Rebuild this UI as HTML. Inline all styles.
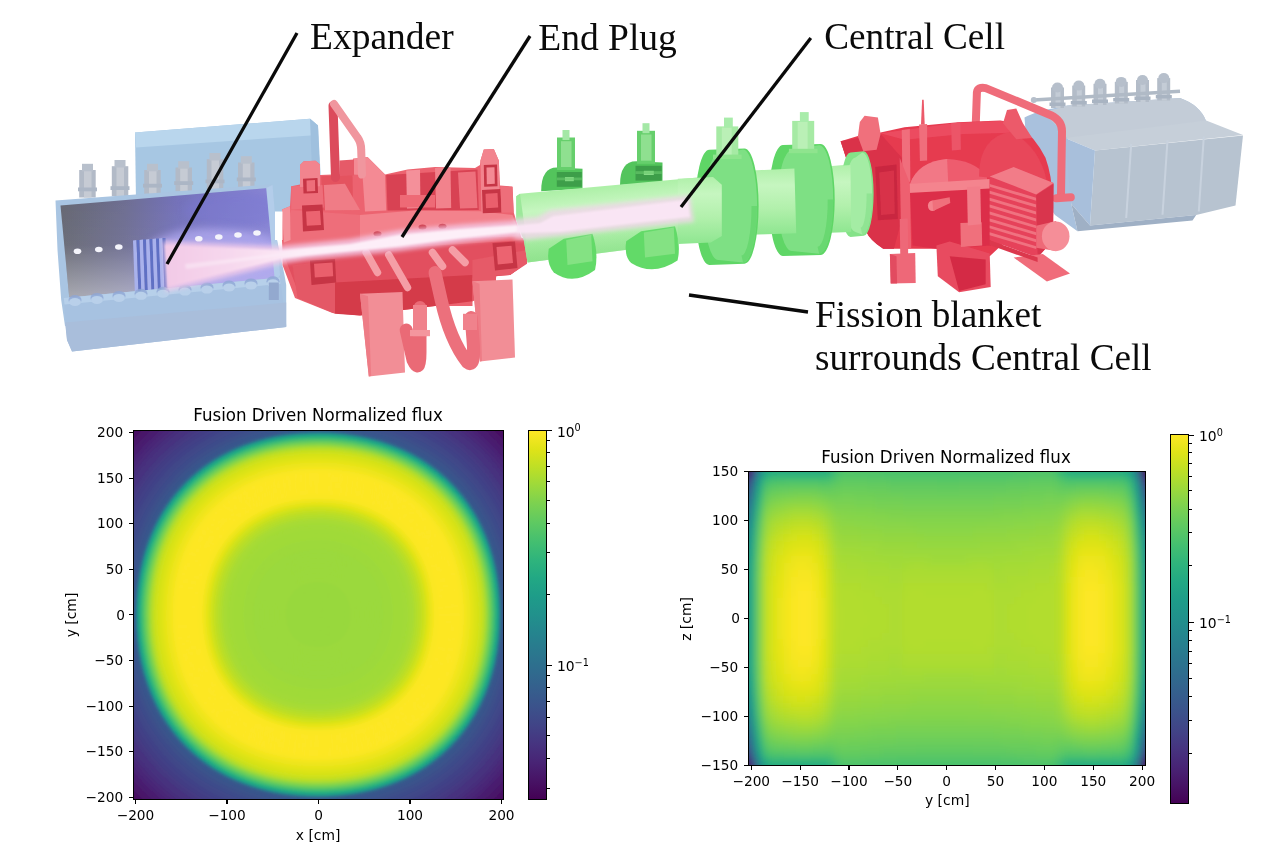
<!DOCTYPE html>
<html><head><meta charset="utf-8"><title>Fusion Driven Normalized flux</title>
<style>
html,body{margin:0;padding:0;background:#fff}
body{width:1280px;height:864px;position:relative;overflow:hidden;font-family:"DejaVu Sans","Liberation Sans",sans-serif;color:#000}
.abs{position:absolute}
.lbl{position:absolute;font-family:"Liberation Serif",serif;font-size:37.5px;line-height:1;white-space:nowrap;color:#0a0a0a}
.ax{position:absolute;box-sizing:border-box;border:1.1px solid #000}
.tk{position:absolute;background:#000}
.tl{position:absolute;font-size:13.7px;line-height:17px;white-space:nowrap}
.tl.c{width:80px;text-align:center}
.ttl{position:absolute;font-size:16.67px;line-height:20px;white-space:nowrap;width:400px;text-align:center;transform:scaleY(1.06);transform-origin:50% 78%}
.al{position:absolute;font-size:13.89px;line-height:17px;white-space:nowrap}
.cbl{position:absolute;font-size:13.89px;line-height:17px;white-space:nowrap}
.cbl sup{font-size:9.7px;line-height:0;position:relative;top:0.5px;vertical-align:super}
</style></head><body>
<svg id="machine" width="1280" height="400" viewBox="0 0 1280 400" style="position:absolute;left:0;top:0">
<defs>
<filter id="soft" x="-2%" y="-2%" width="104%" height="104%"><feGaussianBlur stdDeviation="0.7"/></filter>
<filter id="bl2" x="-20%" y="-20%" width="140%" height="140%"><feGaussianBlur stdDeviation="2"/></filter>
<filter id="bl4" x="-20%" y="-20%" width="140%" height="140%"><feGaussianBlur stdDeviation="4"/></filter>
<filter id="bl1" x="-20%" y="-20%" width="140%" height="140%"><feGaussianBlur stdDeviation="1.2"/></filter>
<linearGradient id="exi" gradientUnits="userSpaceOnUse" x1="60" y1="0" x2="275" y2="0"><stop offset="0" stop-color="#666872"/><stop offset="0.3" stop-color="#6e6e92"/><stop offset="0.55" stop-color="#7472ba"/><stop offset="1" stop-color="#8a86d6"/></linearGradient>
<linearGradient id="exv" gradientUnits="userSpaceOnUse" x1="0" y1="200" x2="0" y2="300"><stop offset="0" stop-color="#ffffff" stop-opacity="0"/><stop offset="0.45" stop-color="#ffffff" stop-opacity="0.04"/><stop offset="1" stop-color="#ffffff" stop-opacity="0.45"/></linearGradient>
<clipPath id="exclip"><polygon points="60.5,205.5 268.0,188.0 275.5,282.5 69.5,300.5"/></clipPath>
<linearGradient id="tubem" gradientUnits="userSpaceOnUse" x1="516" y1="196" x2="522.6" y2="263"><stop offset="0" stop-color="#aef0a8"/><stop offset="0.25" stop-color="#c6f6c0"/><stop offset="0.6" stop-color="#b4f0ae"/><stop offset="1" stop-color="#90e690"/></linearGradient>
<linearGradient id="tubesh" gradientUnits="userSpaceOnUse" x1="0" y1="230" x2="0" y2="265"><stop offset="0" stop-color="#9be694" stop-opacity="0"/><stop offset="1" stop-color="#8fe08c" stop-opacity="0.7"/></linearGradient>
<linearGradient id="tubeg" gradientUnits="objectBoundingBox" x1="0" y1="0" x2="0" y2="1"><stop offset="0" stop-color="#b0f0aa"/><stop offset="0.25" stop-color="#c6f6c0"/><stop offset="0.6" stop-color="#b2f0ac"/><stop offset="1" stop-color="#8ee690"/></linearGradient>
<linearGradient id="coreg" gradientUnits="userSpaceOnUse" x1="165" y1="0" x2="517" y2="0"><stop offset="0" stop-color="#f2c9e6"/><stop offset="0.2" stop-color="#f7d9ee"/><stop offset="0.4" stop-color="#fdeef8"/><stop offset="1" stop-color="#fdf0f8"/></linearGradient>
</defs>
<g filter="url(#soft)">
<polygon points="135.0,132.5 310.0,118.8 318.0,125.5 320.5,172.5 321.2,215.0 136.2,215.0" fill="#a7c7e3" />
<polygon points="135.0,132.5 310.0,118.8 318.0,125.5 318.0,135.0 135.8,147.5" fill="#b9d6ed" />
<polygon points="310.0,118.8 318.0,125.5 321.2,215.0 313.8,215.0" fill="#9fc0de" />
<rect x="79.2" y="170.0" width="16.5" height="27.5" fill="#b2bac7" />
<rect x="84.0" y="170.0" width="7.5" height="27.5" fill="#c6cbd4" />
<rect x="82.0" y="163.8" width="11.0" height="7.5" fill="#b8c0cc" />
<rect x="78.0" y="187.5" width="19.0" height="3.8" fill="#acb6c5" />
<rect x="111.8" y="166.2" width="16.5" height="30.0" fill="#b2bac7" />
<rect x="116.5" y="166.2" width="7.5" height="30.0" fill="#c6cbd4" />
<rect x="114.5" y="160.0" width="11.0" height="7.5" fill="#b8c0cc" />
<rect x="110.5" y="186.2" width="19.0" height="3.8" fill="#acb6c5" />
<rect x="144.2" y="170.0" width="16.5" height="23.8" fill="#b2bac7" />
<rect x="149.0" y="170.0" width="7.5" height="23.8" fill="#c6cbd4" />
<rect x="147.0" y="163.8" width="11.0" height="7.5" fill="#b8c0cc" />
<rect x="143.0" y="183.8" width="19.0" height="3.8" fill="#acb6c5" />
<rect x="175.5" y="167.5" width="16.5" height="23.8" fill="#b2bac7" />
<rect x="180.2" y="167.5" width="7.5" height="23.8" fill="#c6cbd4" />
<rect x="178.2" y="161.2" width="11.0" height="7.5" fill="#b8c0cc" />
<rect x="174.2" y="181.2" width="19.0" height="3.8" fill="#acb6c5" />
<rect x="206.8" y="159.2" width="16.5" height="30.2" fill="#b2bac7" />
<rect x="211.5" y="159.2" width="7.5" height="30.2" fill="#c6cbd4" />
<rect x="209.5" y="153.0" width="11.0" height="7.5" fill="#b8c0cc" />
<rect x="205.5" y="179.5" width="19.0" height="3.8" fill="#acb6c5" />
<rect x="238.0" y="162.5" width="16.5" height="25.0" fill="#b2bac7" />
<rect x="242.8" y="162.5" width="7.5" height="25.0" fill="#c6cbd4" />
<rect x="240.8" y="156.2" width="11.0" height="7.5" fill="#b8c0cc" />
<rect x="236.8" y="177.5" width="19.0" height="3.8" fill="#acb6c5" />
<polygon points="55.5,200.5 268.8,184.5 272.5,185.0 277.0,240.0 284.5,275.0 286.2,285.0 286.2,326.0 65.0,326.0 61.2,300.0 57.5,250.0" fill="#a9c5e2" />
<polygon points="60.5,205.5 268.0,188.0 275.5,282.5 69.5,300.5" fill="url(#exi)" />
<polygon points="60.5,205.5 268.0,188.0 275.5,282.5 69.5,300.5" fill="url(#exv)" />
<g clip-path="url(#exclip)">
<ellipse cx="215.0" cy="260.0" rx="75.0" ry="32.5" fill="#b4acf2" opacity="0.75" filter="url(#bl4)"/>
<ellipse cx="235.0" cy="210.0" rx="50.0" ry="17.5" fill="#7a78d2" opacity="0.5" filter="url(#bl4)"/>
</g>
<polygon points="266.2,188.0 272.5,185.0 280.0,275.0 275.0,282.5" fill="#b3cdea" />
<ellipse cx="77.5" cy="251.2" rx="3.8" ry="2.8" fill="#f4f4fb" />
<ellipse cx="98.8" cy="249.5" rx="3.8" ry="2.8" fill="#f4f4fb" />
<ellipse cx="118.8" cy="247.0" rx="3.8" ry="2.8" fill="#f4f4fb" />
<ellipse cx="198.8" cy="238.8" rx="3.8" ry="2.8" fill="#f4f4fb" />
<ellipse cx="218.8" cy="237.0" rx="3.8" ry="2.8" fill="#f4f4fb" />
<ellipse cx="238.0" cy="235.0" rx="3.8" ry="2.8" fill="#f4f4fb" />
<ellipse cx="257.0" cy="233.0" rx="3.8" ry="2.8" fill="#f4f4fb" />
<polygon points="133.0,240.5 136.5,240.0 138.5,295.0 135.0,296.2" fill="#a9b2ec" />
<polygon points="136.5,240.0 139.5,240.0 141.5,294.5 138.5,295.0" fill="#5f70c4" />
<polygon points="139.5,240.0 143.0,239.5 145.0,294.0 141.5,295.2" fill="#a9b2ec" />
<polygon points="143.0,239.5 146.0,239.5 148.0,293.5 145.0,294.0" fill="#5f70c4" />
<polygon points="146.0,239.5 149.5,239.0 151.5,293.0 148.0,294.2" fill="#a9b2ec" />
<polygon points="149.5,239.0 152.5,239.0 154.5,292.5 151.5,293.0" fill="#5f70c4" />
<polygon points="152.5,239.0 156.0,238.5 158.0,292.0 154.5,293.2" fill="#a9b2ec" />
<polygon points="156.0,238.5 159.0,238.5 161.0,291.5 158.0,292.0" fill="#5f70c4" />
<polygon points="159.0,238.5 162.5,238.0 164.5,291.0 161.0,292.2" fill="#a9b2ec" />
<polygon points="162.5,238.0 165.5,238.0 167.5,290.5 164.5,291.0" fill="#5f70c4" />
<polygon points="63.8,298.0 280.0,277.5 286.2,325.0 286.2,327.0 72.0,351.5 67.0,340.0" fill="#a7c2e1" />
<polygon points="63.8,298.0 280.0,277.5 280.5,283.8 64.5,304.5" fill="#b7d0ea" />
<polygon points="65.0,322.5 286.2,302.5 286.2,327.0 72.0,351.5 67.0,340.0" fill="#a9bedb" />
<ellipse cx="75.0" cy="300.0" rx="6.5" ry="5.0" fill="#8fa6d4" opacity="0.8"/>
<ellipse cx="75.0" cy="302.0" rx="6.0" ry="4.0" fill="#b9d0ea" />
<ellipse cx="97.0" cy="297.9" rx="6.5" ry="5.0" fill="#8fa6d4" opacity="0.8"/>
<ellipse cx="97.0" cy="299.9" rx="6.0" ry="4.0" fill="#b9d0ea" />
<ellipse cx="119.0" cy="295.9" rx="6.5" ry="5.0" fill="#8fa6d4" opacity="0.8"/>
<ellipse cx="119.0" cy="297.9" rx="6.0" ry="4.0" fill="#b9d0ea" />
<ellipse cx="141.0" cy="293.8" rx="6.5" ry="5.0" fill="#8fa6d4" opacity="0.8"/>
<ellipse cx="141.0" cy="295.8" rx="6.0" ry="4.0" fill="#b9d0ea" />
<ellipse cx="163.0" cy="291.7" rx="6.5" ry="5.0" fill="#8fa6d4" opacity="0.8"/>
<ellipse cx="163.0" cy="293.7" rx="6.0" ry="4.0" fill="#b9d0ea" />
<ellipse cx="185.0" cy="289.6" rx="6.5" ry="5.0" fill="#8fa6d4" opacity="0.8"/>
<ellipse cx="185.0" cy="291.6" rx="6.0" ry="4.0" fill="#b9d0ea" />
<ellipse cx="207.0" cy="287.6" rx="6.5" ry="5.0" fill="#8fa6d4" opacity="0.8"/>
<ellipse cx="207.0" cy="289.6" rx="6.0" ry="4.0" fill="#b9d0ea" />
<ellipse cx="229.0" cy="285.5" rx="6.5" ry="5.0" fill="#8fa6d4" opacity="0.8"/>
<ellipse cx="229.0" cy="287.5" rx="6.0" ry="4.0" fill="#b9d0ea" />
<ellipse cx="251.0" cy="283.4" rx="6.5" ry="5.0" fill="#8fa6d4" opacity="0.8"/>
<ellipse cx="251.0" cy="285.4" rx="6.0" ry="4.0" fill="#b9d0ea" />
<ellipse cx="273.0" cy="281.3" rx="6.5" ry="5.0" fill="#8fa6d4" opacity="0.8"/>
<ellipse cx="273.0" cy="283.3" rx="6.0" ry="4.0" fill="#b9d0ea" />
<rect x="268.8" y="282.5" width="10.0" height="17.5" fill="#93a9cf" />
<polygon points="282.0,209.5 290.0,206.2 291.2,186.2 300.0,184.5 300.0,165.0 303.8,161.2 315.5,160.8 320.0,164.5 320.0,175.0 352.5,173.8 353.0,158.8 367.5,157.0 385.0,174.5 407.5,169.5 435.0,167.0 475.0,168.0 480.0,165.0 480.5,160.5 483.8,149.5 493.8,149.0 498.8,160.5 500.0,185.5 512.5,186.5 513.8,212.5 521.2,237.5 527.0,240.0 527.0,262.5 510.0,275.0 496.2,276.2 495.0,290.0 472.5,292.5 472.5,306.0 335.0,306.0 297.5,297.5 283.8,265.0 282.0,240.0" fill="#ec6470" />
<polygon points="282.5,265.0 295.0,298.0 332.5,313.0 360.0,315.5 472.5,301.2 495.0,290.0 496.2,275.0 510.0,275.0 527.0,262.5 527.0,240.0 282.5,240.0" fill="#ec6470" />
<polygon points="386.2,175.0 477.5,169.5 478.8,210.0 387.5,210.5" fill="#d84252" />
<polygon points="321.2,176.2 352.5,175.0 353.0,210.0 322.5,210.5" fill="#e4525f" />
<polygon points="323.8,185.0 345.0,183.8 360.0,210.0 325.0,210.5" fill="#f07c86" />
<polygon points="360.0,215.0 415.0,210.5 480.0,211.2 512.5,215.0 520.0,236.2 415.0,240.0 360.0,246.2" fill="#f3828c" />
<polygon points="291.2,210.0 360.0,215.0 360.0,246.2 285.0,250.0 283.8,240.0" fill="#ee6e7a" />
<polygon points="283.8,255.0 525.0,240.0 527.0,262.5 510.0,275.0 335.0,287.5 297.5,290.0" fill="#e2505e" />
<polygon points="335.0,282.5 472.5,275.0 472.5,301.2 360.0,315.5 335.0,313.8" fill="#d43a4a" />
<polygon points="292.5,265.5 335.0,260.0 335.0,313.8 297.5,298.0" fill="#e45866" />
<polygon points="472.5,260.0 527.0,250.0 527.0,263.8 510.0,275.0 496.2,275.0 495.0,290.0 472.5,301.2" fill="#e65a68" />
<polygon points="406.2,170.5 420.0,169.8 420.5,208.0 407.0,208.5" fill="#f4909a" />
<polygon points="435.0,168.0 450.5,167.5 451.2,208.0 436.0,208.5" fill="#f2828c" />
<polygon points="458.0,172.5 475.5,171.5 477.5,208.0 460.0,208.5" fill="#ee707c" />
<rect x="400.0" y="195.0" width="35.0" height="12.5" fill="#ee6a76" />
<polygon points="353.0,158.8 367.5,157.0 385.0,174.5 386.2,210.5 365.0,211.5 362.5,175.0 353.0,174.5" fill="#f48a94" />
<polygon points="291.2,186.2 322.5,185.0 323.8,207.5 291.2,209.5" fill="#ee6e7a" />
<polygon points="300.0,165.0 303.8,161.2 315.5,160.8 320.0,164.5 320.0,186.2 300.0,187.0" fill="#f2848e" />
<polygon points="303.0,178.8 317.5,178.0 318.0,193.0 303.5,193.5" fill="#c63444" />
<polygon points="306.5,180.5 315.0,180.0 315.2,191.0 306.8,191.5" fill="#ee6e7a" />
<polygon points="302.0,205.5 322.5,204.5 324.0,230.0 303.0,231.5" fill="#c63444" />
<polygon points="306.0,211.5 320.0,210.8 321.0,225.0 306.8,225.8" fill="#ec6470" />
<polygon points="282.0,209.5 290.0,206.2 290.5,240.0 283.8,242.5" fill="#f4929a" />
<polygon points="480.5,160.5 483.8,149.5 493.8,149.0 498.8,160.5 500.0,210.5 481.5,211.5" fill="#f2848e" />
<polygon points="483.8,165.0 497.0,164.5 497.5,186.2 484.2,186.8" fill="#c63444" />
<polygon points="486.5,167.5 494.5,167.2 494.8,183.8 486.8,184.2" fill="#f48a94" />
<polygon points="482.0,190.0 500.5,189.0 501.5,212.5 482.8,213.2" fill="#c63444" />
<polygon points="485.5,193.8 497.5,193.0 498.2,207.5 486.0,208.2" fill="#ea5e6c" />
<polygon points="500.5,186.0 512.5,187.0 513.5,212.5 501.5,212.5" fill="#ee6e7a" />
<polygon points="310.0,260.5 335.0,259.0 336.2,282.5 311.5,285.0" fill="#c63444" />
<polygon points="314.0,263.8 332.5,262.5 333.2,276.2 314.8,277.5" fill="#ea5e6c" />
<polygon points="492.5,243.0 515.0,241.5 517.5,268.0 495.0,270.5" fill="#c63444" />
<polygon points="496.5,247.0 511.5,245.8 513.0,263.0 497.8,264.5" fill="#ec6470" />
<ellipse cx="377.5" cy="233.8" rx="4.0" ry="2.5" fill="#cc3a4a" />
<ellipse cx="422.5" cy="227.0" rx="4.0" ry="2.5" fill="#cc3a4a" />
<ellipse cx="442.5" cy="226.2" rx="4.0" ry="2.5" fill="#cc3a4a" />
<path d="M366.2,252.5 L377.5,272.5" fill="none" stroke="#f59ea6" stroke-width="7.5" stroke-linecap="round"/>
<path d="M388.8,255.0 L407.5,287.5" fill="none" stroke="#f59ea6" stroke-width="7.5" stroke-linecap="round"/>
<path d="M432.5,252.5 L442.5,266.2" fill="none" stroke="#f59ea6" stroke-width="7.5" stroke-linecap="round"/>
<path d="M452.5,250.0 L465.0,262.5" fill="none" stroke="#f59ea6" stroke-width="7.5" stroke-linecap="round"/>
<polygon points="339.5,160.5 354.0,159.5 354.0,175.5 339.5,175.5" fill="#e65a68" />
<path d="M335.5,177.5 L333.0,105.5" fill="none" stroke="#dc4c5c" stroke-width="9" stroke-linecap="round"/>
<path d="M334.0,104.0 L357.5,137.5 Q361.2,142.5 361.2,150.0 L362.0,174.5" fill="none" stroke="#f0969e" stroke-width="8" stroke-linejoin="round" stroke-linecap="round"/>
<polygon points="360.0,293.8 402.5,292.0 405.0,372.5 368.8,376.5" fill="#f28e96" />
<polygon points="360.0,293.8 368.0,296.2 371.2,376.0 368.8,376.5" fill="#ee7c86" />
<polygon points="472.5,281.2 512.5,279.5 515.0,357.5 480.0,361.5" fill="#f28e96" />
<polygon points="472.5,281.2 479.5,283.8 482.0,361.0 480.0,361.5" fill="#ee7c86" />
<path d="M420.0,307.5 L420.0,352.5 Q420.0,375.0 413.0,360.0 L406.2,330.0" fill="none" stroke="#ea6a76" stroke-width="13" stroke-linecap="round" stroke-linejoin="round"/>
<path d="M435.0,272.5 L441.2,300.0 Q450.0,340.0 467.5,362.5 Q475.5,368.8 473.0,340.0 L471.2,317.5" fill="none" stroke="#ec707c" stroke-width="13" stroke-linecap="round" stroke-linejoin="round"/>
<rect x="413.0" y="305.0" width="14.0" height="31.2" fill="#f0828c" />
<rect x="410.0" y="330.0" width="20.0" height="6.2" fill="#f4969e" />
<rect x="463.0" y="313.8" width="14.0" height="16.2" fill="#f0828c" />
<rect x="275.0" y="211.5" width="7.5" height="28.5" fill="#ffffff" />
<path d="M1024.5,117.5 Q1035.0,111.2 1067.5,105.5 L1180.0,98.0 Q1200.0,105.0 1206.2,121.2 L1067.5,138.8 L1071.2,203.8 L1077.5,231.2 L1055.0,215.0 Q1027.5,180.0 1024.5,117.5 Z" fill="#a9c1dd" />
<path d="M1042.5,112.5 L1067.5,105.5 L1180.0,98.0 Q1200.0,105.0 1206.2,121.2 L1067.5,138.8 Q1055.0,122.5 1042.5,112.5 Z" fill="#c3ccd7" />
<polygon points="1065.0,138.0 1206.2,120.5 1243.0,135.0 1095.0,150.5" fill="#c6cfd9" />
<polygon points="1095.0,150.5 1243.0,135.5 1235.5,205.5 1196.2,215.0 1090.0,225.5" fill="#b7c3d0" />
<polygon points="1065.0,138.0 1095.0,150.5 1090.0,225.5 1071.2,203.8" fill="#a8bfdb" />
<polygon points="1071.2,203.8 1090.0,225.5 1196.2,215.0 1192.5,220.5 1077.5,231.2" fill="#9fb0c5" />
<path d="M1131.2,143.9 L1126.2,218.0" fill="none" stroke="#c8d2de" stroke-width="2"/>
<path d="M1167.5,140.2 L1162.5,214.7" fill="none" stroke="#c8d2de" stroke-width="2"/>
<path d="M1203.8,136.6 L1198.8,211.5" fill="none" stroke="#c8d2de" stroke-width="2"/>
<rect x="1051.0" y="87.5" width="13.0" height="20.5" fill="#b3bcc8" />
<rect x="1055.5" y="87.5" width="5.0" height="20.5" fill="#c4ccd6" />
<ellipse cx="1057.5" cy="87.5" rx="5.5" ry="5.0" fill="#b6bfcb" />
<rect x="1049.5" y="102.5" width="16.0" height="3.5" fill="#a9b4c2" />
<rect x="1072.2" y="85.6" width="13.0" height="20.9" fill="#b3bcc8" />
<rect x="1076.8" y="85.6" width="5.0" height="20.9" fill="#c4ccd6" />
<ellipse cx="1078.8" cy="85.6" rx="5.5" ry="5.0" fill="#b6bfcb" />
<rect x="1070.8" y="101.0" width="16.0" height="3.5" fill="#a9b4c2" />
<rect x="1093.5" y="83.8" width="13.0" height="21.2" fill="#b3bcc8" />
<rect x="1098.0" y="83.8" width="5.0" height="21.2" fill="#c4ccd6" />
<ellipse cx="1100.0" cy="83.8" rx="5.5" ry="5.0" fill="#b6bfcb" />
<rect x="1092.0" y="99.5" width="16.0" height="3.5" fill="#a9b4c2" />
<rect x="1114.8" y="81.9" width="13.0" height="21.6" fill="#b3bcc8" />
<rect x="1119.2" y="81.9" width="5.0" height="21.6" fill="#c4ccd6" />
<ellipse cx="1121.2" cy="81.9" rx="5.5" ry="5.0" fill="#b6bfcb" />
<rect x="1113.2" y="98.0" width="16.0" height="3.5" fill="#a9b4c2" />
<rect x="1136.0" y="80.0" width="13.0" height="22.0" fill="#b3bcc8" />
<rect x="1140.5" y="80.0" width="5.0" height="22.0" fill="#c4ccd6" />
<ellipse cx="1142.5" cy="80.0" rx="5.5" ry="5.0" fill="#b6bfcb" />
<rect x="1134.5" y="96.5" width="16.0" height="3.5" fill="#a9b4c2" />
<rect x="1157.2" y="78.1" width="13.0" height="22.4" fill="#b3bcc8" />
<rect x="1161.8" y="78.1" width="5.0" height="22.4" fill="#c4ccd6" />
<ellipse cx="1163.8" cy="78.1" rx="5.5" ry="5.0" fill="#b6bfcb" />
<rect x="1155.8" y="95.0" width="16.0" height="3.5" fill="#a9b4c2" />
<path d="M1033.8,100.0 L1180.0,91.2" fill="none" stroke="#b0bac6" stroke-width="3.5"/>
<ellipse cx="1033.8" cy="100.0" rx="3.0" ry="3.0" fill="#b6bfcb" />
<path d="M975.8,123.2 L976.9,92.6 Q977.7,86.5 985.7,88.1 L1050.9,115.2 Q1062.0,120.6 1062.0,131.2 L1061.0,195.1" fill="none" stroke="#ef6c7a" stroke-width="8" stroke-linejoin="round" stroke-linecap="round"/>
<path d="M1056.2,198.3 L1070.8,197.2" fill="none" stroke="#ef6c7a" stroke-width="8" stroke-linecap="round"/>
<path d="M840.6,141.3 L857.9,136.0 L880.6,132.5 L904.5,127.2 L957.7,122.2 L1000.3,120.6 L1016.3,123.2 Q1034.9,136.5 1045.5,157.8 Q1052.2,176.4 1052.2,197.7 L989.7,256.3 L936.4,248.8 L883.2,248.8 Q869.9,240.3 865.9,231.0 L869.9,203.0 L864.6,171.1 L846.0,157.8 Z" fill="#e63a50" />
<path d="M840.6,141.3 L880.6,133.9 L901.8,157.8 L901.8,219.0 L893.9,248.8 L883.2,248.8 Q869.9,240.3 865.9,231.0 L869.9,203.0 L864.6,171.1 L846.0,157.8 Z" fill="#da3049" />
<polygon points="875.2,167.1 896.5,164.5 897.9,219.0 877.9,220.3" fill="#c9283f" />
<polygon points="879.2,172.4 893.9,170.6 894.7,213.7 881.1,215.0" fill="#d8324a" />
<polygon points="880.6,133.3 957.7,122.7 1000.3,121.1 1016.3,123.8 1021.6,132.5 963.0,133.9 904.5,139.7" fill="#ec4c60" />
<polygon points="901.8,129.9 909.8,129.1 910.4,181.8 902.4,183.1" fill="#f06e7c" />
<polygon points="919.1,124.6 927.1,124.0 927.1,160.5 919.9,161.0" fill="#f06e7c" />
<polygon points="922.1,99.8 923.7,99.8 924.7,124.6 921.0,124.6" fill="#ec5a6a" />
<polygon points="951.1,123.2 960.4,122.7 960.9,149.8 951.9,150.4" fill="#ec5468" />
<path d="M909.8,184.4 Q917.8,161.8 947.1,159.1 Q973.7,159.9 987.0,176.4 L987.0,187.1 L909.8,191.1 Z" fill="#ee5c6e" />
<path d="M909.8,184.4 Q917.8,161.8 947.1,159.1 L948.4,187.1 L909.8,191.1 Z" fill="#f27886" />
<path d="M979.0,176.4 Q979.0,136.5 1010.9,131.7 Q1040.2,147.2 1046.9,181.8 L1016.3,176.4 L989.7,177.8 Z" fill="#e8465a" />
<polygon points="909.8,189.7 989.7,185.0 991.0,245.6 936.4,248.8 912.5,245.6" fill="#dc2e48" />
<polygon points="907.7,183.9 989.7,179.1 989.7,188.4 908.2,192.9" fill="#f4848e" />
<polygon points="899.7,157.8 909.8,183.1 911.2,248.3 901.3,248.8" fill="#ee6070" />
<ellipse cx="932.4" cy="205.7" rx="4.5" ry="5.3" fill="#f4848e" />
<polygon points="932.4,200.4 949.7,197.2 950.3,203.0 933.2,211.0" fill="#f0707c" />
<polygon points="989.7,176.4 1013.6,167.1 1053.5,183.1 1053.0,240.3 1037.6,257.6 989.7,240.3" fill="#e6425a" />
<polygon points="989.7,183.9 1036.2,197.7 1036.2,200.7 989.7,186.8" fill="#f07280" />
<polygon points="989.7,190.8 1036.2,204.6 1036.2,207.6 989.7,193.7" fill="#f07280" />
<polygon points="989.7,197.7 1036.2,211.6 1036.2,214.5 989.7,200.7" fill="#f07280" />
<polygon points="989.7,204.6 1036.2,218.5 1036.2,221.4 989.7,207.6" fill="#f07280" />
<polygon points="989.7,211.6 1036.2,225.4 1036.2,228.3 989.7,214.5" fill="#f07280" />
<polygon points="989.7,218.5 1036.2,232.3 1036.2,235.2 989.7,221.4" fill="#f07280" />
<polygon points="989.7,225.4 1036.2,239.2 1036.2,242.2 989.7,228.3" fill="#f07280" />
<polygon points="989.7,232.3 1036.2,246.2 1036.2,249.1 989.7,235.2" fill="#f07280" />
<polygon points="1036.2,195.1 1053.5,183.9 1053.0,240.3 1037.6,257.6" fill="#d9364e" />
<polygon points="989.7,176.4 1013.6,167.1 1053.5,183.1 1036.2,194.5" fill="#f27c88" />
<polygon points="1036.2,225.7 1056.2,221.1 1056.2,250.9 1036.2,247.8" fill="#ee6a78" />
<ellipse cx="1055.7" cy="236.3" rx="13.8" ry="14.9" fill="#f58e98" />
<polygon points="859.8,121.9 864.6,115.8 877.9,117.4 880.6,133.9 876.6,149.8 863.3,151.2 857.9,136.5" fill="#f0707c" />
<polygon points="1003.0,123.2 1007.0,109.9 1016.3,108.6 1022.9,123.2 1032.2,137.9 1016.3,139.2" fill="#ec5a6a" />
<polygon points="889.9,254.1 915.2,253.1 915.7,282.9 890.7,283.4" fill="#ee6878" />
<polygon points="889.9,254.1 896.5,256.3 897.1,283.4 890.7,283.4" fill="#e24c60" />
<polygon points="899.7,219.0 907.7,218.5 908.2,256.3 900.3,256.8" fill="#ee6878" />
<polygon points="936.4,245.6 949.7,241.6 989.7,253.6 990.7,286.9 959.1,292.2 937.8,276.2" fill="#e84c60" />
<polygon points="949.7,256.3 985.7,259.5 985.7,284.2 959.1,290.9" fill="#d42c44" />
<polygon points="960.4,223.0 981.7,222.2 982.2,245.6 960.9,247.0" fill="#f0707c" />
<polygon points="967.0,187.1 980.3,186.6 981.1,224.3 967.8,225.4" fill="#f27e8a" />
<polygon points="1013.6,257.6 1042.9,254.1 1070.0,273.6 1046.9,281.5" fill="#f06c7a" />
<polygon points="989.7,240.3 1037.6,257.6 1037.6,262.1 989.7,245.1" fill="#dc384e" />
<path d="M541.2,191.2 Q541.2,167.5 556.9,167.5 L582.5,168.8 L582.5,188.8 Z" fill="#52c45c" />
<rect x="556.8" y="172.0" width="25.0" height="14.8" fill="#3c9e48" />
<rect x="565.0" y="177.0" width="8.8" height="4.2" fill="#86da86" />
<rect x="556.8" y="177.5" width="25.0" height="2.8" fill="#6ccc70" opacity="0.6"/>
<path d="M620.0,185.0 Q620.0,161.2 636.2,161.2 L662.5,162.5 L662.5,182.5 Z" fill="#52c45c" />
<rect x="635.5" y="165.8" width="26.2" height="14.8" fill="#3c9e48" />
<rect x="643.8" y="170.8" width="10.0" height="4.2" fill="#86da86" />
<rect x="635.5" y="171.2" width="26.2" height="2.8" fill="#6ccc70" opacity="0.6"/>
<rect x="557.0" y="137.5" width="18.0" height="32.5" fill="#66cf6c" />
<rect x="561.0" y="141.2" width="10.5" height="25.8" fill="#8fe090" />
<rect x="562.5" y="130.0" width="7.0" height="10.0" fill="#a4e8a6" />
<rect x="637.0" y="130.8" width="18.0" height="33.0" fill="#66cf6c" />
<rect x="641.0" y="134.5" width="10.5" height="26.2" fill="#8fe090" />
<rect x="642.5" y="123.2" width="7.0" height="10.0" fill="#a4e8a6" />
<polygon points="516.2,196.2 520.0,193.8 697.5,177.5 720.0,177.5 722.5,237.5 527.5,262.5 523.8,240.0 516.2,220.0" fill="url(#tubem)" />
<polygon points="516.2,196.2 520.0,193.8 525.0,230.0 527.5,262.5 523.8,240.0 516.2,220.0" fill="#9ce89a" />
<polygon points="525.0,230.0 722.5,210.0 722.5,237.5 527.5,262.5" fill="url(#tubesh)" />
<polygon points="692.5,178.0 720.0,177.5 722.5,237.5 695.0,240.0" fill="#c3f3bc" />
<path d="M548.8,248.8 L563.8,238.8 L592.5,233.8 Q598.8,253.8 595.0,270.0 Q573.1,286.2 553.8,272.5 Q546.2,263.8 548.8,248.8 Z" fill="#62da68" />
<path d="M566.2,240.0 L591.2,235.0 L592.5,261.2 L567.5,265.0 Z" fill="#84e283" />
<path d="M626.2,241.2 L641.2,231.2 L675.0,226.2 Q681.2,246.2 677.5,260.5 Q653.1,276.8 631.2,263.0 Q623.8,256.2 626.2,241.2 Z" fill="#62da68" />
<path d="M643.8,232.5 L673.8,227.5 L675.0,253.8 L645.0,257.5 Z" fill="#84e283" />
<polygon points="831.8,166.0 856.0,164.2 856.0,232.0 834.0,232.0" fill="#b4efae" />
<path d="M850.5,152.4 A9.9,42.2 0 0 0 850.5,236.9 L863.7,235.8 A9.9,42.2 0 0 0 863.7,151.3 Z" fill="#84e288"/>
<path d="M855.5,157.4 A9.9,37.2 0 0 0 855.5,231.9 L862.2,234.6 A9.9,41.0 0 0 0 862.2,152.5 Z" fill="#a4eca4"/>
<path d="M862.2,234.6 A9.9,41.0 0 0 0 872.1,193.5 L866.6,193.5 A5.9,33.0 0 0 1 860.7,227.6 Z" fill="#84e088" opacity="0.6"/>
<polygon points="820.8,167.1 850.5,165.1 851.2,232.0 823.0,233.1" fill="url(#tubeg)" />
<path d="M783.0,145.1 A14.1,55.4 0 0 0 783.0,256.0 L820.6,254.9 A14.1,55.4 0 0 0 820.6,144.0 Z" fill="#5ed666"/>
<path d="M792.0,150.1 A14.1,50.4 0 0 0 792.0,251.0 L819.1,253.7 A14.1,54.2 0 0 0 819.1,145.2 Z" fill="#7ee084"/>
<path d="M819.1,253.7 A14.1,54.2 0 0 0 833.2,199.4 L827.7,199.4 A10.1,46.2 0 0 1 817.6,246.7 Z" fill="#5cd264" opacity="0.6"/>
<rect x="792.2" y="120.9" width="22.0" height="30.1" fill="#a6eaa4" />
<rect x="797.7" y="122.0" width="9.9" height="28.2" fill="#baf0b6" />
<rect x="799.9" y="112.1" width="8.8" height="9.9" fill="#a8ecaa" />
<rect x="788.9" y="148.8" width="28.6" height="4.4" fill="#8fe48e" />
<polygon points="746.0,170.8 794.4,168.6 796.2,233.3 748.2,234.7" fill="url(#tubeg)" />
<path d="M709.3,149.7 A14.1,57.6 0 0 0 709.3,265.0 L744.5,263.7 A14.1,57.6 0 0 0 744.5,148.4 Z" fill="#5ed666"/>
<path d="M718.3,154.7 A14.1,52.6 0 0 0 718.3,260.0 L743.0,262.5 A14.1,56.4 0 0 0 743.0,149.6 Z" fill="#7ee084"/>
<path d="M743.0,262.5 A14.1,56.4 0 0 0 757.0,206.1 L751.5,206.1 A10.1,48.4 0 0 1 741.5,255.5 Z" fill="#5cd264" opacity="0.6"/>
<rect x="716.3" y="126.4" width="22.0" height="30.4" fill="#a6eaa4" />
<rect x="721.8" y="127.5" width="9.9" height="28.6" fill="#baf0b6" />
<rect x="724.0" y="117.6" width="8.8" height="9.9" fill="#a8ecaa" />
<rect x="713.0" y="154.6" width="28.6" height="4.4" fill="#8fe48e" />
<polygon points="677.8,178.8 713.0,177.0 721.8,184.7 721.8,236.0 710.8,242.6 677.8,244.1" fill="url(#tubeg)" />
</g>
<g filter="url(#bl2)" opacity="0.8">
<polygon points="163.0,241.0 280.0,246.0 350.0,239.0 400.0,230.0 460.0,224.5 517.0,220.5 517.0,237.0 460.0,243.0 400.0,251.0 350.0,256.0 306.0,260.0 280.0,264.0 166.0,292.0" fill="#f4cdea" />
<polygon points="514.0,219.0 537.0,217.0 550.0,210.0 690.0,195.0 694.0,222.0 525.0,240.0 514.0,239.0" fill="#f3d6ec" />
</g>
<g filter="url(#bl1)">
<polygon points="165.0,245.0 280.0,250.0 350.0,244.0 400.0,234.5 460.0,229.0 517.0,225.0 517.0,232.5 460.0,238.5 400.0,246.5 350.0,251.5 306.0,256.0 280.0,259.5 168.0,287.0" fill="url(#coreg)" />
<polygon points="185.0,264.0 280.0,253.5 350.0,246.8 350.0,248.6 280.0,256.0 186.0,269.0" fill="#fdf2fa" opacity="0.45"/>
<polygon points="517.0,225.0 540.0,223.0 553.0,216.0 688.0,199.5 690.0,217.0 560.0,232.0 517.0,233.5" fill="#fae6f4" opacity="0.95"/>
</g>
<g>
</g>
<g stroke="#0a0a0a" stroke-width="3.3" fill="none">
<line x1="297" y1="33" x2="167" y2="264"/>
<line x1="530" y1="36" x2="402" y2="237"/>
<line x1="810.8" y1="38" x2="681" y2="207"/>
<line x1="689" y1="295" x2="808" y2="312"/>
</g>
</svg>

<!-- labels -->
<div class="lbl" style="left:310px;top:17.7px">Expander</div>
<div class="lbl" style="left:538.3px;top:19.3px">End Plug</div>
<div class="lbl" style="left:824.3px;top:17.8px;font-size:37.2px">Central Cell</div>
<div class="lbl" style="left:815px;top:295.6px;font-size:37.2px">Fission blanket</div>
<div class="lbl" style="left:815px;top:338.6px;font-size:37.2px">surrounds Central Cell</div>

<!-- plot 1 -->
<svg width="370" height="368.8" viewBox="0 0 370 368.8" style="position:absolute;left:133.5px;top:430.5px;overflow:hidden"><defs><filter id="b1" x="-5%" y="-5%" width="110%" height="110%"><feGaussianBlur stdDeviation="0.8"/></filter></defs><g filter="url(#b1)">
<rect x="-10" y="-10" width="390" height="388.8" fill="#440154"/>
<path d="M459.2,183.6 C459.2,349.7 350.3,458.6 184.2,458.6 C18.1,458.6 -90.8,349.7 -90.8,183.6 C-90.8,17.5 18.1,-91.4 184.2,-91.4 C350.3,-91.4 459.2,17.5 459.2,183.6Z" fill="#440154"/>
<path d="M456.2,183.6 C456.2,347.9 348.5,455.6 184.2,455.6 C19.9,455.6 -87.8,347.9 -87.8,183.6 C-87.8,19.3 19.9,-88.4 184.2,-88.4 C348.5,-88.4 456.2,19.3 456.2,183.6Z" fill="#440154"/>
<path d="M453.2,183.6 C453.2,346.1 346.7,452.6 184.2,452.6 C21.7,452.6 -84.8,346.1 -84.8,183.6 C-84.8,21.1 21.7,-85.4 184.2,-85.4 C346.7,-85.4 453.2,21.1 453.2,183.6Z" fill="#440154"/>
<path d="M450.2,183.6 C450.2,344.3 344.9,449.6 184.2,449.6 C23.5,449.6 -81.8,344.3 -81.8,183.6 C-81.8,22.9 23.5,-82.4 184.2,-82.4 C344.9,-82.4 450.2,22.9 450.2,183.6Z" fill="#440154"/>
<path d="M447.2,183.6 C447.2,342.5 343.1,446.6 184.2,446.6 C25.3,446.6 -78.8,342.5 -78.8,183.6 C-78.8,24.7 25.3,-79.4 184.2,-79.4 C343.1,-79.4 447.2,24.7 447.2,183.6Z" fill="#440154"/>
<path d="M444.2,183.6 C444.2,340.6 341.2,443.6 184.2,443.6 C27.2,443.6 -75.8,340.6 -75.8,183.6 C-75.8,26.6 27.2,-76.4 184.2,-76.4 C341.2,-76.4 444.2,26.6 444.2,183.6Z" fill="#450457"/>
<path d="M441.2,183.6 C441.2,338.8 339.4,440.6 184.2,440.6 C29.0,440.6 -72.8,338.8 -72.8,183.6 C-72.8,28.4 29.0,-73.4 184.2,-73.4 C339.4,-73.4 441.2,28.4 441.2,183.6Z" fill="#46075a"/>
<path d="M438.2,183.6 C438.2,337.0 337.6,437.6 184.2,437.6 C30.8,437.6 -69.8,337.0 -69.8,183.6 C-69.8,30.2 30.8,-70.4 184.2,-70.4 C337.6,-70.4 438.2,30.2 438.2,183.6Z" fill="#460b5e"/>
<path d="M435.2,183.6 C435.2,335.2 335.8,434.6 184.2,434.6 C32.6,434.6 -66.8,335.2 -66.8,183.6 C-66.8,32.0 32.6,-67.4 184.2,-67.4 C335.8,-67.4 435.2,32.0 435.2,183.6Z" fill="#471063"/>
<path d="M432.2,183.6 C432.2,333.4 334.0,431.6 184.2,431.6 C34.4,431.6 -63.8,333.4 -63.8,183.6 C-63.8,33.8 34.4,-64.4 184.2,-64.4 C334.0,-64.4 432.2,33.8 432.2,183.6Z" fill="#481467"/>
<path d="M429.2,183.6 C429.2,331.6 332.2,428.6 184.2,428.6 C36.2,428.6 -60.8,331.6 -60.8,183.6 C-60.8,35.6 36.2,-61.4 184.2,-61.4 C332.2,-61.4 429.2,35.6 429.2,183.6Z" fill="#48186a"/>
<path d="M426.2,183.6 C426.2,329.8 330.4,425.6 184.2,425.6 C38.0,425.6 -57.8,329.8 -57.8,183.6 C-57.8,37.4 38.0,-58.4 184.2,-58.4 C330.4,-58.4 426.2,37.4 426.2,183.6Z" fill="#481c6e"/>
<path d="M423.2,183.6 C423.2,328.0 328.6,422.6 184.2,422.6 C39.8,422.6 -54.8,328.0 -54.8,183.6 C-54.8,39.2 39.8,-55.4 184.2,-55.4 C328.6,-55.4 423.2,39.2 423.2,183.6Z" fill="#481f70"/>
<path d="M420.2,183.6 C420.2,326.1 326.7,419.6 184.2,419.6 C41.7,419.6 -51.8,326.1 -51.8,183.6 C-51.8,41.1 41.7,-52.4 184.2,-52.4 C326.7,-52.4 420.2,41.1 420.2,183.6Z" fill="#482374"/>
<path d="M417.2,183.6 C417.2,324.3 324.9,416.6 184.2,416.6 C43.5,416.6 -48.8,324.3 -48.8,183.6 C-48.8,42.9 43.5,-49.4 184.2,-49.4 C324.9,-49.4 417.2,42.9 417.2,183.6Z" fill="#482677"/>
<path d="M414.2,183.6 C414.2,322.5 323.1,413.6 184.2,413.6 C45.3,413.6 -45.8,322.5 -45.8,183.6 C-45.8,44.7 45.3,-46.4 184.2,-46.4 C323.1,-46.4 414.2,44.7 414.2,183.6Z" fill="#482979"/>
<path d="M411.2,183.6 C411.2,320.7 321.3,410.6 184.2,410.6 C47.1,410.6 -42.8,320.7 -42.8,183.6 C-42.8,46.5 47.1,-43.4 184.2,-43.4 C321.3,-43.4 411.2,46.5 411.2,183.6Z" fill="#472d7b"/>
<path d="M408.2,183.6 C408.2,318.9 319.5,407.6 184.2,407.6 C48.9,407.6 -39.8,318.9 -39.8,183.6 C-39.8,48.3 48.9,-40.4 184.2,-40.4 C319.5,-40.4 408.2,48.3 408.2,183.6Z" fill="#46307e"/>
<path d="M405.2,183.6 C405.2,317.1 317.7,404.6 184.2,404.6 C50.7,404.6 -36.8,317.1 -36.8,183.6 C-36.8,50.1 50.7,-37.4 184.2,-37.4 C317.7,-37.4 405.2,50.1 405.2,183.6Z" fill="#46337f"/>
<path d="M402.2,183.6 C402.2,315.3 315.9,401.6 184.2,401.6 C52.5,401.6 -33.8,315.3 -33.8,183.6 C-33.8,51.9 52.5,-34.4 184.2,-34.4 C315.9,-34.4 402.2,51.9 402.2,183.6Z" fill="#453781"/>
<path d="M399.2,183.6 C399.2,313.5 314.1,398.6 184.2,398.6 C54.3,398.6 -30.8,313.5 -30.8,183.6 C-30.8,53.7 54.3,-31.4 184.2,-31.4 C314.1,-31.4 399.2,53.7 399.2,183.6Z" fill="#443a83"/>
<path d="M396.2,183.6 C396.2,311.6 312.2,395.6 184.2,395.6 C56.2,395.6 -27.8,311.6 -27.8,183.6 C-27.8,55.6 56.2,-28.4 184.2,-28.4 C312.2,-28.4 396.2,55.6 396.2,183.6Z" fill="#433d84"/>
<path d="M393.2,183.6 C393.2,309.8 310.4,392.6 184.2,392.6 C58.0,392.6 -24.8,309.8 -24.8,183.6 C-24.8,57.4 58.0,-25.4 184.2,-25.4 C310.4,-25.4 393.2,57.4 393.2,183.6Z" fill="#424086"/>
<path d="M390.2,183.6 C390.2,308.0 308.6,389.6 184.2,389.6 C59.8,389.6 -21.8,308.0 -21.8,183.6 C-21.8,59.2 59.8,-22.4 184.2,-22.4 C308.6,-22.4 390.2,59.2 390.2,183.6Z" fill="#414287"/>
<path d="M387.2,183.6 C387.2,306.2 306.8,386.6 184.2,386.6 C61.6,386.6 -18.8,306.2 -18.8,183.6 C-18.8,61.0 61.6,-19.4 184.2,-19.4 C306.8,-19.4 387.2,61.0 387.2,183.6Z" fill="#404688"/>
<path d="M384.2,183.6 C384.2,304.4 305.0,383.6 184.2,383.6 C63.4,383.6 -15.8,304.4 -15.8,183.6 C-15.8,62.8 63.4,-16.4 184.2,-16.4 C305.0,-16.4 384.2,62.8 384.2,183.6Z" fill="#3f4889"/>
<path d="M381.2,183.6 C381.2,302.6 303.2,380.6 184.2,380.6 C65.2,380.6 -12.8,302.6 -12.8,183.6 C-12.8,64.6 65.2,-13.4 184.2,-13.4 C303.2,-13.4 381.2,64.6 381.2,183.6Z" fill="#3e4c8a"/>
<path d="M378.2,183.6 C378.2,300.8 301.4,377.6 184.2,377.6 C67.0,377.6 -9.8,300.8 -9.8,183.6 C-9.8,66.4 67.0,-10.4 184.2,-10.4 C301.4,-10.4 378.2,66.4 378.2,183.6Z" fill="#3c4f8a"/>
<path d="M375.2,183.6 C375.2,299.0 299.6,374.6 184.2,374.6 C68.8,374.6 -6.8,299.0 -6.8,183.6 C-6.8,68.2 68.8,-7.4 184.2,-7.4 C299.6,-7.4 375.2,68.2 375.2,183.6Z" fill="#3b528b"/>
<path d="M372.2,183.6 C372.2,297.2 297.8,371.6 184.2,371.6 C70.6,371.6 -3.8,297.2 -3.8,183.6 C-3.8,70.0 70.6,-4.4 184.2,-4.4 C297.8,-4.4 372.2,70.0 372.2,183.6Z" fill="#39558c"/>
<path d="M370.2,183.6 C370.2,295.9 296.5,369.6 184.2,369.6 C71.9,369.6 -1.8,295.9 -1.8,183.6 C-1.8,71.3 71.9,-2.4 184.2,-2.4 C296.5,-2.4 370.2,71.3 370.2,183.6Z" fill="#39568c"/>
<path d="M369.4,183.6 C369.4,295.5 296.1,368.9 184.2,368.9 C72.3,368.9 -1.1,295.5 -1.1,183.6 C-1.1,71.7 72.3,-1.6 184.2,-1.6 C296.1,-1.6 369.4,71.7 369.4,183.6Z" fill="#38598c"/>
<path d="M368.7,183.6 C368.7,295.0 295.6,368.1 184.2,368.1 C72.8,368.1 -0.3,295.0 -0.3,183.6 C-0.3,72.2 72.8,-0.9 184.2,-0.9 C295.6,-0.9 368.7,72.2 368.7,183.6Z" fill="#365c8d"/>
<path d="M367.9,183.6 C367.9,294.6 295.2,367.4 184.2,367.4 C73.2,367.4 0.4,294.6 0.4,183.6 C0.4,72.6 73.2,-0.1 184.2,-0.1 C295.2,-0.1 367.9,72.6 367.9,183.6Z" fill="#34608d"/>
<path d="M367.2,183.6 C367.2,294.1 294.7,366.6 184.2,366.6 C73.7,366.6 1.2,294.1 1.2,183.6 C1.2,73.1 73.7,0.6 184.2,0.6 C294.7,0.6 367.2,73.1 367.2,183.6Z" fill="#30698e"/>
<path d="M366.4,183.6 C366.4,293.7 294.3,365.9 184.2,365.9 C74.1,365.9 1.9,293.7 1.9,183.6 C1.9,73.5 74.1,1.4 184.2,1.4 C294.3,1.4 366.4,73.5 366.4,183.6Z" fill="#297b8e"/>
<path d="M365.7,183.6 C365.7,293.2 293.8,365.1 184.2,365.1 C74.6,365.1 2.7,293.2 2.7,183.6 C2.7,74.0 74.6,2.1 184.2,2.1 C293.8,2.1 365.7,74.0 365.7,183.6Z" fill="#228b8d"/>
<path d="M364.9,183.6 C364.9,292.8 293.4,364.4 184.2,364.4 C75.0,364.4 3.4,292.8 3.4,183.6 C3.4,74.4 75.0,2.9 184.2,2.9 C293.4,2.9 364.9,74.4 364.9,183.6Z" fill="#1f9a8a"/>
<path d="M364.2,183.6 C364.2,292.3 292.9,363.6 184.2,363.6 C75.5,363.6 4.2,292.3 4.2,183.6 C4.2,74.9 75.5,3.6 184.2,3.6 C292.9,3.6 364.2,74.9 364.2,183.6Z" fill="#20a386"/>
<path d="M363.4,183.6 C363.4,291.9 292.5,362.9 184.2,362.9 C75.9,362.9 4.9,291.9 4.9,183.6 C4.9,75.3 75.9,4.4 184.2,4.4 C292.5,4.4 363.4,75.3 363.4,183.6Z" fill="#23a983"/>
<path d="M362.7,183.6 C362.7,291.4 292.0,362.1 184.2,362.1 C76.4,362.1 5.7,291.4 5.7,183.6 C5.7,75.8 76.4,5.1 184.2,5.1 C292.0,5.1 362.7,75.8 362.7,183.6Z" fill="#28ae80"/>
<path d="M361.9,183.6 C361.9,291.0 291.6,361.4 184.2,361.4 C76.8,361.4 6.4,291.0 6.4,183.6 C6.4,76.2 76.8,5.9 184.2,5.9 C291.6,5.9 361.9,76.2 361.9,183.6Z" fill="#2fb47c"/>
<path d="M361.2,183.6 C361.2,290.5 291.1,360.6 184.2,360.6 C77.3,360.6 7.2,290.5 7.2,183.6 C7.2,76.7 77.3,6.6 184.2,6.6 C291.1,6.6 361.2,76.7 361.2,183.6Z" fill="#38b977"/>
<path d="M360.4,183.6 C360.4,290.1 290.7,359.9 184.2,359.9 C77.7,359.9 7.9,290.1 7.9,183.6 C7.9,77.1 77.7,7.4 184.2,7.4 C290.7,7.4 360.4,77.1 360.4,183.6Z" fill="#40bd72"/>
<path d="M359.7,183.6 C359.7,289.6 290.2,359.1 184.2,359.1 C78.2,359.1 8.7,289.6 8.7,183.6 C8.7,77.6 78.2,8.1 184.2,8.1 C290.2,8.1 359.7,77.6 359.7,183.6Z" fill="#4ac16d"/>
<path d="M358.9,183.6 C358.9,289.1 289.7,358.4 184.2,358.4 C78.7,358.4 9.4,289.1 9.4,183.6 C9.4,78.1 78.7,8.9 184.2,8.9 C289.7,8.9 358.9,78.1 358.9,183.6Z" fill="#54c568"/>
<path d="M358.2,183.6 C358.2,288.7 289.3,357.6 184.2,357.6 C79.1,357.6 10.2,288.7 10.2,183.6 C10.2,78.5 79.1,9.6 184.2,9.6 C289.3,9.6 358.2,78.5 358.2,183.6Z" fill="#5cc863"/>
<path d="M357.4,183.6 C357.4,288.2 288.8,356.9 184.2,356.9 C79.6,356.9 10.9,288.2 10.9,183.6 C10.9,79.0 79.6,10.4 184.2,10.4 C288.8,10.4 357.4,79.0 357.4,183.6Z" fill="#67cc5c"/>
<path d="M356.7,183.6 C356.7,287.8 288.4,356.1 184.2,356.1 C80.0,356.1 11.7,287.8 11.7,183.6 C11.7,79.4 80.0,11.1 184.2,11.1 C288.4,11.1 356.7,79.4 356.7,183.6Z" fill="#70cf57"/>
<path d="M355.9,183.6 C355.9,287.3 287.9,355.4 184.2,355.4 C80.5,355.4 12.4,287.3 12.4,183.6 C12.4,79.9 80.5,11.9 184.2,11.9 C287.9,11.9 355.9,79.9 355.9,183.6Z" fill="#77d153"/>
<path d="M355.2,183.6 C355.2,286.9 287.5,354.6 184.2,354.6 C80.9,354.6 13.2,286.9 13.2,183.6 C13.2,80.3 80.9,12.6 184.2,12.6 C287.5,12.6 355.2,80.3 355.2,183.6Z" fill="#81d34d"/>
<path d="M354.4,183.6 C354.4,286.4 287.0,353.9 184.2,353.9 C81.4,353.9 13.9,286.4 13.9,183.6 C13.9,80.8 81.4,13.4 184.2,13.4 C287.0,13.4 354.4,80.8 354.4,183.6Z" fill="#8bd646"/>
<path d="M353.7,183.6 C353.7,286.0 286.6,353.1 184.2,353.1 C81.8,353.1 14.7,286.0 14.7,183.6 C14.7,81.2 81.8,14.1 184.2,14.1 C286.6,14.1 353.7,81.2 353.7,183.6Z" fill="#95d840"/>
<path d="M352.9,183.6 C352.9,285.5 286.1,352.4 184.2,352.4 C82.3,352.4 15.4,285.5 15.4,183.6 C15.4,81.7 82.3,14.9 184.2,14.9 C286.1,14.9 352.9,81.7 352.9,183.6Z" fill="#9dd93b"/>
<path d="M352.2,183.6 C352.2,285.1 285.7,351.6 184.2,351.6 C82.7,351.6 16.2,285.1 16.2,183.6 C16.2,82.1 82.7,15.6 184.2,15.6 C285.7,15.6 352.2,82.1 352.2,183.6Z" fill="#a8db34"/>
<path d="M351.4,183.6 C351.4,284.6 285.2,350.9 184.2,350.9 C83.2,350.9 16.9,284.6 16.9,183.6 C16.9,82.6 83.2,16.4 184.2,16.4 C285.2,16.4 351.4,82.6 351.4,183.6Z" fill="#b0dd2f"/>
<path d="M350.7,183.6 C350.7,284.2 284.8,350.1 184.2,350.1 C83.6,350.1 17.7,284.2 17.7,183.6 C17.7,83.0 83.6,17.1 184.2,17.1 C284.8,17.1 350.7,83.0 350.7,183.6Z" fill="#b5de2b"/>
<path d="M349.9,183.6 C349.9,283.7 284.3,349.4 184.2,349.4 C84.1,349.4 18.4,283.7 18.4,183.6 C18.4,83.5 84.1,17.9 184.2,17.9 C284.3,17.9 349.9,83.5 349.9,183.6Z" fill="#bade28"/>
<path d="M349.2,183.6 C349.2,283.3 283.9,348.6 184.2,348.6 C84.5,348.6 19.2,283.3 19.2,183.6 C19.2,83.9 84.5,18.6 184.2,18.6 C283.9,18.6 349.2,83.9 349.2,183.6Z" fill="#c0df25"/>
<path d="M348.4,183.6 C348.4,282.8 283.4,347.9 184.2,347.9 C85.0,347.9 19.9,282.8 19.9,183.6 C19.9,84.4 85.0,19.4 184.2,19.4 C283.4,19.4 348.4,84.4 348.4,183.6Z" fill="#c8e020"/>
<path d="M347.7,183.6 C347.7,282.4 283.0,347.1 184.2,347.1 C85.4,347.1 20.7,282.4 20.7,183.6 C20.7,84.8 85.4,20.1 184.2,20.1 C283.0,20.1 347.7,84.8 347.7,183.6Z" fill="#cae11f"/>
<path d="M346.9,183.6 C346.9,281.9 282.5,346.4 184.2,346.4 C85.9,346.4 21.4,281.9 21.4,183.6 C21.4,85.3 85.9,20.9 184.2,20.9 C282.5,20.9 346.9,85.3 346.9,183.6Z" fill="#cde11d"/>
<path d="M346.2,183.6 C346.2,281.4 282.0,345.6 184.2,345.6 C86.4,345.6 22.2,281.4 22.2,183.6 C22.2,85.8 86.4,21.6 184.2,21.6 C282.0,21.6 346.2,85.8 346.2,183.6Z" fill="#d0e11c"/>
<path d="M345.4,183.6 C345.4,281.0 281.6,344.9 184.2,344.9 C86.8,344.9 22.9,281.0 22.9,183.6 C22.9,86.2 86.8,22.4 184.2,22.4 C281.6,22.4 345.4,86.2 345.4,183.6Z" fill="#d2e21b"/>
<path d="M344.7,183.6 C344.7,280.5 281.1,344.1 184.2,344.1 C87.3,344.1 23.7,280.5 23.7,183.6 C23.7,86.7 87.3,23.1 184.2,23.1 C281.1,23.1 344.7,86.7 344.7,183.6Z" fill="#d5e21a"/>
<path d="M344.2,183.6 C344.2,280.2 280.8,343.6 184.2,343.6 C87.6,343.6 24.2,280.2 24.2,183.6 C24.2,87.0 87.6,23.6 184.2,23.6 C280.8,23.6 344.2,87.0 344.2,183.6Z" fill="#d8e219"/>
<path d="M342.2,183.6 C342.2,279.0 279.6,341.6 184.2,341.6 C88.8,341.6 26.2,279.0 26.2,183.6 C26.2,88.2 88.8,25.6 184.2,25.6 C279.6,25.6 342.2,88.2 342.2,183.6Z" fill="#dde318"/>
<path d="M340.2,183.6 C340.2,277.8 278.4,339.6 184.2,339.6 C90.0,339.6 28.2,277.8 28.2,183.6 C28.2,89.4 90.0,27.6 184.2,27.6 C278.4,27.6 340.2,89.4 340.2,183.6Z" fill="#e2e418"/>
<path d="M338.2,183.6 C338.2,276.6 277.2,337.6 184.2,337.6 C91.2,337.6 30.2,276.6 30.2,183.6 C30.2,90.6 91.2,29.6 184.2,29.6 C277.2,29.6 338.2,90.6 338.2,183.6Z" fill="#e7e419"/>
<path d="M336.2,183.6 C336.2,275.4 276.0,335.6 184.2,335.6 C92.4,335.6 32.2,275.4 32.2,183.6 C32.2,91.8 92.4,31.6 184.2,31.6 C276.0,31.6 336.2,91.8 336.2,183.6Z" fill="#ece51b"/>
<path d="M334.2,183.6 C334.2,274.2 274.8,333.6 184.2,333.6 C93.6,333.6 34.2,274.2 34.2,183.6 C34.2,93.0 93.6,33.6 184.2,33.6 C274.8,33.6 334.2,93.0 334.2,183.6Z" fill="#efe51c"/>
<path d="M332.2,183.6 C332.2,273.0 273.6,331.6 184.2,331.6 C94.8,331.6 36.2,273.0 36.2,183.6 C36.2,94.2 94.8,35.6 184.2,35.6 C273.6,35.6 332.2,94.2 332.2,183.6Z" fill="#f4e61e"/>
<path d="M330.2,183.6 C330.2,271.8 272.4,329.6 184.2,329.6 C96.0,329.6 38.2,271.8 38.2,183.6 C38.2,95.4 96.0,37.6 184.2,37.6 C272.4,37.6 330.2,95.4 330.2,183.6Z" fill="#f8e621"/>
<path d="M328.2,183.6 C328.2,270.6 271.2,327.6 184.2,327.6 C97.2,327.6 40.2,270.6 40.2,183.6 C40.2,96.6 97.2,39.6 184.2,39.6 C271.2,39.6 328.2,96.6 328.2,183.6Z" fill="#fbe723"/>
<path d="M326.2,183.6 C326.2,269.4 270.0,325.6 184.2,325.6 C98.4,325.6 42.2,269.4 42.2,183.6 C42.2,97.8 98.4,41.6 184.2,41.6 C270.0,41.6 326.2,97.8 326.2,183.6Z" fill="#fde725"/>
<path d="M324.2,183.6 C324.2,268.2 268.8,323.6 184.2,323.6 C99.6,323.6 44.2,268.2 44.2,183.6 C44.2,99.0 99.6,43.6 184.2,43.6 C268.8,43.6 324.2,99.0 324.2,183.6Z" fill="#fde725"/>
<path d="M322.2,183.6 C322.2,267.0 267.6,321.6 184.2,321.6 C100.8,321.6 46.2,267.0 46.2,183.6 C46.2,100.2 100.8,45.6 184.2,45.6 C267.6,45.6 322.2,100.2 322.2,183.6Z" fill="#fde725"/>
<path d="M320.2,183.6 C320.2,265.7 266.3,319.6 184.2,319.6 C102.1,319.6 48.2,265.7 48.2,183.6 C48.2,101.5 102.1,47.6 184.2,47.6 C266.3,47.6 320.2,101.5 320.2,183.6Z" fill="#fde725"/>
<path d="M318.2,183.6 C318.2,264.5 265.1,317.6 184.2,317.6 C103.3,317.6 50.2,264.5 50.2,183.6 C50.2,102.7 103.3,49.6 184.2,49.6 C265.1,49.6 318.2,102.7 318.2,183.6Z" fill="#fde725"/>
<path d="M316.2,183.6 C316.2,263.3 263.9,315.6 184.2,315.6 C104.5,315.6 52.2,263.3 52.2,183.6 C52.2,103.9 104.5,51.6 184.2,51.6 C263.9,51.6 316.2,103.9 316.2,183.6Z" fill="#fde725"/>
<path d="M314.2,183.6 C314.2,262.1 262.7,313.6 184.2,313.6 C105.7,313.6 54.2,262.1 54.2,183.6 C54.2,105.1 105.7,53.6 184.2,53.6 C262.7,53.6 314.2,105.1 314.2,183.6Z" fill="#fde725"/>
<path d="M312.2,183.6 C312.2,260.9 261.5,311.6 184.2,311.6 C106.9,311.6 56.2,260.9 56.2,183.6 C56.2,106.3 106.9,55.6 184.2,55.6 C261.5,55.6 312.2,106.3 312.2,183.6Z" fill="#fde725"/>
<path d="M310.2,183.6 C310.2,259.7 260.3,309.6 184.2,309.6 C108.1,309.6 58.2,259.7 58.2,183.6 C58.2,107.5 108.1,57.6 184.2,57.6 C260.3,57.6 310.2,107.5 310.2,183.6Z" fill="#fde725"/>
<path d="M308.2,183.6 C308.2,258.5 259.1,307.6 184.2,307.6 C109.3,307.6 60.2,258.5 60.2,183.6 C60.2,108.7 109.3,59.6 184.2,59.6 C259.1,59.6 308.2,108.7 308.2,183.6Z" fill="#fde725"/>
<path d="M306.2,183.6 C306.2,257.3 257.9,305.6 184.2,305.6 C110.5,305.6 62.2,257.3 62.2,183.6 C62.2,109.9 110.5,61.6 184.2,61.6 C257.9,61.6 306.2,109.9 306.2,183.6Z" fill="#fde725"/>
<path d="M304.2,183.6 C304.2,256.1 256.7,303.6 184.2,303.6 C111.7,303.6 64.2,256.1 64.2,183.6 C64.2,111.1 111.7,63.6 184.2,63.6 C256.7,63.6 304.2,111.1 304.2,183.6Z" fill="#fbe723"/>
<path d="M302.2,183.6 C302.2,254.9 255.5,301.6 184.2,301.6 C112.9,301.6 66.2,254.9 66.2,183.6 C66.2,112.3 112.9,65.6 184.2,65.6 C255.5,65.6 302.2,112.3 302.2,183.6Z" fill="#fbe723"/>
<path d="M300.2,183.6 C300.2,253.7 254.3,299.6 184.2,299.6 C114.1,299.6 68.2,253.7 68.2,183.6 C68.2,113.5 114.1,67.6 184.2,67.6 C254.3,67.6 300.2,113.5 300.2,183.6Z" fill="#f4e61e"/>
<path d="M298.2,183.6 C298.2,252.5 253.1,297.6 184.2,297.6 C115.3,297.6 70.2,252.5 70.2,183.6 C70.2,114.7 115.3,69.6 184.2,69.6 C253.1,69.6 298.2,114.7 298.2,183.6Z" fill="#ece51b"/>
<path d="M296.2,183.6 C296.2,251.2 251.8,295.6 184.2,295.6 C116.6,295.6 72.2,251.2 72.2,183.6 C72.2,116.0 116.6,71.6 184.2,71.6 C251.8,71.6 296.2,116.0 296.2,183.6Z" fill="#e7e419"/>
<path d="M294.2,183.6 C294.2,250.0 250.6,293.6 184.2,293.6 C117.8,293.6 74.2,250.0 74.2,183.6 C74.2,117.2 117.8,73.6 184.2,73.6 C250.6,73.6 294.2,117.2 294.2,183.6Z" fill="#dde318"/>
<path d="M292.2,183.6 C292.2,248.8 249.4,291.6 184.2,291.6 C119.0,291.6 76.2,248.8 76.2,183.6 C76.2,118.4 119.0,75.6 184.2,75.6 C249.4,75.6 292.2,118.4 292.2,183.6Z" fill="#d2e21b"/>
<path d="M290.2,183.6 C290.2,247.6 248.2,289.6 184.2,289.6 C120.2,289.6 78.2,247.6 78.2,183.6 C78.2,119.6 120.2,77.6 184.2,77.6 C248.2,77.6 290.2,119.6 290.2,183.6Z" fill="#cae11f"/>
<path d="M288.2,183.6 C288.2,246.4 247.0,287.6 184.2,287.6 C121.4,287.6 80.2,246.4 80.2,183.6 C80.2,120.8 121.4,79.6 184.2,79.6 C247.0,79.6 288.2,120.8 288.2,183.6Z" fill="#c2df23"/>
<path d="M286.2,183.6 C286.2,245.2 245.8,285.6 184.2,285.6 C122.6,285.6 82.2,245.2 82.2,183.6 C82.2,122.0 122.6,81.6 184.2,81.6 C245.8,81.6 286.2,122.0 286.2,183.6Z" fill="#bade28"/>
<path d="M284.2,183.6 C284.2,244.0 244.6,283.6 184.2,283.6 C123.8,283.6 84.2,244.0 84.2,183.6 C84.2,123.2 123.8,83.6 184.2,83.6 C244.6,83.6 284.2,123.2 284.2,183.6Z" fill="#b5de2b"/>
<path d="M282.2,183.6 C282.2,242.8 243.4,281.6 184.2,281.6 C125.0,281.6 86.2,242.8 86.2,183.6 C86.2,124.4 125.0,85.6 184.2,85.6 C243.4,85.6 282.2,124.4 282.2,183.6Z" fill="#b0dd2f"/>
<path d="M280.2,183.6 C280.2,241.6 242.2,279.6 184.2,279.6 C126.2,279.6 88.2,241.6 88.2,183.6 C88.2,125.6 126.2,87.6 184.2,87.6 C242.2,87.6 280.2,125.6 280.2,183.6Z" fill="#aadc32"/>
<path d="M279.2,183.6 C279.2,241.0 241.6,278.6 184.2,278.6 C126.8,278.6 89.2,241.0 89.2,183.6 C89.2,126.2 126.8,88.6 184.2,88.6 C241.6,88.6 279.2,126.2 279.2,183.6Z" fill="#a8db34"/>
<path d="M276.7,183.6 C276.7,239.5 240.1,276.1 184.2,276.1 C128.3,276.1 91.7,239.5 91.7,183.6 C91.7,127.7 128.3,91.1 184.2,91.1 C240.1,91.1 276.7,127.7 276.7,183.6Z" fill="#a5db36"/>
<path d="M274.2,183.6 C274.2,238.0 238.6,273.6 184.2,273.6 C129.8,273.6 94.2,238.0 94.2,183.6 C94.2,129.2 129.8,93.6 184.2,93.6 C238.6,93.6 274.2,129.2 274.2,183.6Z" fill="#a2da37"/>
<path d="M271.7,183.6 C271.7,236.5 237.0,271.1 184.2,271.1 C131.3,271.1 96.7,236.5 96.7,183.6 C96.7,130.8 131.3,96.1 184.2,96.1 C237.0,96.1 271.7,130.8 271.7,183.6Z" fill="#a2da37"/>
<path d="M269.2,183.6 C269.2,234.9 235.5,268.6 184.2,268.6 C132.9,268.6 99.2,234.9 99.2,183.6 C99.2,132.3 132.9,98.6 184.2,98.6 C235.5,98.6 269.2,132.3 269.2,183.6Z" fill="#a0da39"/>
<path d="M266.7,183.6 C266.7,233.4 234.0,266.1 184.2,266.1 C134.4,266.1 101.7,233.4 101.7,183.6 C101.7,133.8 134.4,101.1 184.2,101.1 C234.0,101.1 266.7,133.8 266.7,183.6Z" fill="#a0da39"/>
<path d="M264.2,183.6 C264.2,231.9 232.5,263.6 184.2,263.6 C135.9,263.6 104.2,231.9 104.2,183.6 C104.2,135.3 135.9,103.6 184.2,103.6 C232.5,103.6 264.2,135.3 264.2,183.6Z" fill="#a0da39"/>
<path d="M261.7,183.6 C261.7,230.4 231.0,261.1 184.2,261.1 C137.4,261.1 106.7,230.4 106.7,183.6 C106.7,136.8 137.4,106.1 184.2,106.1 C231.0,106.1 261.7,136.8 261.7,183.6Z" fill="#a0da39"/>
<path d="M259.2,183.6 C259.2,228.9 229.5,258.6 184.2,258.6 C138.9,258.6 109.2,228.9 109.2,183.6 C109.2,138.3 138.9,108.6 184.2,108.6 C229.5,108.6 259.2,138.3 259.2,183.6Z" fill="#9dd93b"/>
<path d="M256.7,183.6 C256.7,227.4 228.0,256.1 184.2,256.1 C140.4,256.1 111.7,227.4 111.7,183.6 C111.7,139.8 140.4,111.1 184.2,111.1 C228.0,111.1 256.7,139.8 256.7,183.6Z" fill="#9dd93b"/>
<path d="M254.2,183.6 C254.2,225.9 226.5,253.6 184.2,253.6 C141.9,253.6 114.2,225.9 114.2,183.6 C114.2,141.3 141.9,113.6 184.2,113.6 C226.5,113.6 254.2,141.3 254.2,183.6Z" fill="#9dd93b"/>
<path d="M251.7,183.6 C251.7,224.4 225.0,251.1 184.2,251.1 C143.4,251.1 116.7,224.4 116.7,183.6 C116.7,142.8 143.4,116.1 184.2,116.1 C225.0,116.1 251.7,142.8 251.7,183.6Z" fill="#9dd93b"/>
<path d="M249.2,183.6 C249.2,222.9 223.5,248.6 184.2,248.6 C144.9,248.6 119.2,222.9 119.2,183.6 C119.2,144.3 144.9,118.6 184.2,118.6 C223.5,118.6 249.2,144.3 249.2,183.6Z" fill="#9bd93c"/>
<path d="M246.7,183.6 C246.7,221.4 221.9,246.1 184.2,246.1 C146.4,246.1 121.7,221.4 121.7,183.6 C121.7,145.9 146.4,121.1 184.2,121.1 C221.9,121.1 246.7,145.9 246.7,183.6Z" fill="#9bd93c"/>
<path d="M244.2,183.6 C244.2,219.8 220.4,243.6 184.2,243.6 C148.0,243.6 124.2,219.8 124.2,183.6 C124.2,147.4 148.0,123.6 184.2,123.6 C220.4,123.6 244.2,147.4 244.2,183.6Z" fill="#9bd93c"/>
<path d="M241.7,183.6 C241.7,218.3 218.9,241.1 184.2,241.1 C149.5,241.1 126.7,218.3 126.7,183.6 C126.7,148.9 149.5,126.1 184.2,126.1 C218.9,126.1 241.7,148.9 241.7,183.6Z" fill="#9bd93c"/>
<path d="M239.2,183.6 C239.2,216.8 217.4,238.6 184.2,238.6 C151.0,238.6 129.2,216.8 129.2,183.6 C129.2,150.4 151.0,128.6 184.2,128.6 C217.4,128.6 239.2,150.4 239.2,183.6Z" fill="#9bd93c"/>
<path d="M236.7,183.6 C236.7,215.3 215.9,236.1 184.2,236.1 C152.5,236.1 131.7,215.3 131.7,183.6 C131.7,151.9 152.5,131.1 184.2,131.1 C215.9,131.1 236.7,151.9 236.7,183.6Z" fill="#9bd93c"/>
<path d="M234.2,183.6 C234.2,213.8 214.4,233.6 184.2,233.6 C154.0,233.6 134.2,213.8 134.2,183.6 C134.2,153.4 154.0,133.6 184.2,133.6 C214.4,133.6 234.2,153.4 234.2,183.6Z" fill="#9bd93c"/>
<path d="M231.7,183.6 C231.7,212.3 212.9,231.1 184.2,231.1 C155.5,231.1 136.7,212.3 136.7,183.6 C136.7,154.9 155.5,136.1 184.2,136.1 C212.9,136.1 231.7,154.9 231.7,183.6Z" fill="#9bd93c"/>
<path d="M229.2,183.6 C229.2,210.8 211.4,228.6 184.2,228.6 C157.0,228.6 139.2,210.8 139.2,183.6 C139.2,156.4 157.0,138.6 184.2,138.6 C211.4,138.6 229.2,156.4 229.2,183.6Z" fill="#9bd93c"/>
<path d="M226.7,183.6 C226.7,209.3 209.9,226.1 184.2,226.1 C158.5,226.1 141.7,209.3 141.7,183.6 C141.7,157.9 158.5,141.1 184.2,141.1 C209.9,141.1 226.7,157.9 226.7,183.6Z" fill="#9bd93c"/>
<path d="M224.2,183.6 C224.2,207.8 208.4,223.6 184.2,223.6 C160.0,223.6 144.2,207.8 144.2,183.6 C144.2,159.4 160.0,143.6 184.2,143.6 C208.4,143.6 224.2,159.4 224.2,183.6Z" fill="#9bd93c"/>
<path d="M221.7,183.6 C221.7,206.3 206.8,221.1 184.2,221.1 C161.5,221.1 146.7,206.3 146.7,183.6 C146.7,161.0 161.5,146.1 184.2,146.1 C206.8,146.1 221.7,161.0 221.7,183.6Z" fill="#9bd93c"/>
<path d="M219.2,183.6 C219.2,204.7 205.3,218.6 184.2,218.6 C163.1,218.6 149.2,204.7 149.2,183.6 C149.2,162.5 163.1,148.6 184.2,148.6 C205.3,148.6 219.2,162.5 219.2,183.6Z" fill="#9bd93c"/>
<path d="M216.7,183.6 C216.7,203.2 203.8,216.1 184.2,216.1 C164.6,216.1 151.7,203.2 151.7,183.6 C151.7,164.0 164.6,151.1 184.2,151.1 C203.8,151.1 216.7,164.0 216.7,183.6Z" fill="#98d83e"/>
<path d="M214.2,183.6 C214.2,201.7 202.3,213.6 184.2,213.6 C166.1,213.6 154.2,201.7 154.2,183.6 C154.2,165.5 166.1,153.6 184.2,153.6 C202.3,153.6 214.2,165.5 214.2,183.6Z" fill="#98d83e"/>
<path d="M211.7,183.6 C211.7,200.2 200.8,211.1 184.2,211.1 C167.6,211.1 156.7,200.2 156.7,183.6 C156.7,167.0 167.6,156.1 184.2,156.1 C200.8,156.1 211.7,167.0 211.7,183.6Z" fill="#98d83e"/>
<path d="M209.2,183.6 C209.2,198.7 199.3,208.6 184.2,208.6 C169.1,208.6 159.2,198.7 159.2,183.6 C159.2,168.5 169.1,158.6 184.2,158.6 C199.3,158.6 209.2,168.5 209.2,183.6Z" fill="#98d83e"/>
<path d="M206.7,183.6 C206.7,197.2 197.8,206.1 184.2,206.1 C170.6,206.1 161.7,197.2 161.7,183.6 C161.7,170.0 170.6,161.1 184.2,161.1 C197.8,161.1 206.7,170.0 206.7,183.6Z" fill="#98d83e"/>
<path d="M204.2,183.6 C204.2,195.7 196.3,203.6 184.2,203.6 C172.1,203.6 164.2,195.7 164.2,183.6 C164.2,171.5 172.1,163.6 184.2,163.6 C196.3,163.6 204.2,171.5 204.2,183.6Z" fill="#98d83e"/>
<path d="M201.7,183.6 C201.7,194.2 194.8,201.1 184.2,201.1 C173.6,201.1 166.7,194.2 166.7,183.6 C166.7,173.0 173.6,166.1 184.2,166.1 C194.8,166.1 201.7,173.0 201.7,183.6Z" fill="#98d83e"/>
<path d="M199.2,183.6 C199.2,192.7 193.3,198.6 184.2,198.6 C175.1,198.6 169.2,192.7 169.2,183.6 C169.2,174.5 175.1,168.6 184.2,168.6 C193.3,168.6 199.2,174.5 199.2,183.6Z" fill="#98d83e"/>
<path d="M196.7,183.6 C196.7,191.2 191.8,196.1 184.2,196.1 C176.6,196.1 171.7,191.2 171.7,183.6 C171.7,176.1 176.6,171.1 184.2,171.1 C191.8,171.1 196.7,176.1 196.7,183.6Z" fill="#98d83e"/>
<path d="M194.2,183.6 C194.2,189.6 190.2,193.6 184.2,193.6 C178.2,193.6 174.2,189.6 174.2,183.6 C174.2,177.6 178.2,173.6 184.2,173.6 C190.2,173.6 194.2,177.6 194.2,183.6Z" fill="#98d83e"/>
<path d="M191.7,183.6 C191.7,188.1 188.7,191.1 184.2,191.1 C179.7,191.1 176.7,188.1 176.7,183.6 C176.7,179.1 179.7,176.1 184.2,176.1 C188.7,176.1 191.7,179.1 191.7,183.6Z" fill="#98d83e"/>
<path d="M189.2,183.6 C189.2,186.6 187.2,188.6 184.2,188.6 C181.2,188.6 179.2,186.6 179.2,183.6 C179.2,180.6 181.2,178.6 184.2,178.6 C187.2,178.6 189.2,180.6 189.2,183.6Z" fill="#98d83e"/>
<path d="M186.7,183.6 C186.7,185.1 185.7,186.1 184.2,186.1 C182.7,186.1 181.7,185.1 181.7,183.6 C181.7,182.1 182.7,181.1 184.2,181.1 C185.7,181.1 186.7,182.1 186.7,183.6Z" fill="#98d83e"/>
</g></svg>
<div class="ax" style="left:132.95px;top:429.95px;width:371.1px;height:369.9px"></div>
<div class="ttl" style="left:118px;top:405.6px">Fusion Driven Normalized flux</div>
<div class="tk" style="left:128.7px;top:431.95px;width:4.8px;height:1.1px"></div>
<div class="tl" style="right:1156.85px;top:424.1px">200</div>
<div class="tk" style="left:128.7px;top:477.55px;width:4.8px;height:1.1px"></div>
<div class="tl" style="right:1156.85px;top:469.7px">150</div>
<div class="tk" style="left:128.7px;top:523.15px;width:4.8px;height:1.1px"></div>
<div class="tl" style="right:1156.85px;top:515.3px">100</div>
<div class="tk" style="left:128.7px;top:568.75px;width:4.8px;height:1.1px"></div>
<div class="tl" style="right:1156.85px;top:560.9px">50</div>
<div class="tk" style="left:128.7px;top:614.35px;width:4.8px;height:1.1px"></div>
<div class="tl" style="right:1155.15px;top:606.5px">0</div>
<div class="tk" style="left:128.7px;top:659.95px;width:4.8px;height:1.1px"></div>
<div class="tl" style="right:1156.85px;top:652.1px">−50</div>
<div class="tk" style="left:128.7px;top:705.55px;width:4.8px;height:1.1px"></div>
<div class="tl" style="right:1156.85px;top:697.7px">−100</div>
<div class="tk" style="left:128.7px;top:751.15px;width:4.8px;height:1.1px"></div>
<div class="tl" style="right:1156.85px;top:743.3px">−150</div>
<div class="tk" style="left:128.7px;top:796.75px;width:4.8px;height:1.1px"></div>
<div class="tl" style="right:1156.85px;top:788.9px">−200</div>
<div class="tk" style="left:134.95px;top:799.3px;width:1.1px;height:5px"></div>
<div class="tl c" style="left:95.5px;top:806.8px">−200</div>
<div class="tk" style="left:226.45px;top:799.3px;width:1.1px;height:5px"></div>
<div class="tl c" style="left:187px;top:806.8px">−100</div>
<div class="tk" style="left:317.95px;top:799.3px;width:1.1px;height:5px"></div>
<div class="tl c" style="left:278.5px;top:806.8px">0</div>
<div class="tk" style="left:409.45px;top:799.3px;width:1.1px;height:5px"></div>
<div class="tl c" style="left:370px;top:806.8px">100</div>
<div class="tk" style="left:500.95px;top:799.3px;width:1.1px;height:5px"></div>
<div class="tl c" style="left:461.5px;top:806.8px">200</div>
<div class="al" style="left:295.8px;top:827px">x [cm]</div>
<div class="al" style="left:71px;top:615px;transform:translate(-50%,-50%) rotate(-90deg)">y [cm]</div>
<div class="abs" style="left:528.3px;top:430.5px;width:18.3px;height:368.8px;background:linear-gradient(to bottom,#fde725 0%, #dfe318 5%, #bddf26 10%, #9bd93c 15%, #7ad151 20%, #5ec962 25%, #44bf70 30%, #2fb47c 35%, #22a884 40%, #1e9c89 45%, #21918c 50%, #25848e 55%, #2a788e 60%, #2f6c8e 65%, #355f8d 70%, #3b528b 75%, #414487 80%, #463480 85%, #482475 90%, #471365 95%, #440154 100%)"></div>
<div class="ax" style="left:527.8px;top:430px;width:19.3px;height:369.8px"></div>
<div class="tk" style="left:546.9px;top:429.95px;width:5px;height:1.1px"></div>
<div class="tk" style="left:546.9px;top:664.527px;width:5px;height:1.1px"></div>
<div class="tk" style="left:546.9px;top:593.771px;width:2.8px;height:0.9px"></div>
<div class="tk" style="left:546.9px;top:552.324px;width:2.8px;height:0.9px"></div>
<div class="tk" style="left:546.9px;top:787.7px;width:2.8px;height:0.9px"></div>
<div class="tk" style="left:546.9px;top:522.916px;width:2.8px;height:0.9px"></div>
<div class="tk" style="left:546.9px;top:758.293px;width:2.8px;height:0.9px"></div>
<div class="tk" style="left:546.9px;top:500.105px;width:2.8px;height:0.9px"></div>
<div class="tk" style="left:546.9px;top:735.482px;width:2.8px;height:0.9px"></div>
<div class="tk" style="left:546.9px;top:481.468px;width:2.8px;height:0.9px"></div>
<div class="tk" style="left:546.9px;top:716.845px;width:2.8px;height:0.9px"></div>
<div class="tk" style="left:546.9px;top:465.71px;width:2.8px;height:0.9px"></div>
<div class="tk" style="left:546.9px;top:701.087px;width:2.8px;height:0.9px"></div>
<div class="tk" style="left:546.9px;top:452.06px;width:2.8px;height:0.9px"></div>
<div class="tk" style="left:546.9px;top:687.437px;width:2.8px;height:0.9px"></div>
<div class="tk" style="left:546.9px;top:440.02px;width:2.8px;height:0.9px"></div>
<div class="tk" style="left:546.9px;top:675.397px;width:2.8px;height:0.9px"></div>
<div class="cbl" style="left:556.9px;top:423.5px">10<sup>0</sup></div>
<div class="cbl" style="left:556.9px;top:658.077px">10<sup>−1</sup></div>

<!-- plot 2 -->
<svg class="hm2" width="396.9" height="293.6" viewBox="0 0 396.9 293.6" style="position:absolute;left:748.5px;top:471.5px;overflow:hidden"><defs><filter id="b2" x="-5%" y="-5%" width="110%" height="110%"><feGaussianBlur stdDeviation="3.2"/></filter></defs><g filter="url(#b2)">
<rect x="-14.3" y="-14.3" width="14.6" height="7.6" fill="#440154"/>
<rect x="-0.3" y="-14.3" width="7.6" height="7.6" fill="#46307e"/>
<rect x="6.7" y="-14.3" width="7.6" height="7.6" fill="#26818e"/>
<rect x="13.7" y="-14.3" width="7.6" height="7.6" fill="#20a386"/>
<rect x="20.7" y="-14.3" width="49.6" height="7.6" fill="#22a884"/>
<rect x="69.7" y="-14.3" width="7.6" height="7.6" fill="#23a983"/>
<rect x="76.7" y="-14.3" width="7.6" height="7.6" fill="#26ad81"/>
<rect x="83.7" y="-14.3" width="7.6" height="7.6" fill="#3bbb75"/>
<rect x="90.7" y="-14.3" width="7.6" height="7.6" fill="#4ac16d"/>
<rect x="97.7" y="-14.3" width="7.6" height="7.6" fill="#4cc26c"/>
<rect x="104.7" y="-14.3" width="21.6" height="7.6" fill="#4ac16d"/>
<rect x="125.7" y="-14.3" width="28.6" height="7.6" fill="#48c16e"/>
<rect x="153.7" y="-14.3" width="84.6" height="7.6" fill="#46c06f"/>
<rect x="237.7" y="-14.3" width="28.6" height="7.6" fill="#48c16e"/>
<rect x="265.7" y="-14.3" width="21.6" height="7.6" fill="#4ac16d"/>
<rect x="286.7" y="-14.3" width="14.6" height="7.6" fill="#4cc26c"/>
<rect x="300.7" y="-14.3" width="7.6" height="7.6" fill="#48c16e"/>
<rect x="307.7" y="-14.3" width="7.6" height="7.6" fill="#34b679"/>
<rect x="314.7" y="-14.3" width="7.6" height="7.6" fill="#25ab82"/>
<rect x="321.7" y="-14.3" width="56.6" height="7.6" fill="#22a884"/>
<rect x="377.7" y="-14.3" width="7.6" height="7.6" fill="#1e9c89"/>
<rect x="384.7" y="-14.3" width="7.6" height="7.6" fill="#2e6f8e"/>
<rect x="391.7" y="-14.3" width="7.6" height="7.6" fill="#46075a"/>
<rect x="398.7" y="-14.3" width="14.6" height="7.6" fill="#440154"/>
<rect x="-14.3" y="-7.3" width="14.6" height="7.6" fill="#440154"/>
<rect x="-0.3" y="-7.3" width="7.6" height="7.6" fill="#46307e"/>
<rect x="6.7" y="-7.3" width="7.6" height="7.6" fill="#26818e"/>
<rect x="13.7" y="-7.3" width="7.6" height="7.6" fill="#20a386"/>
<rect x="20.7" y="-7.3" width="49.6" height="7.6" fill="#22a884"/>
<rect x="69.7" y="-7.3" width="7.6" height="7.6" fill="#23a983"/>
<rect x="76.7" y="-7.3" width="7.6" height="7.6" fill="#26ad81"/>
<rect x="83.7" y="-7.3" width="7.6" height="7.6" fill="#3bbb75"/>
<rect x="90.7" y="-7.3" width="7.6" height="7.6" fill="#4ac16d"/>
<rect x="97.7" y="-7.3" width="7.6" height="7.6" fill="#4cc26c"/>
<rect x="104.7" y="-7.3" width="21.6" height="7.6" fill="#4ac16d"/>
<rect x="125.7" y="-7.3" width="28.6" height="7.6" fill="#48c16e"/>
<rect x="153.7" y="-7.3" width="84.6" height="7.6" fill="#46c06f"/>
<rect x="237.7" y="-7.3" width="28.6" height="7.6" fill="#48c16e"/>
<rect x="265.7" y="-7.3" width="21.6" height="7.6" fill="#4ac16d"/>
<rect x="286.7" y="-7.3" width="14.6" height="7.6" fill="#4cc26c"/>
<rect x="300.7" y="-7.3" width="7.6" height="7.6" fill="#48c16e"/>
<rect x="307.7" y="-7.3" width="7.6" height="7.6" fill="#34b679"/>
<rect x="314.7" y="-7.3" width="7.6" height="7.6" fill="#25ab82"/>
<rect x="321.7" y="-7.3" width="56.6" height="7.6" fill="#22a884"/>
<rect x="377.7" y="-7.3" width="7.6" height="7.6" fill="#1e9c89"/>
<rect x="384.7" y="-7.3" width="7.6" height="7.6" fill="#2e6f8e"/>
<rect x="391.7" y="-7.3" width="7.6" height="7.6" fill="#46075a"/>
<rect x="398.7" y="-7.3" width="14.6" height="7.6" fill="#440154"/>
<rect x="-14.3" y="-0.3" width="14.6" height="7.6" fill="#46075a"/>
<rect x="-0.3" y="-0.3" width="7.6" height="7.6" fill="#404688"/>
<rect x="6.7" y="-0.3" width="7.6" height="7.6" fill="#228d8d"/>
<rect x="13.7" y="-0.3" width="7.6" height="7.6" fill="#28ae80"/>
<rect x="20.7" y="-0.3" width="7.6" height="7.6" fill="#2eb37c"/>
<rect x="27.7" y="-0.3" width="49.6" height="7.6" fill="#2fb47c"/>
<rect x="76.7" y="-0.3" width="7.6" height="7.6" fill="#34b679"/>
<rect x="83.7" y="-0.3" width="7.6" height="7.6" fill="#48c16e"/>
<rect x="90.7" y="-0.3" width="21.6" height="7.6" fill="#54c568"/>
<rect x="111.7" y="-0.3" width="21.6" height="7.6" fill="#52c569"/>
<rect x="132.7" y="-0.3" width="28.6" height="7.6" fill="#50c46a"/>
<rect x="160.7" y="-0.3" width="70.6" height="7.6" fill="#4ec36b"/>
<rect x="230.7" y="-0.3" width="35.6" height="7.6" fill="#50c46a"/>
<rect x="265.7" y="-0.3" width="21.6" height="7.6" fill="#52c569"/>
<rect x="286.7" y="-0.3" width="14.6" height="7.6" fill="#54c568"/>
<rect x="300.7" y="-0.3" width="7.6" height="7.6" fill="#52c569"/>
<rect x="307.7" y="-0.3" width="7.6" height="7.6" fill="#40bd72"/>
<rect x="314.7" y="-0.3" width="7.6" height="7.6" fill="#32b67a"/>
<rect x="321.7" y="-0.3" width="49.6" height="7.6" fill="#2fb47c"/>
<rect x="370.7" y="-0.3" width="7.6" height="7.6" fill="#2eb37c"/>
<rect x="377.7" y="-0.3" width="7.6" height="7.6" fill="#22a884"/>
<rect x="384.7" y="-0.3" width="7.6" height="7.6" fill="#287d8e"/>
<rect x="391.7" y="-0.3" width="7.6" height="7.6" fill="#482475"/>
<rect x="398.7" y="-0.3" width="14.6" height="7.6" fill="#46075a"/>
<rect x="-14.3" y="6.7" width="14.6" height="7.6" fill="#46327e"/>
<rect x="-0.3" y="6.7" width="7.6" height="7.6" fill="#33628d"/>
<rect x="6.7" y="6.7" width="7.6" height="7.6" fill="#1fa088"/>
<rect x="13.7" y="6.7" width="7.6" height="7.6" fill="#40bd72"/>
<rect x="20.7" y="6.7" width="7.6" height="7.6" fill="#4cc26c"/>
<rect x="27.7" y="6.7" width="7.6" height="7.6" fill="#4ec36b"/>
<rect x="34.7" y="6.7" width="35.6" height="7.6" fill="#50c46a"/>
<rect x="69.7" y="6.7" width="7.6" height="7.6" fill="#4ec36b"/>
<rect x="76.7" y="6.7" width="7.6" height="7.6" fill="#50c46a"/>
<rect x="83.7" y="6.7" width="7.6" height="7.6" fill="#5ac864"/>
<rect x="90.7" y="6.7" width="28.6" height="7.6" fill="#60ca60"/>
<rect x="118.7" y="6.7" width="21.6" height="7.6" fill="#5ec962"/>
<rect x="139.7" y="6.7" width="49.6" height="7.6" fill="#5cc863"/>
<rect x="188.7" y="6.7" width="21.6" height="7.6" fill="#5ac864"/>
<rect x="209.7" y="6.7" width="49.6" height="7.6" fill="#5cc863"/>
<rect x="258.7" y="6.7" width="21.6" height="7.6" fill="#5ec962"/>
<rect x="279.7" y="6.7" width="28.6" height="7.6" fill="#60ca60"/>
<rect x="307.7" y="6.7" width="7.6" height="7.6" fill="#58c765"/>
<rect x="314.7" y="6.7" width="49.6" height="7.6" fill="#50c46a"/>
<rect x="363.7" y="6.7" width="7.6" height="7.6" fill="#4ec36b"/>
<rect x="370.7" y="6.7" width="7.6" height="7.6" fill="#4cc26c"/>
<rect x="377.7" y="6.7" width="7.6" height="7.6" fill="#37b878"/>
<rect x="384.7" y="6.7" width="7.6" height="7.6" fill="#21918c"/>
<rect x="391.7" y="6.7" width="7.6" height="7.6" fill="#3f4788"/>
<rect x="398.7" y="6.7" width="14.6" height="7.6" fill="#46327e"/>
<rect x="-14.3" y="13.7" width="14.6" height="7.6" fill="#404588"/>
<rect x="-0.3" y="13.7" width="7.6" height="7.6" fill="#2d708e"/>
<rect x="6.7" y="13.7" width="7.6" height="7.6" fill="#23a983"/>
<rect x="13.7" y="13.7" width="7.6" height="7.6" fill="#54c568"/>
<rect x="20.7" y="13.7" width="7.6" height="7.6" fill="#60ca60"/>
<rect x="27.7" y="13.7" width="7.6" height="7.6" fill="#63cb5f"/>
<rect x="34.7" y="13.7" width="7.6" height="7.6" fill="#65cb5e"/>
<rect x="41.7" y="13.7" width="28.6" height="7.6" fill="#67cc5c"/>
<rect x="69.7" y="13.7" width="14.6" height="7.6" fill="#63cb5f"/>
<rect x="83.7" y="13.7" width="7.6" height="7.6" fill="#67cc5c"/>
<rect x="90.7" y="13.7" width="28.6" height="7.6" fill="#69cd5b"/>
<rect x="118.7" y="13.7" width="21.6" height="7.6" fill="#67cc5c"/>
<rect x="139.7" y="13.7" width="49.6" height="7.6" fill="#65cb5e"/>
<rect x="188.7" y="13.7" width="21.6" height="7.6" fill="#63cb5f"/>
<rect x="209.7" y="13.7" width="49.6" height="7.6" fill="#65cb5e"/>
<rect x="258.7" y="13.7" width="21.6" height="7.6" fill="#67cc5c"/>
<rect x="279.7" y="13.7" width="28.6" height="7.6" fill="#69cd5b"/>
<rect x="307.7" y="13.7" width="7.6" height="7.6" fill="#65cb5e"/>
<rect x="314.7" y="13.7" width="7.6" height="7.6" fill="#63cb5f"/>
<rect x="321.7" y="13.7" width="7.6" height="7.6" fill="#65cb5e"/>
<rect x="328.7" y="13.7" width="28.6" height="7.6" fill="#67cc5c"/>
<rect x="356.7" y="13.7" width="7.6" height="7.6" fill="#65cb5e"/>
<rect x="363.7" y="13.7" width="7.6" height="7.6" fill="#63cb5f"/>
<rect x="370.7" y="13.7" width="7.6" height="7.6" fill="#60ca60"/>
<rect x="377.7" y="13.7" width="7.6" height="7.6" fill="#46c06f"/>
<rect x="384.7" y="13.7" width="7.6" height="7.6" fill="#1e9b8a"/>
<rect x="391.7" y="13.7" width="7.6" height="7.6" fill="#38588c"/>
<rect x="398.7" y="13.7" width="14.6" height="7.6" fill="#404588"/>
<rect x="-14.3" y="20.7" width="14.6" height="7.6" fill="#3a538b"/>
<rect x="-0.3" y="20.7" width="7.6" height="7.6" fill="#297a8e"/>
<rect x="6.7" y="20.7" width="7.6" height="7.6" fill="#2cb17e"/>
<rect x="13.7" y="20.7" width="7.6" height="7.6" fill="#63cb5f"/>
<rect x="20.7" y="20.7" width="7.6" height="7.6" fill="#70cf57"/>
<rect x="27.7" y="20.7" width="7.6" height="7.6" fill="#75d054"/>
<rect x="34.7" y="20.7" width="7.6" height="7.6" fill="#77d153"/>
<rect x="41.7" y="20.7" width="7.6" height="7.6" fill="#7ad151"/>
<rect x="48.7" y="20.7" width="14.6" height="7.6" fill="#7cd250"/>
<rect x="62.7" y="20.7" width="7.6" height="7.6" fill="#7ad151"/>
<rect x="69.7" y="20.7" width="7.6" height="7.6" fill="#75d054"/>
<rect x="76.7" y="20.7" width="14.6" height="7.6" fill="#70cf57"/>
<rect x="90.7" y="20.7" width="14.6" height="7.6" fill="#73d056"/>
<rect x="104.7" y="20.7" width="21.6" height="7.6" fill="#70cf57"/>
<rect x="125.7" y="20.7" width="28.6" height="7.6" fill="#6ece58"/>
<rect x="153.7" y="20.7" width="91.6" height="7.6" fill="#6ccd5a"/>
<rect x="244.7" y="20.7" width="28.6" height="7.6" fill="#6ece58"/>
<rect x="272.7" y="20.7" width="21.6" height="7.6" fill="#70cf57"/>
<rect x="293.7" y="20.7" width="14.6" height="7.6" fill="#73d056"/>
<rect x="307.7" y="20.7" width="7.6" height="7.6" fill="#70cf57"/>
<rect x="314.7" y="20.7" width="7.6" height="7.6" fill="#73d056"/>
<rect x="321.7" y="20.7" width="7.6" height="7.6" fill="#77d153"/>
<rect x="328.7" y="20.7" width="7.6" height="7.6" fill="#7ad151"/>
<rect x="335.7" y="20.7" width="14.6" height="7.6" fill="#7cd250"/>
<rect x="349.7" y="20.7" width="7.6" height="7.6" fill="#7ad151"/>
<rect x="356.7" y="20.7" width="7.6" height="7.6" fill="#77d153"/>
<rect x="363.7" y="20.7" width="7.6" height="7.6" fill="#75d054"/>
<rect x="370.7" y="20.7" width="7.6" height="7.6" fill="#70cf57"/>
<rect x="377.7" y="20.7" width="7.6" height="7.6" fill="#54c568"/>
<rect x="384.7" y="20.7" width="7.6" height="7.6" fill="#20a386"/>
<rect x="391.7" y="20.7" width="7.6" height="7.6" fill="#32658e"/>
<rect x="398.7" y="20.7" width="14.6" height="7.6" fill="#3a538b"/>
<rect x="-14.3" y="27.7" width="14.6" height="7.6" fill="#34608d"/>
<rect x="-0.3" y="27.7" width="7.6" height="7.6" fill="#25838e"/>
<rect x="6.7" y="27.7" width="7.6" height="7.6" fill="#35b779"/>
<rect x="13.7" y="27.7" width="7.6" height="7.6" fill="#70cf57"/>
<rect x="20.7" y="27.7" width="7.6" height="7.6" fill="#81d34d"/>
<rect x="27.7" y="27.7" width="7.6" height="7.6" fill="#86d549"/>
<rect x="34.7" y="27.7" width="7.6" height="7.6" fill="#8bd646"/>
<rect x="41.7" y="27.7" width="21.6" height="7.6" fill="#8ed645"/>
<rect x="62.7" y="27.7" width="7.6" height="7.6" fill="#8bd646"/>
<rect x="69.7" y="27.7" width="7.6" height="7.6" fill="#86d549"/>
<rect x="76.7" y="27.7" width="7.6" height="7.6" fill="#7fd34e"/>
<rect x="83.7" y="27.7" width="21.6" height="7.6" fill="#7ad151"/>
<rect x="104.7" y="27.7" width="21.6" height="7.6" fill="#77d153"/>
<rect x="125.7" y="27.7" width="28.6" height="7.6" fill="#75d054"/>
<rect x="153.7" y="27.7" width="91.6" height="7.6" fill="#73d056"/>
<rect x="244.7" y="27.7" width="28.6" height="7.6" fill="#75d054"/>
<rect x="272.7" y="27.7" width="21.6" height="7.6" fill="#77d153"/>
<rect x="293.7" y="27.7" width="21.6" height="7.6" fill="#7ad151"/>
<rect x="314.7" y="27.7" width="7.6" height="7.6" fill="#81d34d"/>
<rect x="321.7" y="27.7" width="7.6" height="7.6" fill="#89d548"/>
<rect x="328.7" y="27.7" width="7.6" height="7.6" fill="#8ed645"/>
<rect x="335.7" y="27.7" width="7.6" height="7.6" fill="#90d743"/>
<rect x="342.7" y="27.7" width="14.6" height="7.6" fill="#8ed645"/>
<rect x="356.7" y="27.7" width="7.6" height="7.6" fill="#89d548"/>
<rect x="363.7" y="27.7" width="7.6" height="7.6" fill="#86d549"/>
<rect x="370.7" y="27.7" width="7.6" height="7.6" fill="#7fd34e"/>
<rect x="377.7" y="27.7" width="7.6" height="7.6" fill="#63cb5f"/>
<rect x="384.7" y="27.7" width="7.6" height="7.6" fill="#25ab82"/>
<rect x="391.7" y="27.7" width="7.6" height="7.6" fill="#2e6f8e"/>
<rect x="398.7" y="27.7" width="14.6" height="7.6" fill="#34608d"/>
<rect x="-14.3" y="34.7" width="14.6" height="7.6" fill="#306a8e"/>
<rect x="-0.3" y="34.7" width="7.6" height="7.6" fill="#228c8d"/>
<rect x="6.7" y="34.7" width="7.6" height="7.6" fill="#3fbc73"/>
<rect x="13.7" y="34.7" width="7.6" height="7.6" fill="#7fd34e"/>
<rect x="20.7" y="34.7" width="7.6" height="7.6" fill="#90d743"/>
<rect x="27.7" y="34.7" width="7.6" height="7.6" fill="#95d840"/>
<rect x="34.7" y="34.7" width="7.6" height="7.6" fill="#9bd93c"/>
<rect x="41.7" y="34.7" width="21.6" height="7.6" fill="#a0da39"/>
<rect x="62.7" y="34.7" width="7.6" height="7.6" fill="#9dd93b"/>
<rect x="69.7" y="34.7" width="7.6" height="7.6" fill="#95d840"/>
<rect x="76.7" y="34.7" width="7.6" height="7.6" fill="#8bd646"/>
<rect x="83.7" y="34.7" width="21.6" height="7.6" fill="#81d34d"/>
<rect x="104.7" y="34.7" width="21.6" height="7.6" fill="#7fd34e"/>
<rect x="125.7" y="34.7" width="28.6" height="7.6" fill="#7cd250"/>
<rect x="153.7" y="34.7" width="91.6" height="7.6" fill="#7ad151"/>
<rect x="244.7" y="34.7" width="28.6" height="7.6" fill="#7cd250"/>
<rect x="272.7" y="34.7" width="21.6" height="7.6" fill="#7fd34e"/>
<rect x="293.7" y="34.7" width="14.6" height="7.6" fill="#81d34d"/>
<rect x="307.7" y="34.7" width="7.6" height="7.6" fill="#84d44b"/>
<rect x="314.7" y="34.7" width="7.6" height="7.6" fill="#90d743"/>
<rect x="321.7" y="34.7" width="7.6" height="7.6" fill="#98d83e"/>
<rect x="328.7" y="34.7" width="21.6" height="7.6" fill="#a0da39"/>
<rect x="349.7" y="34.7" width="7.6" height="7.6" fill="#9dd93b"/>
<rect x="356.7" y="34.7" width="7.6" height="7.6" fill="#9bd93c"/>
<rect x="363.7" y="34.7" width="7.6" height="7.6" fill="#95d840"/>
<rect x="370.7" y="34.7" width="7.6" height="7.6" fill="#8ed645"/>
<rect x="377.7" y="34.7" width="7.6" height="7.6" fill="#6ece58"/>
<rect x="384.7" y="34.7" width="7.6" height="7.6" fill="#2cb17e"/>
<rect x="391.7" y="34.7" width="7.6" height="7.6" fill="#2a788e"/>
<rect x="398.7" y="34.7" width="14.6" height="7.6" fill="#306a8e"/>
<rect x="-14.3" y="41.7" width="14.6" height="7.6" fill="#2c728e"/>
<rect x="-0.3" y="41.7" width="7.6" height="7.6" fill="#20928c"/>
<rect x="6.7" y="41.7" width="7.6" height="7.6" fill="#4ac16d"/>
<rect x="13.7" y="41.7" width="7.6" height="7.6" fill="#8bd646"/>
<rect x="20.7" y="41.7" width="7.6" height="7.6" fill="#9dd93b"/>
<rect x="27.7" y="41.7" width="7.6" height="7.6" fill="#a5db36"/>
<rect x="34.7" y="41.7" width="7.6" height="7.6" fill="#aadc32"/>
<rect x="41.7" y="41.7" width="7.6" height="7.6" fill="#b0dd2f"/>
<rect x="48.7" y="41.7" width="7.6" height="7.6" fill="#b2dd2d"/>
<rect x="55.7" y="41.7" width="7.6" height="7.6" fill="#b0dd2f"/>
<rect x="62.7" y="41.7" width="7.6" height="7.6" fill="#addc30"/>
<rect x="69.7" y="41.7" width="7.6" height="7.6" fill="#a5db36"/>
<rect x="76.7" y="41.7" width="7.6" height="7.6" fill="#98d83e"/>
<rect x="83.7" y="41.7" width="7.6" height="7.6" fill="#8bd646"/>
<rect x="90.7" y="41.7" width="7.6" height="7.6" fill="#89d548"/>
<rect x="97.7" y="41.7" width="21.6" height="7.6" fill="#86d549"/>
<rect x="118.7" y="41.7" width="21.6" height="7.6" fill="#84d44b"/>
<rect x="139.7" y="41.7" width="112.6" height="7.6" fill="#81d34d"/>
<rect x="251.7" y="41.7" width="28.6" height="7.6" fill="#84d44b"/>
<rect x="279.7" y="41.7" width="21.6" height="7.6" fill="#86d549"/>
<rect x="300.7" y="41.7" width="7.6" height="7.6" fill="#89d548"/>
<rect x="307.7" y="41.7" width="7.6" height="7.6" fill="#8ed645"/>
<rect x="314.7" y="41.7" width="7.6" height="7.6" fill="#9dd93b"/>
<rect x="321.7" y="41.7" width="7.6" height="7.6" fill="#a8db34"/>
<rect x="328.7" y="41.7" width="7.6" height="7.6" fill="#b0dd2f"/>
<rect x="335.7" y="41.7" width="7.6" height="7.6" fill="#b2dd2d"/>
<rect x="342.7" y="41.7" width="7.6" height="7.6" fill="#b0dd2f"/>
<rect x="349.7" y="41.7" width="7.6" height="7.6" fill="#addc30"/>
<rect x="356.7" y="41.7" width="7.6" height="7.6" fill="#aadc32"/>
<rect x="363.7" y="41.7" width="7.6" height="7.6" fill="#a2da37"/>
<rect x="370.7" y="41.7" width="7.6" height="7.6" fill="#9bd93c"/>
<rect x="377.7" y="41.7" width="7.6" height="7.6" fill="#7ad151"/>
<rect x="384.7" y="41.7" width="7.6" height="7.6" fill="#34b679"/>
<rect x="391.7" y="41.7" width="7.6" height="7.6" fill="#27808e"/>
<rect x="398.7" y="41.7" width="14.6" height="7.6" fill="#2c728e"/>
<rect x="-14.3" y="48.7" width="14.6" height="7.6" fill="#29798e"/>
<rect x="-0.3" y="48.7" width="7.6" height="7.6" fill="#1f998a"/>
<rect x="6.7" y="48.7" width="7.6" height="7.6" fill="#54c568"/>
<rect x="13.7" y="48.7" width="7.6" height="7.6" fill="#95d840"/>
<rect x="20.7" y="48.7" width="7.6" height="7.6" fill="#aadc32"/>
<rect x="27.7" y="48.7" width="7.6" height="7.6" fill="#b2dd2d"/>
<rect x="34.7" y="48.7" width="7.6" height="7.6" fill="#b8de29"/>
<rect x="41.7" y="48.7" width="7.6" height="7.6" fill="#bddf26"/>
<rect x="48.7" y="48.7" width="14.6" height="7.6" fill="#c0df25"/>
<rect x="62.7" y="48.7" width="7.6" height="7.6" fill="#bade28"/>
<rect x="69.7" y="48.7" width="7.6" height="7.6" fill="#b2dd2d"/>
<rect x="76.7" y="48.7" width="7.6" height="7.6" fill="#a2da37"/>
<rect x="83.7" y="48.7" width="7.6" height="7.6" fill="#90d743"/>
<rect x="90.7" y="48.7" width="14.6" height="7.6" fill="#8ed645"/>
<rect x="104.7" y="48.7" width="21.6" height="7.6" fill="#8bd646"/>
<rect x="125.7" y="48.7" width="35.6" height="7.6" fill="#89d548"/>
<rect x="160.7" y="48.7" width="77.6" height="7.6" fill="#86d549"/>
<rect x="237.7" y="48.7" width="28.6" height="7.6" fill="#89d548"/>
<rect x="265.7" y="48.7" width="21.6" height="7.6" fill="#8bd646"/>
<rect x="286.7" y="48.7" width="21.6" height="7.6" fill="#8ed645"/>
<rect x="307.7" y="48.7" width="7.6" height="7.6" fill="#95d840"/>
<rect x="314.7" y="48.7" width="7.6" height="7.6" fill="#a8db34"/>
<rect x="321.7" y="48.7" width="7.6" height="7.6" fill="#b5de2b"/>
<rect x="328.7" y="48.7" width="7.6" height="7.6" fill="#bddf26"/>
<rect x="335.7" y="48.7" width="14.6" height="7.6" fill="#c0df25"/>
<rect x="349.7" y="48.7" width="7.6" height="7.6" fill="#bddf26"/>
<rect x="356.7" y="48.7" width="7.6" height="7.6" fill="#b8de29"/>
<rect x="363.7" y="48.7" width="7.6" height="7.6" fill="#b0dd2f"/>
<rect x="370.7" y="48.7" width="7.6" height="7.6" fill="#a5db36"/>
<rect x="377.7" y="48.7" width="7.6" height="7.6" fill="#86d549"/>
<rect x="384.7" y="48.7" width="7.6" height="7.6" fill="#3bbb75"/>
<rect x="391.7" y="48.7" width="7.6" height="7.6" fill="#24868e"/>
<rect x="398.7" y="48.7" width="14.6" height="7.6" fill="#29798e"/>
<rect x="-14.3" y="55.7" width="14.6" height="7.6" fill="#27808e"/>
<rect x="-0.3" y="55.7" width="7.6" height="7.6" fill="#1f9e89"/>
<rect x="6.7" y="55.7" width="7.6" height="7.6" fill="#5cc863"/>
<rect x="13.7" y="55.7" width="7.6" height="7.6" fill="#9dd93b"/>
<rect x="20.7" y="55.7" width="7.6" height="7.6" fill="#b2dd2d"/>
<rect x="27.7" y="55.7" width="7.6" height="7.6" fill="#bddf26"/>
<rect x="34.7" y="55.7" width="7.6" height="7.6" fill="#c5e021"/>
<rect x="41.7" y="55.7" width="7.6" height="7.6" fill="#cae11f"/>
<rect x="48.7" y="55.7" width="14.6" height="7.6" fill="#cde11d"/>
<rect x="62.7" y="55.7" width="7.6" height="7.6" fill="#c8e020"/>
<rect x="69.7" y="55.7" width="7.6" height="7.6" fill="#bddf26"/>
<rect x="76.7" y="55.7" width="7.6" height="7.6" fill="#aadc32"/>
<rect x="83.7" y="55.7" width="7.6" height="7.6" fill="#98d83e"/>
<rect x="90.7" y="55.7" width="21.6" height="7.6" fill="#93d741"/>
<rect x="111.7" y="55.7" width="21.6" height="7.6" fill="#90d743"/>
<rect x="132.7" y="55.7" width="35.6" height="7.6" fill="#8ed645"/>
<rect x="167.7" y="55.7" width="56.6" height="7.6" fill="#8bd646"/>
<rect x="223.7" y="55.7" width="35.6" height="7.6" fill="#8ed645"/>
<rect x="258.7" y="55.7" width="28.6" height="7.6" fill="#90d743"/>
<rect x="286.7" y="55.7" width="14.6" height="7.6" fill="#93d741"/>
<rect x="300.7" y="55.7" width="7.6" height="7.6" fill="#95d840"/>
<rect x="307.7" y="55.7" width="7.6" height="7.6" fill="#9dd93b"/>
<rect x="314.7" y="55.7" width="7.6" height="7.6" fill="#b2dd2d"/>
<rect x="321.7" y="55.7" width="7.6" height="7.6" fill="#c0df25"/>
<rect x="328.7" y="55.7" width="7.6" height="7.6" fill="#c8e020"/>
<rect x="335.7" y="55.7" width="14.6" height="7.6" fill="#cde11d"/>
<rect x="349.7" y="55.7" width="7.6" height="7.6" fill="#c8e020"/>
<rect x="356.7" y="55.7" width="7.6" height="7.6" fill="#c2df23"/>
<rect x="363.7" y="55.7" width="7.6" height="7.6" fill="#bade28"/>
<rect x="370.7" y="55.7" width="7.6" height="7.6" fill="#b0dd2f"/>
<rect x="377.7" y="55.7" width="7.6" height="7.6" fill="#8ed645"/>
<rect x="384.7" y="55.7" width="7.6" height="7.6" fill="#42be71"/>
<rect x="391.7" y="55.7" width="7.6" height="7.6" fill="#228c8d"/>
<rect x="398.7" y="55.7" width="14.6" height="7.6" fill="#27808e"/>
<rect x="-14.3" y="62.7" width="14.6" height="7.6" fill="#25848e"/>
<rect x="-0.3" y="62.7" width="7.6" height="7.6" fill="#1fa287"/>
<rect x="6.7" y="62.7" width="7.6" height="7.6" fill="#63cb5f"/>
<rect x="13.7" y="62.7" width="7.6" height="7.6" fill="#a5db36"/>
<rect x="20.7" y="62.7" width="7.6" height="7.6" fill="#bddf26"/>
<rect x="27.7" y="62.7" width="7.6" height="7.6" fill="#c8e020"/>
<rect x="34.7" y="62.7" width="7.6" height="7.6" fill="#d0e11c"/>
<rect x="41.7" y="62.7" width="7.6" height="7.6" fill="#d5e21a"/>
<rect x="48.7" y="62.7" width="14.6" height="7.6" fill="#d8e219"/>
<rect x="62.7" y="62.7" width="7.6" height="7.6" fill="#d2e21b"/>
<rect x="69.7" y="62.7" width="7.6" height="7.6" fill="#c8e020"/>
<rect x="76.7" y="62.7" width="7.6" height="7.6" fill="#b2dd2d"/>
<rect x="83.7" y="62.7" width="7.6" height="7.6" fill="#9dd93b"/>
<rect x="90.7" y="62.7" width="21.6" height="7.6" fill="#98d83e"/>
<rect x="111.7" y="62.7" width="21.6" height="7.6" fill="#95d840"/>
<rect x="132.7" y="62.7" width="42.6" height="7.6" fill="#93d741"/>
<rect x="174.7" y="62.7" width="49.6" height="7.6" fill="#90d743"/>
<rect x="223.7" y="62.7" width="35.6" height="7.6" fill="#93d741"/>
<rect x="258.7" y="62.7" width="21.6" height="7.6" fill="#95d840"/>
<rect x="279.7" y="62.7" width="21.6" height="7.6" fill="#98d83e"/>
<rect x="300.7" y="62.7" width="7.6" height="7.6" fill="#9bd93c"/>
<rect x="307.7" y="62.7" width="7.6" height="7.6" fill="#a2da37"/>
<rect x="314.7" y="62.7" width="7.6" height="7.6" fill="#bade28"/>
<rect x="321.7" y="62.7" width="7.6" height="7.6" fill="#cae11f"/>
<rect x="328.7" y="62.7" width="7.6" height="7.6" fill="#d2e21b"/>
<rect x="335.7" y="62.7" width="14.6" height="7.6" fill="#d8e219"/>
<rect x="349.7" y="62.7" width="7.6" height="7.6" fill="#d2e21b"/>
<rect x="356.7" y="62.7" width="7.6" height="7.6" fill="#cde11d"/>
<rect x="363.7" y="62.7" width="7.6" height="7.6" fill="#c5e021"/>
<rect x="370.7" y="62.7" width="7.6" height="7.6" fill="#b8de29"/>
<rect x="377.7" y="62.7" width="7.6" height="7.6" fill="#95d840"/>
<rect x="384.7" y="62.7" width="7.6" height="7.6" fill="#4ac16d"/>
<rect x="391.7" y="62.7" width="7.6" height="7.6" fill="#21918c"/>
<rect x="398.7" y="62.7" width="14.6" height="7.6" fill="#25848e"/>
<rect x="-14.3" y="69.7" width="14.6" height="7.6" fill="#23888e"/>
<rect x="-0.3" y="69.7" width="7.6" height="7.6" fill="#21a585"/>
<rect x="6.7" y="69.7" width="7.6" height="7.6" fill="#69cd5b"/>
<rect x="13.7" y="69.7" width="7.6" height="7.6" fill="#addc30"/>
<rect x="20.7" y="69.7" width="7.6" height="7.6" fill="#c5e021"/>
<rect x="27.7" y="69.7" width="7.6" height="7.6" fill="#d0e11c"/>
<rect x="34.7" y="69.7" width="7.6" height="7.6" fill="#d8e219"/>
<rect x="41.7" y="69.7" width="7.6" height="7.6" fill="#dde318"/>
<rect x="48.7" y="69.7" width="14.6" height="7.6" fill="#dfe318"/>
<rect x="62.7" y="69.7" width="7.6" height="7.6" fill="#dae319"/>
<rect x="69.7" y="69.7" width="7.6" height="7.6" fill="#d0e11c"/>
<rect x="76.7" y="69.7" width="7.6" height="7.6" fill="#bade28"/>
<rect x="83.7" y="69.7" width="7.6" height="7.6" fill="#a2da37"/>
<rect x="90.7" y="69.7" width="21.6" height="7.6" fill="#9dd93b"/>
<rect x="111.7" y="69.7" width="21.6" height="7.6" fill="#9bd93c"/>
<rect x="132.7" y="69.7" width="35.6" height="7.6" fill="#98d83e"/>
<rect x="167.7" y="69.7" width="63.6" height="7.6" fill="#95d840"/>
<rect x="230.7" y="69.7" width="35.6" height="7.6" fill="#98d83e"/>
<rect x="265.7" y="69.7" width="21.6" height="7.6" fill="#9bd93c"/>
<rect x="286.7" y="69.7" width="21.6" height="7.6" fill="#9dd93b"/>
<rect x="307.7" y="69.7" width="7.6" height="7.6" fill="#a8db34"/>
<rect x="314.7" y="69.7" width="7.6" height="7.6" fill="#c2df23"/>
<rect x="321.7" y="69.7" width="7.6" height="7.6" fill="#d2e21b"/>
<rect x="328.7" y="69.7" width="7.6" height="7.6" fill="#dde318"/>
<rect x="335.7" y="69.7" width="14.6" height="7.6" fill="#dfe318"/>
<rect x="349.7" y="69.7" width="7.6" height="7.6" fill="#dde318"/>
<rect x="356.7" y="69.7" width="7.6" height="7.6" fill="#d5e21a"/>
<rect x="363.7" y="69.7" width="7.6" height="7.6" fill="#cde11d"/>
<rect x="370.7" y="69.7" width="7.6" height="7.6" fill="#c0df25"/>
<rect x="377.7" y="69.7" width="7.6" height="7.6" fill="#9dd93b"/>
<rect x="384.7" y="69.7" width="7.6" height="7.6" fill="#50c46a"/>
<rect x="391.7" y="69.7" width="7.6" height="7.6" fill="#1f948c"/>
<rect x="398.7" y="69.7" width="14.6" height="7.6" fill="#23888e"/>
<rect x="-14.3" y="76.7" width="14.6" height="7.6" fill="#228c8d"/>
<rect x="-0.3" y="76.7" width="7.6" height="7.6" fill="#22a884"/>
<rect x="6.7" y="76.7" width="7.6" height="7.6" fill="#6ece58"/>
<rect x="13.7" y="76.7" width="7.6" height="7.6" fill="#b2dd2d"/>
<rect x="20.7" y="76.7" width="7.6" height="7.6" fill="#cae11f"/>
<rect x="27.7" y="76.7" width="7.6" height="7.6" fill="#d5e21a"/>
<rect x="34.7" y="76.7" width="7.6" height="7.6" fill="#dfe318"/>
<rect x="41.7" y="76.7" width="7.6" height="7.6" fill="#e5e419"/>
<rect x="48.7" y="76.7" width="14.6" height="7.6" fill="#e7e419"/>
<rect x="62.7" y="76.7" width="7.6" height="7.6" fill="#e2e418"/>
<rect x="69.7" y="76.7" width="7.6" height="7.6" fill="#d5e21a"/>
<rect x="76.7" y="76.7" width="7.6" height="7.6" fill="#c0df25"/>
<rect x="83.7" y="76.7" width="7.6" height="7.6" fill="#a8db34"/>
<rect x="90.7" y="76.7" width="14.6" height="7.6" fill="#a2da37"/>
<rect x="104.7" y="76.7" width="21.6" height="7.6" fill="#a0da39"/>
<rect x="125.7" y="76.7" width="28.6" height="7.6" fill="#9dd93b"/>
<rect x="153.7" y="76.7" width="91.6" height="7.6" fill="#9bd93c"/>
<rect x="244.7" y="76.7" width="28.6" height="7.6" fill="#9dd93b"/>
<rect x="272.7" y="76.7" width="21.6" height="7.6" fill="#a0da39"/>
<rect x="293.7" y="76.7" width="14.6" height="7.6" fill="#a2da37"/>
<rect x="307.7" y="76.7" width="7.6" height="7.6" fill="#addc30"/>
<rect x="314.7" y="76.7" width="7.6" height="7.6" fill="#c8e020"/>
<rect x="321.7" y="76.7" width="7.6" height="7.6" fill="#dae319"/>
<rect x="328.7" y="76.7" width="7.6" height="7.6" fill="#e5e419"/>
<rect x="335.7" y="76.7" width="14.6" height="7.6" fill="#e7e419"/>
<rect x="349.7" y="76.7" width="7.6" height="7.6" fill="#e5e419"/>
<rect x="356.7" y="76.7" width="7.6" height="7.6" fill="#dde318"/>
<rect x="363.7" y="76.7" width="7.6" height="7.6" fill="#d2e21b"/>
<rect x="370.7" y="76.7" width="7.6" height="7.6" fill="#c5e021"/>
<rect x="377.7" y="76.7" width="7.6" height="7.6" fill="#a2da37"/>
<rect x="384.7" y="76.7" width="7.6" height="7.6" fill="#56c667"/>
<rect x="391.7" y="76.7" width="7.6" height="7.6" fill="#1f978b"/>
<rect x="398.7" y="76.7" width="14.6" height="7.6" fill="#228c8d"/>
<rect x="-14.3" y="83.7" width="14.6" height="7.6" fill="#218e8d"/>
<rect x="-0.3" y="83.7" width="7.6" height="7.6" fill="#24aa83"/>
<rect x="6.7" y="83.7" width="7.6" height="7.6" fill="#73d056"/>
<rect x="13.7" y="83.7" width="7.6" height="7.6" fill="#b8de29"/>
<rect x="20.7" y="83.7" width="7.6" height="7.6" fill="#d0e11c"/>
<rect x="27.7" y="83.7" width="7.6" height="7.6" fill="#dde318"/>
<rect x="34.7" y="83.7" width="7.6" height="7.6" fill="#e5e419"/>
<rect x="41.7" y="83.7" width="7.6" height="7.6" fill="#ece51b"/>
<rect x="48.7" y="83.7" width="14.6" height="7.6" fill="#efe51c"/>
<rect x="62.7" y="83.7" width="7.6" height="7.6" fill="#e7e419"/>
<rect x="69.7" y="83.7" width="7.6" height="7.6" fill="#dae319"/>
<rect x="76.7" y="83.7" width="7.6" height="7.6" fill="#c5e021"/>
<rect x="83.7" y="83.7" width="7.6" height="7.6" fill="#aadc32"/>
<rect x="90.7" y="83.7" width="21.6" height="7.6" fill="#a5db36"/>
<rect x="111.7" y="83.7" width="21.6" height="7.6" fill="#a2da37"/>
<rect x="132.7" y="83.7" width="49.6" height="7.6" fill="#a0da39"/>
<rect x="181.7" y="83.7" width="35.6" height="7.6" fill="#9dd93b"/>
<rect x="216.7" y="83.7" width="42.6" height="7.6" fill="#a0da39"/>
<rect x="258.7" y="83.7" width="28.6" height="7.6" fill="#a2da37"/>
<rect x="286.7" y="83.7" width="21.6" height="7.6" fill="#a5db36"/>
<rect x="307.7" y="83.7" width="7.6" height="7.6" fill="#b0dd2f"/>
<rect x="314.7" y="83.7" width="7.6" height="7.6" fill="#cde11d"/>
<rect x="321.7" y="83.7" width="7.6" height="7.6" fill="#dfe318"/>
<rect x="328.7" y="83.7" width="7.6" height="7.6" fill="#eae51a"/>
<rect x="335.7" y="83.7" width="7.6" height="7.6" fill="#efe51c"/>
<rect x="342.7" y="83.7" width="7.6" height="7.6" fill="#ece51b"/>
<rect x="349.7" y="83.7" width="7.6" height="7.6" fill="#eae51a"/>
<rect x="356.7" y="83.7" width="7.6" height="7.6" fill="#e2e418"/>
<rect x="363.7" y="83.7" width="7.6" height="7.6" fill="#d8e219"/>
<rect x="370.7" y="83.7" width="7.6" height="7.6" fill="#cae11f"/>
<rect x="377.7" y="83.7" width="7.6" height="7.6" fill="#a8db34"/>
<rect x="384.7" y="83.7" width="7.6" height="7.6" fill="#58c765"/>
<rect x="391.7" y="83.7" width="7.6" height="7.6" fill="#1f9a8a"/>
<rect x="398.7" y="83.7" width="14.6" height="7.6" fill="#218e8d"/>
<rect x="-14.3" y="90.7" width="14.6" height="7.6" fill="#21908d"/>
<rect x="-0.3" y="90.7" width="7.6" height="7.6" fill="#25ac82"/>
<rect x="6.7" y="90.7" width="7.6" height="7.6" fill="#75d054"/>
<rect x="13.7" y="90.7" width="7.6" height="7.6" fill="#bade28"/>
<rect x="20.7" y="90.7" width="7.6" height="7.6" fill="#d2e21b"/>
<rect x="27.7" y="90.7" width="7.6" height="7.6" fill="#dfe318"/>
<rect x="34.7" y="90.7" width="7.6" height="7.6" fill="#eae51a"/>
<rect x="41.7" y="90.7" width="7.6" height="7.6" fill="#efe51c"/>
<rect x="48.7" y="90.7" width="7.6" height="7.6" fill="#f4e61e"/>
<rect x="55.7" y="90.7" width="7.6" height="7.6" fill="#f1e51d"/>
<rect x="62.7" y="90.7" width="7.6" height="7.6" fill="#ece51b"/>
<rect x="69.7" y="90.7" width="7.6" height="7.6" fill="#dfe318"/>
<rect x="76.7" y="90.7" width="7.6" height="7.6" fill="#c8e020"/>
<rect x="83.7" y="90.7" width="7.6" height="7.6" fill="#addc30"/>
<rect x="90.7" y="90.7" width="7.6" height="7.6" fill="#aadc32"/>
<rect x="97.7" y="90.7" width="21.6" height="7.6" fill="#a8db34"/>
<rect x="118.7" y="90.7" width="21.6" height="7.6" fill="#a5db36"/>
<rect x="139.7" y="90.7" width="14.6" height="7.6" fill="#a2da37"/>
<rect x="153.7" y="90.7" width="7.6" height="7.6" fill="#a5db36"/>
<rect x="160.7" y="90.7" width="14.6" height="7.6" fill="#a8db34"/>
<rect x="174.7" y="90.7" width="49.6" height="7.6" fill="#a5db36"/>
<rect x="223.7" y="90.7" width="14.6" height="7.6" fill="#a8db34"/>
<rect x="237.7" y="90.7" width="7.6" height="7.6" fill="#a5db36"/>
<rect x="244.7" y="90.7" width="7.6" height="7.6" fill="#a2da37"/>
<rect x="251.7" y="90.7" width="28.6" height="7.6" fill="#a5db36"/>
<rect x="279.7" y="90.7" width="21.6" height="7.6" fill="#a8db34"/>
<rect x="300.7" y="90.7" width="7.6" height="7.6" fill="#aadc32"/>
<rect x="307.7" y="90.7" width="7.6" height="7.6" fill="#b5de2b"/>
<rect x="314.7" y="90.7" width="7.6" height="7.6" fill="#d0e11c"/>
<rect x="321.7" y="90.7" width="7.6" height="7.6" fill="#e5e419"/>
<rect x="328.7" y="90.7" width="7.6" height="7.6" fill="#efe51c"/>
<rect x="335.7" y="90.7" width="7.6" height="7.6" fill="#f4e61e"/>
<rect x="342.7" y="90.7" width="7.6" height="7.6" fill="#f1e51d"/>
<rect x="349.7" y="90.7" width="7.6" height="7.6" fill="#efe51c"/>
<rect x="356.7" y="90.7" width="7.6" height="7.6" fill="#e7e419"/>
<rect x="363.7" y="90.7" width="7.6" height="7.6" fill="#dde318"/>
<rect x="370.7" y="90.7" width="7.6" height="7.6" fill="#cde11d"/>
<rect x="377.7" y="90.7" width="7.6" height="7.6" fill="#aadc32"/>
<rect x="384.7" y="90.7" width="7.6" height="7.6" fill="#5cc863"/>
<rect x="391.7" y="90.7" width="7.6" height="7.6" fill="#1e9c89"/>
<rect x="398.7" y="90.7" width="14.6" height="7.6" fill="#21908d"/>
<rect x="-14.3" y="97.7" width="14.6" height="7.6" fill="#20928c"/>
<rect x="-0.3" y="97.7" width="7.6" height="7.6" fill="#26ad81"/>
<rect x="6.7" y="97.7" width="7.6" height="7.6" fill="#77d153"/>
<rect x="13.7" y="97.7" width="7.6" height="7.6" fill="#bddf26"/>
<rect x="20.7" y="97.7" width="7.6" height="7.6" fill="#d5e21a"/>
<rect x="27.7" y="97.7" width="7.6" height="7.6" fill="#e2e418"/>
<rect x="34.7" y="97.7" width="7.6" height="7.6" fill="#ece51b"/>
<rect x="41.7" y="97.7" width="7.6" height="7.6" fill="#f4e61e"/>
<rect x="48.7" y="97.7" width="14.6" height="7.6" fill="#f6e620"/>
<rect x="62.7" y="97.7" width="7.6" height="7.6" fill="#efe51c"/>
<rect x="69.7" y="97.7" width="7.6" height="7.6" fill="#e2e418"/>
<rect x="76.7" y="97.7" width="7.6" height="7.6" fill="#cae11f"/>
<rect x="83.7" y="97.7" width="7.6" height="7.6" fill="#b0dd2f"/>
<rect x="90.7" y="97.7" width="7.6" height="7.6" fill="#addc30"/>
<rect x="97.7" y="97.7" width="21.6" height="7.6" fill="#aadc32"/>
<rect x="118.7" y="97.7" width="35.6" height="7.6" fill="#a8db34"/>
<rect x="153.7" y="97.7" width="91.6" height="7.6" fill="#aadc32"/>
<rect x="244.7" y="97.7" width="7.6" height="7.6" fill="#a5db36"/>
<rect x="251.7" y="97.7" width="28.6" height="7.6" fill="#a8db34"/>
<rect x="279.7" y="97.7" width="21.6" height="7.6" fill="#aadc32"/>
<rect x="300.7" y="97.7" width="7.6" height="7.6" fill="#addc30"/>
<rect x="307.7" y="97.7" width="7.6" height="7.6" fill="#b8de29"/>
<rect x="314.7" y="97.7" width="7.6" height="7.6" fill="#d2e21b"/>
<rect x="321.7" y="97.7" width="7.6" height="7.6" fill="#e7e419"/>
<rect x="328.7" y="97.7" width="7.6" height="7.6" fill="#f4e61e"/>
<rect x="335.7" y="97.7" width="14.6" height="7.6" fill="#f6e620"/>
<rect x="349.7" y="97.7" width="7.6" height="7.6" fill="#f1e51d"/>
<rect x="356.7" y="97.7" width="7.6" height="7.6" fill="#eae51a"/>
<rect x="363.7" y="97.7" width="7.6" height="7.6" fill="#dfe318"/>
<rect x="370.7" y="97.7" width="7.6" height="7.6" fill="#d0e11c"/>
<rect x="377.7" y="97.7" width="7.6" height="7.6" fill="#addc30"/>
<rect x="384.7" y="97.7" width="7.6" height="7.6" fill="#5ec962"/>
<rect x="391.7" y="97.7" width="7.6" height="7.6" fill="#1e9d89"/>
<rect x="398.7" y="97.7" width="14.6" height="7.6" fill="#20928c"/>
<rect x="-14.3" y="104.7" width="14.6" height="7.6" fill="#20928c"/>
<rect x="-0.3" y="104.7" width="7.6" height="7.6" fill="#27ad81"/>
<rect x="6.7" y="104.7" width="7.6" height="7.6" fill="#7ad151"/>
<rect x="13.7" y="104.7" width="7.6" height="7.6" fill="#bddf26"/>
<rect x="20.7" y="104.7" width="7.6" height="7.6" fill="#d8e219"/>
<rect x="27.7" y="104.7" width="7.6" height="7.6" fill="#e5e419"/>
<rect x="34.7" y="104.7" width="7.6" height="7.6" fill="#efe51c"/>
<rect x="41.7" y="104.7" width="7.6" height="7.6" fill="#f6e620"/>
<rect x="48.7" y="104.7" width="14.6" height="7.6" fill="#f8e621"/>
<rect x="62.7" y="104.7" width="7.6" height="7.6" fill="#f4e61e"/>
<rect x="69.7" y="104.7" width="7.6" height="7.6" fill="#e5e419"/>
<rect x="76.7" y="104.7" width="7.6" height="7.6" fill="#cde11d"/>
<rect x="83.7" y="104.7" width="7.6" height="7.6" fill="#b2dd2d"/>
<rect x="90.7" y="104.7" width="28.6" height="7.6" fill="#addc30"/>
<rect x="118.7" y="104.7" width="21.6" height="7.6" fill="#aadc32"/>
<rect x="139.7" y="104.7" width="14.6" height="7.6" fill="#a8db34"/>
<rect x="153.7" y="104.7" width="91.6" height="7.6" fill="#addc30"/>
<rect x="244.7" y="104.7" width="14.6" height="7.6" fill="#a8db34"/>
<rect x="258.7" y="104.7" width="21.6" height="7.6" fill="#aadc32"/>
<rect x="279.7" y="104.7" width="21.6" height="7.6" fill="#addc30"/>
<rect x="300.7" y="104.7" width="7.6" height="7.6" fill="#b0dd2f"/>
<rect x="307.7" y="104.7" width="7.6" height="7.6" fill="#b8de29"/>
<rect x="314.7" y="104.7" width="7.6" height="7.6" fill="#d5e21a"/>
<rect x="321.7" y="104.7" width="7.6" height="7.6" fill="#eae51a"/>
<rect x="328.7" y="104.7" width="7.6" height="7.6" fill="#f6e620"/>
<rect x="335.7" y="104.7" width="14.6" height="7.6" fill="#f8e621"/>
<rect x="349.7" y="104.7" width="7.6" height="7.6" fill="#f4e61e"/>
<rect x="356.7" y="104.7" width="7.6" height="7.6" fill="#ece51b"/>
<rect x="363.7" y="104.7" width="7.6" height="7.6" fill="#e2e418"/>
<rect x="370.7" y="104.7" width="7.6" height="7.6" fill="#d2e21b"/>
<rect x="377.7" y="104.7" width="7.6" height="7.6" fill="#addc30"/>
<rect x="384.7" y="104.7" width="7.6" height="7.6" fill="#5ec962"/>
<rect x="391.7" y="104.7" width="7.6" height="7.6" fill="#1f9e89"/>
<rect x="398.7" y="104.7" width="14.6" height="7.6" fill="#20928c"/>
<rect x="-14.3" y="111.7" width="14.6" height="7.6" fill="#20928c"/>
<rect x="-0.3" y="111.7" width="7.6" height="7.6" fill="#27ad81"/>
<rect x="6.7" y="111.7" width="7.6" height="7.6" fill="#7ad151"/>
<rect x="13.7" y="111.7" width="7.6" height="7.6" fill="#c0df25"/>
<rect x="20.7" y="111.7" width="7.6" height="7.6" fill="#dae319"/>
<rect x="27.7" y="111.7" width="7.6" height="7.6" fill="#e7e419"/>
<rect x="34.7" y="111.7" width="7.6" height="7.6" fill="#f1e51d"/>
<rect x="41.7" y="111.7" width="7.6" height="7.6" fill="#f8e621"/>
<rect x="48.7" y="111.7" width="14.6" height="7.6" fill="#fbe723"/>
<rect x="62.7" y="111.7" width="7.6" height="7.6" fill="#f4e61e"/>
<rect x="69.7" y="111.7" width="7.6" height="7.6" fill="#e7e419"/>
<rect x="76.7" y="111.7" width="7.6" height="7.6" fill="#cde11d"/>
<rect x="83.7" y="111.7" width="7.6" height="7.6" fill="#b5de2b"/>
<rect x="90.7" y="111.7" width="21.6" height="7.6" fill="#b0dd2f"/>
<rect x="111.7" y="111.7" width="21.6" height="7.6" fill="#addc30"/>
<rect x="132.7" y="111.7" width="21.6" height="7.6" fill="#aadc32"/>
<rect x="153.7" y="111.7" width="84.6" height="7.6" fill="#b0dd2f"/>
<rect x="237.7" y="111.7" width="7.6" height="7.6" fill="#addc30"/>
<rect x="244.7" y="111.7" width="21.6" height="7.6" fill="#aadc32"/>
<rect x="265.7" y="111.7" width="21.6" height="7.6" fill="#addc30"/>
<rect x="286.7" y="111.7" width="21.6" height="7.6" fill="#b0dd2f"/>
<rect x="307.7" y="111.7" width="7.6" height="7.6" fill="#bade28"/>
<rect x="314.7" y="111.7" width="7.6" height="7.6" fill="#d8e219"/>
<rect x="321.7" y="111.7" width="7.6" height="7.6" fill="#ece51b"/>
<rect x="328.7" y="111.7" width="7.6" height="7.6" fill="#f6e620"/>
<rect x="335.7" y="111.7" width="14.6" height="7.6" fill="#fbe723"/>
<rect x="349.7" y="111.7" width="7.6" height="7.6" fill="#f6e620"/>
<rect x="356.7" y="111.7" width="7.6" height="7.6" fill="#efe51c"/>
<rect x="363.7" y="111.7" width="7.6" height="7.6" fill="#e5e419"/>
<rect x="370.7" y="111.7" width="7.6" height="7.6" fill="#d5e21a"/>
<rect x="377.7" y="111.7" width="7.6" height="7.6" fill="#b0dd2f"/>
<rect x="384.7" y="111.7" width="7.6" height="7.6" fill="#60ca60"/>
<rect x="391.7" y="111.7" width="7.6" height="7.6" fill="#1f9e89"/>
<rect x="398.7" y="111.7" width="14.6" height="7.6" fill="#20928c"/>
<rect x="-14.3" y="118.7" width="14.6" height="7.6" fill="#20928c"/>
<rect x="-0.3" y="118.7" width="7.6" height="7.6" fill="#27ad81"/>
<rect x="6.7" y="118.7" width="7.6" height="7.6" fill="#7ad151"/>
<rect x="13.7" y="118.7" width="7.6" height="7.6" fill="#c0df25"/>
<rect x="20.7" y="118.7" width="7.6" height="7.6" fill="#dae319"/>
<rect x="27.7" y="118.7" width="7.6" height="7.6" fill="#e7e419"/>
<rect x="34.7" y="118.7" width="7.6" height="7.6" fill="#f4e61e"/>
<rect x="41.7" y="118.7" width="7.6" height="7.6" fill="#f8e621"/>
<rect x="48.7" y="118.7" width="14.6" height="7.6" fill="#fde725"/>
<rect x="62.7" y="118.7" width="7.6" height="7.6" fill="#f6e620"/>
<rect x="69.7" y="118.7" width="7.6" height="7.6" fill="#e7e419"/>
<rect x="76.7" y="118.7" width="7.6" height="7.6" fill="#d0e11c"/>
<rect x="83.7" y="118.7" width="7.6" height="7.6" fill="#b5de2b"/>
<rect x="90.7" y="118.7" width="14.6" height="7.6" fill="#b2dd2d"/>
<rect x="104.7" y="118.7" width="21.6" height="7.6" fill="#b0dd2f"/>
<rect x="125.7" y="118.7" width="28.6" height="7.6" fill="#addc30"/>
<rect x="153.7" y="118.7" width="7.6" height="7.6" fill="#b0dd2f"/>
<rect x="160.7" y="118.7" width="14.6" height="7.6" fill="#b2dd2d"/>
<rect x="174.7" y="118.7" width="49.6" height="7.6" fill="#b0dd2f"/>
<rect x="223.7" y="118.7" width="14.6" height="7.6" fill="#b2dd2d"/>
<rect x="237.7" y="118.7" width="7.6" height="7.6" fill="#b0dd2f"/>
<rect x="244.7" y="118.7" width="28.6" height="7.6" fill="#addc30"/>
<rect x="272.7" y="118.7" width="21.6" height="7.6" fill="#b0dd2f"/>
<rect x="293.7" y="118.7" width="14.6" height="7.6" fill="#b2dd2d"/>
<rect x="307.7" y="118.7" width="7.6" height="7.6" fill="#bade28"/>
<rect x="314.7" y="118.7" width="7.6" height="7.6" fill="#d8e219"/>
<rect x="321.7" y="118.7" width="7.6" height="7.6" fill="#ece51b"/>
<rect x="328.7" y="118.7" width="7.6" height="7.6" fill="#f8e621"/>
<rect x="335.7" y="118.7" width="14.6" height="7.6" fill="#fde725"/>
<rect x="349.7" y="118.7" width="7.6" height="7.6" fill="#f8e621"/>
<rect x="356.7" y="118.7" width="7.6" height="7.6" fill="#f1e51d"/>
<rect x="363.7" y="118.7" width="7.6" height="7.6" fill="#e5e419"/>
<rect x="370.7" y="118.7" width="7.6" height="7.6" fill="#d5e21a"/>
<rect x="377.7" y="118.7" width="7.6" height="7.6" fill="#b0dd2f"/>
<rect x="384.7" y="118.7" width="7.6" height="7.6" fill="#60ca60"/>
<rect x="391.7" y="118.7" width="7.6" height="7.6" fill="#1f9e89"/>
<rect x="398.7" y="118.7" width="14.6" height="7.6" fill="#20928c"/>
<rect x="-14.3" y="125.7" width="14.6" height="7.6" fill="#20928c"/>
<rect x="-0.3" y="125.7" width="7.6" height="7.6" fill="#27ad81"/>
<rect x="6.7" y="125.7" width="7.6" height="7.6" fill="#7ad151"/>
<rect x="13.7" y="125.7" width="7.6" height="7.6" fill="#c0df25"/>
<rect x="20.7" y="125.7" width="7.6" height="7.6" fill="#dae319"/>
<rect x="27.7" y="125.7" width="7.6" height="7.6" fill="#eae51a"/>
<rect x="34.7" y="125.7" width="7.6" height="7.6" fill="#f4e61e"/>
<rect x="41.7" y="125.7" width="7.6" height="7.6" fill="#fbe723"/>
<rect x="48.7" y="125.7" width="14.6" height="7.6" fill="#fde725"/>
<rect x="62.7" y="125.7" width="7.6" height="7.6" fill="#f6e620"/>
<rect x="69.7" y="125.7" width="7.6" height="7.6" fill="#eae51a"/>
<rect x="76.7" y="125.7" width="7.6" height="7.6" fill="#d0e11c"/>
<rect x="83.7" y="125.7" width="7.6" height="7.6" fill="#b5de2b"/>
<rect x="90.7" y="125.7" width="21.6" height="7.6" fill="#b2dd2d"/>
<rect x="111.7" y="125.7" width="21.6" height="7.6" fill="#b0dd2f"/>
<rect x="132.7" y="125.7" width="21.6" height="7.6" fill="#addc30"/>
<rect x="153.7" y="125.7" width="84.6" height="7.6" fill="#b2dd2d"/>
<rect x="237.7" y="125.7" width="7.6" height="7.6" fill="#b0dd2f"/>
<rect x="244.7" y="125.7" width="21.6" height="7.6" fill="#addc30"/>
<rect x="265.7" y="125.7" width="21.6" height="7.6" fill="#b0dd2f"/>
<rect x="286.7" y="125.7" width="21.6" height="7.6" fill="#b2dd2d"/>
<rect x="307.7" y="125.7" width="7.6" height="7.6" fill="#bade28"/>
<rect x="314.7" y="125.7" width="7.6" height="7.6" fill="#d8e219"/>
<rect x="321.7" y="125.7" width="7.6" height="7.6" fill="#efe51c"/>
<rect x="328.7" y="125.7" width="7.6" height="7.6" fill="#f8e621"/>
<rect x="335.7" y="125.7" width="14.6" height="7.6" fill="#fde725"/>
<rect x="349.7" y="125.7" width="7.6" height="7.6" fill="#f8e621"/>
<rect x="356.7" y="125.7" width="7.6" height="7.6" fill="#f1e51d"/>
<rect x="363.7" y="125.7" width="7.6" height="7.6" fill="#e5e419"/>
<rect x="370.7" y="125.7" width="7.6" height="7.6" fill="#d5e21a"/>
<rect x="377.7" y="125.7" width="7.6" height="7.6" fill="#b0dd2f"/>
<rect x="384.7" y="125.7" width="7.6" height="7.6" fill="#60ca60"/>
<rect x="391.7" y="125.7" width="7.6" height="7.6" fill="#1f9e89"/>
<rect x="398.7" y="125.7" width="14.6" height="7.6" fill="#20928c"/>
<rect x="-14.3" y="132.7" width="14.6" height="7.6" fill="#20928c"/>
<rect x="-0.3" y="132.7" width="7.6" height="7.6" fill="#27ad81"/>
<rect x="6.7" y="132.7" width="7.6" height="7.6" fill="#7ad151"/>
<rect x="13.7" y="132.7" width="7.6" height="7.6" fill="#c0df25"/>
<rect x="20.7" y="132.7" width="7.6" height="7.6" fill="#dae319"/>
<rect x="27.7" y="132.7" width="7.6" height="7.6" fill="#eae51a"/>
<rect x="34.7" y="132.7" width="7.6" height="7.6" fill="#f4e61e"/>
<rect x="41.7" y="132.7" width="7.6" height="7.6" fill="#fbe723"/>
<rect x="48.7" y="132.7" width="14.6" height="7.6" fill="#fde725"/>
<rect x="62.7" y="132.7" width="7.6" height="7.6" fill="#f6e620"/>
<rect x="69.7" y="132.7" width="7.6" height="7.6" fill="#eae51a"/>
<rect x="76.7" y="132.7" width="7.6" height="7.6" fill="#d0e11c"/>
<rect x="83.7" y="132.7" width="7.6" height="7.6" fill="#b8de29"/>
<rect x="90.7" y="132.7" width="21.6" height="7.6" fill="#b2dd2d"/>
<rect x="111.7" y="132.7" width="28.6" height="7.6" fill="#b0dd2f"/>
<rect x="139.7" y="132.7" width="14.6" height="7.6" fill="#addc30"/>
<rect x="153.7" y="132.7" width="91.6" height="7.6" fill="#b2dd2d"/>
<rect x="244.7" y="132.7" width="14.6" height="7.6" fill="#addc30"/>
<rect x="258.7" y="132.7" width="21.6" height="7.6" fill="#b0dd2f"/>
<rect x="279.7" y="132.7" width="28.6" height="7.6" fill="#b2dd2d"/>
<rect x="307.7" y="132.7" width="7.6" height="7.6" fill="#bade28"/>
<rect x="314.7" y="132.7" width="7.6" height="7.6" fill="#d8e219"/>
<rect x="321.7" y="132.7" width="7.6" height="7.6" fill="#efe51c"/>
<rect x="328.7" y="132.7" width="7.6" height="7.6" fill="#f8e621"/>
<rect x="335.7" y="132.7" width="14.6" height="7.6" fill="#fde725"/>
<rect x="349.7" y="132.7" width="7.6" height="7.6" fill="#f8e621"/>
<rect x="356.7" y="132.7" width="7.6" height="7.6" fill="#f1e51d"/>
<rect x="363.7" y="132.7" width="7.6" height="7.6" fill="#e5e419"/>
<rect x="370.7" y="132.7" width="7.6" height="7.6" fill="#d5e21a"/>
<rect x="377.7" y="132.7" width="7.6" height="7.6" fill="#b0dd2f"/>
<rect x="384.7" y="132.7" width="7.6" height="7.6" fill="#60ca60"/>
<rect x="391.7" y="132.7" width="7.6" height="7.6" fill="#1f9e89"/>
<rect x="398.7" y="132.7" width="14.6" height="7.6" fill="#20928c"/>
<rect x="-14.3" y="139.7" width="14.6" height="7.6" fill="#20928c"/>
<rect x="-0.3" y="139.7" width="7.6" height="7.6" fill="#27ad81"/>
<rect x="6.7" y="139.7" width="7.6" height="7.6" fill="#7ad151"/>
<rect x="13.7" y="139.7" width="7.6" height="7.6" fill="#c0df25"/>
<rect x="20.7" y="139.7" width="7.6" height="7.6" fill="#dae319"/>
<rect x="27.7" y="139.7" width="7.6" height="7.6" fill="#eae51a"/>
<rect x="34.7" y="139.7" width="7.6" height="7.6" fill="#f4e61e"/>
<rect x="41.7" y="139.7" width="7.6" height="7.6" fill="#fbe723"/>
<rect x="48.7" y="139.7" width="14.6" height="7.6" fill="#fde725"/>
<rect x="62.7" y="139.7" width="7.6" height="7.6" fill="#f6e620"/>
<rect x="69.7" y="139.7" width="7.6" height="7.6" fill="#eae51a"/>
<rect x="76.7" y="139.7" width="7.6" height="7.6" fill="#d0e11c"/>
<rect x="83.7" y="139.7" width="7.6" height="7.6" fill="#b8de29"/>
<rect x="90.7" y="139.7" width="28.6" height="7.6" fill="#b2dd2d"/>
<rect x="118.7" y="139.7" width="21.6" height="7.6" fill="#b0dd2f"/>
<rect x="139.7" y="139.7" width="14.6" height="7.6" fill="#addc30"/>
<rect x="153.7" y="139.7" width="91.6" height="7.6" fill="#b2dd2d"/>
<rect x="244.7" y="139.7" width="14.6" height="7.6" fill="#addc30"/>
<rect x="258.7" y="139.7" width="21.6" height="7.6" fill="#b0dd2f"/>
<rect x="279.7" y="139.7" width="28.6" height="7.6" fill="#b2dd2d"/>
<rect x="307.7" y="139.7" width="7.6" height="7.6" fill="#bade28"/>
<rect x="314.7" y="139.7" width="7.6" height="7.6" fill="#d8e219"/>
<rect x="321.7" y="139.7" width="7.6" height="7.6" fill="#efe51c"/>
<rect x="328.7" y="139.7" width="7.6" height="7.6" fill="#f8e621"/>
<rect x="335.7" y="139.7" width="14.6" height="7.6" fill="#fde725"/>
<rect x="349.7" y="139.7" width="7.6" height="7.6" fill="#f8e621"/>
<rect x="356.7" y="139.7" width="7.6" height="7.6" fill="#f1e51d"/>
<rect x="363.7" y="139.7" width="7.6" height="7.6" fill="#e5e419"/>
<rect x="370.7" y="139.7" width="7.6" height="7.6" fill="#d5e21a"/>
<rect x="377.7" y="139.7" width="7.6" height="7.6" fill="#b0dd2f"/>
<rect x="384.7" y="139.7" width="7.6" height="7.6" fill="#60ca60"/>
<rect x="391.7" y="139.7" width="7.6" height="7.6" fill="#1f9e89"/>
<rect x="398.7" y="139.7" width="14.6" height="7.6" fill="#20928c"/>
<rect x="-14.3" y="146.7" width="14.6" height="7.6" fill="#20928c"/>
<rect x="-0.3" y="146.7" width="7.6" height="7.6" fill="#27ad81"/>
<rect x="6.7" y="146.7" width="7.6" height="7.6" fill="#7ad151"/>
<rect x="13.7" y="146.7" width="7.6" height="7.6" fill="#c0df25"/>
<rect x="20.7" y="146.7" width="7.6" height="7.6" fill="#dae319"/>
<rect x="27.7" y="146.7" width="7.6" height="7.6" fill="#eae51a"/>
<rect x="34.7" y="146.7" width="7.6" height="7.6" fill="#f4e61e"/>
<rect x="41.7" y="146.7" width="7.6" height="7.6" fill="#fbe723"/>
<rect x="48.7" y="146.7" width="14.6" height="7.6" fill="#fde725"/>
<rect x="62.7" y="146.7" width="7.6" height="7.6" fill="#f6e620"/>
<rect x="69.7" y="146.7" width="7.6" height="7.6" fill="#eae51a"/>
<rect x="76.7" y="146.7" width="7.6" height="7.6" fill="#d0e11c"/>
<rect x="83.7" y="146.7" width="7.6" height="7.6" fill="#b8de29"/>
<rect x="90.7" y="146.7" width="28.6" height="7.6" fill="#b2dd2d"/>
<rect x="118.7" y="146.7" width="21.6" height="7.6" fill="#b0dd2f"/>
<rect x="139.7" y="146.7" width="14.6" height="7.6" fill="#addc30"/>
<rect x="153.7" y="146.7" width="91.6" height="7.6" fill="#b2dd2d"/>
<rect x="244.7" y="146.7" width="14.6" height="7.6" fill="#addc30"/>
<rect x="258.7" y="146.7" width="21.6" height="7.6" fill="#b0dd2f"/>
<rect x="279.7" y="146.7" width="28.6" height="7.6" fill="#b2dd2d"/>
<rect x="307.7" y="146.7" width="7.6" height="7.6" fill="#bade28"/>
<rect x="314.7" y="146.7" width="7.6" height="7.6" fill="#d8e219"/>
<rect x="321.7" y="146.7" width="7.6" height="7.6" fill="#efe51c"/>
<rect x="328.7" y="146.7" width="7.6" height="7.6" fill="#f8e621"/>
<rect x="335.7" y="146.7" width="14.6" height="7.6" fill="#fde725"/>
<rect x="349.7" y="146.7" width="7.6" height="7.6" fill="#f8e621"/>
<rect x="356.7" y="146.7" width="7.6" height="7.6" fill="#f1e51d"/>
<rect x="363.7" y="146.7" width="7.6" height="7.6" fill="#e5e419"/>
<rect x="370.7" y="146.7" width="7.6" height="7.6" fill="#d5e21a"/>
<rect x="377.7" y="146.7" width="7.6" height="7.6" fill="#b0dd2f"/>
<rect x="384.7" y="146.7" width="7.6" height="7.6" fill="#60ca60"/>
<rect x="391.7" y="146.7" width="7.6" height="7.6" fill="#1f9e89"/>
<rect x="398.7" y="146.7" width="14.6" height="7.6" fill="#20928c"/>
<rect x="-14.3" y="153.7" width="14.6" height="7.6" fill="#20928c"/>
<rect x="-0.3" y="153.7" width="7.6" height="7.6" fill="#27ad81"/>
<rect x="6.7" y="153.7" width="7.6" height="7.6" fill="#7ad151"/>
<rect x="13.7" y="153.7" width="7.6" height="7.6" fill="#c0df25"/>
<rect x="20.7" y="153.7" width="7.6" height="7.6" fill="#dae319"/>
<rect x="27.7" y="153.7" width="7.6" height="7.6" fill="#eae51a"/>
<rect x="34.7" y="153.7" width="7.6" height="7.6" fill="#f4e61e"/>
<rect x="41.7" y="153.7" width="7.6" height="7.6" fill="#fbe723"/>
<rect x="48.7" y="153.7" width="14.6" height="7.6" fill="#fde725"/>
<rect x="62.7" y="153.7" width="7.6" height="7.6" fill="#f6e620"/>
<rect x="69.7" y="153.7" width="7.6" height="7.6" fill="#eae51a"/>
<rect x="76.7" y="153.7" width="7.6" height="7.6" fill="#d0e11c"/>
<rect x="83.7" y="153.7" width="7.6" height="7.6" fill="#b8de29"/>
<rect x="90.7" y="153.7" width="21.6" height="7.6" fill="#b2dd2d"/>
<rect x="111.7" y="153.7" width="28.6" height="7.6" fill="#b0dd2f"/>
<rect x="139.7" y="153.7" width="14.6" height="7.6" fill="#addc30"/>
<rect x="153.7" y="153.7" width="91.6" height="7.6" fill="#b2dd2d"/>
<rect x="244.7" y="153.7" width="14.6" height="7.6" fill="#addc30"/>
<rect x="258.7" y="153.7" width="21.6" height="7.6" fill="#b0dd2f"/>
<rect x="279.7" y="153.7" width="28.6" height="7.6" fill="#b2dd2d"/>
<rect x="307.7" y="153.7" width="7.6" height="7.6" fill="#bade28"/>
<rect x="314.7" y="153.7" width="7.6" height="7.6" fill="#d8e219"/>
<rect x="321.7" y="153.7" width="7.6" height="7.6" fill="#efe51c"/>
<rect x="328.7" y="153.7" width="7.6" height="7.6" fill="#f8e621"/>
<rect x="335.7" y="153.7" width="14.6" height="7.6" fill="#fde725"/>
<rect x="349.7" y="153.7" width="7.6" height="7.6" fill="#f8e621"/>
<rect x="356.7" y="153.7" width="7.6" height="7.6" fill="#f1e51d"/>
<rect x="363.7" y="153.7" width="7.6" height="7.6" fill="#e5e419"/>
<rect x="370.7" y="153.7" width="7.6" height="7.6" fill="#d5e21a"/>
<rect x="377.7" y="153.7" width="7.6" height="7.6" fill="#b0dd2f"/>
<rect x="384.7" y="153.7" width="7.6" height="7.6" fill="#60ca60"/>
<rect x="391.7" y="153.7" width="7.6" height="7.6" fill="#1f9e89"/>
<rect x="398.7" y="153.7" width="14.6" height="7.6" fill="#20928c"/>
<rect x="-14.3" y="160.7" width="14.6" height="7.6" fill="#20928c"/>
<rect x="-0.3" y="160.7" width="7.6" height="7.6" fill="#27ad81"/>
<rect x="6.7" y="160.7" width="7.6" height="7.6" fill="#7ad151"/>
<rect x="13.7" y="160.7" width="7.6" height="7.6" fill="#c0df25"/>
<rect x="20.7" y="160.7" width="7.6" height="7.6" fill="#dae319"/>
<rect x="27.7" y="160.7" width="7.6" height="7.6" fill="#eae51a"/>
<rect x="34.7" y="160.7" width="7.6" height="7.6" fill="#f4e61e"/>
<rect x="41.7" y="160.7" width="7.6" height="7.6" fill="#fbe723"/>
<rect x="48.7" y="160.7" width="14.6" height="7.6" fill="#fde725"/>
<rect x="62.7" y="160.7" width="7.6" height="7.6" fill="#f6e620"/>
<rect x="69.7" y="160.7" width="7.6" height="7.6" fill="#eae51a"/>
<rect x="76.7" y="160.7" width="7.6" height="7.6" fill="#d0e11c"/>
<rect x="83.7" y="160.7" width="7.6" height="7.6" fill="#b5de2b"/>
<rect x="90.7" y="160.7" width="21.6" height="7.6" fill="#b2dd2d"/>
<rect x="111.7" y="160.7" width="21.6" height="7.6" fill="#b0dd2f"/>
<rect x="132.7" y="160.7" width="21.6" height="7.6" fill="#addc30"/>
<rect x="153.7" y="160.7" width="84.6" height="7.6" fill="#b2dd2d"/>
<rect x="237.7" y="160.7" width="7.6" height="7.6" fill="#b0dd2f"/>
<rect x="244.7" y="160.7" width="21.6" height="7.6" fill="#addc30"/>
<rect x="265.7" y="160.7" width="21.6" height="7.6" fill="#b0dd2f"/>
<rect x="286.7" y="160.7" width="21.6" height="7.6" fill="#b2dd2d"/>
<rect x="307.7" y="160.7" width="7.6" height="7.6" fill="#bade28"/>
<rect x="314.7" y="160.7" width="7.6" height="7.6" fill="#d8e219"/>
<rect x="321.7" y="160.7" width="7.6" height="7.6" fill="#efe51c"/>
<rect x="328.7" y="160.7" width="7.6" height="7.6" fill="#f8e621"/>
<rect x="335.7" y="160.7" width="14.6" height="7.6" fill="#fde725"/>
<rect x="349.7" y="160.7" width="7.6" height="7.6" fill="#f8e621"/>
<rect x="356.7" y="160.7" width="7.6" height="7.6" fill="#f1e51d"/>
<rect x="363.7" y="160.7" width="7.6" height="7.6" fill="#e5e419"/>
<rect x="370.7" y="160.7" width="7.6" height="7.6" fill="#d5e21a"/>
<rect x="377.7" y="160.7" width="7.6" height="7.6" fill="#b0dd2f"/>
<rect x="384.7" y="160.7" width="7.6" height="7.6" fill="#60ca60"/>
<rect x="391.7" y="160.7" width="7.6" height="7.6" fill="#1f9e89"/>
<rect x="398.7" y="160.7" width="14.6" height="7.6" fill="#20928c"/>
<rect x="-14.3" y="167.7" width="14.6" height="7.6" fill="#20928c"/>
<rect x="-0.3" y="167.7" width="7.6" height="7.6" fill="#27ad81"/>
<rect x="6.7" y="167.7" width="7.6" height="7.6" fill="#7ad151"/>
<rect x="13.7" y="167.7" width="7.6" height="7.6" fill="#c0df25"/>
<rect x="20.7" y="167.7" width="7.6" height="7.6" fill="#dae319"/>
<rect x="27.7" y="167.7" width="7.6" height="7.6" fill="#e7e419"/>
<rect x="34.7" y="167.7" width="7.6" height="7.6" fill="#f4e61e"/>
<rect x="41.7" y="167.7" width="7.6" height="7.6" fill="#f8e621"/>
<rect x="48.7" y="167.7" width="14.6" height="7.6" fill="#fde725"/>
<rect x="62.7" y="167.7" width="7.6" height="7.6" fill="#f6e620"/>
<rect x="69.7" y="167.7" width="7.6" height="7.6" fill="#e7e419"/>
<rect x="76.7" y="167.7" width="7.6" height="7.6" fill="#d0e11c"/>
<rect x="83.7" y="167.7" width="7.6" height="7.6" fill="#b5de2b"/>
<rect x="90.7" y="167.7" width="14.6" height="7.6" fill="#b2dd2d"/>
<rect x="104.7" y="167.7" width="14.6" height="7.6" fill="#b0dd2f"/>
<rect x="118.7" y="167.7" width="35.6" height="7.6" fill="#addc30"/>
<rect x="153.7" y="167.7" width="7.6" height="7.6" fill="#b0dd2f"/>
<rect x="160.7" y="167.7" width="14.6" height="7.6" fill="#b2dd2d"/>
<rect x="174.7" y="167.7" width="49.6" height="7.6" fill="#b0dd2f"/>
<rect x="223.7" y="167.7" width="14.6" height="7.6" fill="#b2dd2d"/>
<rect x="237.7" y="167.7" width="7.6" height="7.6" fill="#b0dd2f"/>
<rect x="244.7" y="167.7" width="28.6" height="7.6" fill="#addc30"/>
<rect x="272.7" y="167.7" width="21.6" height="7.6" fill="#b0dd2f"/>
<rect x="293.7" y="167.7" width="14.6" height="7.6" fill="#b2dd2d"/>
<rect x="307.7" y="167.7" width="7.6" height="7.6" fill="#bade28"/>
<rect x="314.7" y="167.7" width="7.6" height="7.6" fill="#d8e219"/>
<rect x="321.7" y="167.7" width="7.6" height="7.6" fill="#ece51b"/>
<rect x="328.7" y="167.7" width="7.6" height="7.6" fill="#f8e621"/>
<rect x="335.7" y="167.7" width="14.6" height="7.6" fill="#fde725"/>
<rect x="349.7" y="167.7" width="7.6" height="7.6" fill="#f8e621"/>
<rect x="356.7" y="167.7" width="7.6" height="7.6" fill="#f1e51d"/>
<rect x="363.7" y="167.7" width="7.6" height="7.6" fill="#e5e419"/>
<rect x="370.7" y="167.7" width="7.6" height="7.6" fill="#d5e21a"/>
<rect x="377.7" y="167.7" width="7.6" height="7.6" fill="#b0dd2f"/>
<rect x="384.7" y="167.7" width="7.6" height="7.6" fill="#60ca60"/>
<rect x="391.7" y="167.7" width="7.6" height="7.6" fill="#1f9e89"/>
<rect x="398.7" y="167.7" width="14.6" height="7.6" fill="#20928c"/>
<rect x="-14.3" y="174.7" width="14.6" height="7.6" fill="#20928c"/>
<rect x="-0.3" y="174.7" width="7.6" height="7.6" fill="#27ad81"/>
<rect x="6.7" y="174.7" width="7.6" height="7.6" fill="#7ad151"/>
<rect x="13.7" y="174.7" width="7.6" height="7.6" fill="#c0df25"/>
<rect x="20.7" y="174.7" width="7.6" height="7.6" fill="#dae319"/>
<rect x="27.7" y="174.7" width="7.6" height="7.6" fill="#e7e419"/>
<rect x="34.7" y="174.7" width="7.6" height="7.6" fill="#f1e51d"/>
<rect x="41.7" y="174.7" width="7.6" height="7.6" fill="#f8e621"/>
<rect x="48.7" y="174.7" width="14.6" height="7.6" fill="#fbe723"/>
<rect x="62.7" y="174.7" width="7.6" height="7.6" fill="#f4e61e"/>
<rect x="69.7" y="174.7" width="7.6" height="7.6" fill="#e7e419"/>
<rect x="76.7" y="174.7" width="7.6" height="7.6" fill="#cde11d"/>
<rect x="83.7" y="174.7" width="7.6" height="7.6" fill="#b5de2b"/>
<rect x="90.7" y="174.7" width="21.6" height="7.6" fill="#b0dd2f"/>
<rect x="111.7" y="174.7" width="21.6" height="7.6" fill="#addc30"/>
<rect x="132.7" y="174.7" width="21.6" height="7.6" fill="#aadc32"/>
<rect x="153.7" y="174.7" width="84.6" height="7.6" fill="#b0dd2f"/>
<rect x="237.7" y="174.7" width="7.6" height="7.6" fill="#addc30"/>
<rect x="244.7" y="174.7" width="21.6" height="7.6" fill="#aadc32"/>
<rect x="265.7" y="174.7" width="21.6" height="7.6" fill="#addc30"/>
<rect x="286.7" y="174.7" width="21.6" height="7.6" fill="#b0dd2f"/>
<rect x="307.7" y="174.7" width="7.6" height="7.6" fill="#bade28"/>
<rect x="314.7" y="174.7" width="7.6" height="7.6" fill="#d8e219"/>
<rect x="321.7" y="174.7" width="7.6" height="7.6" fill="#ece51b"/>
<rect x="328.7" y="174.7" width="7.6" height="7.6" fill="#f6e620"/>
<rect x="335.7" y="174.7" width="14.6" height="7.6" fill="#fbe723"/>
<rect x="349.7" y="174.7" width="7.6" height="7.6" fill="#f6e620"/>
<rect x="356.7" y="174.7" width="7.6" height="7.6" fill="#efe51c"/>
<rect x="363.7" y="174.7" width="7.6" height="7.6" fill="#e5e419"/>
<rect x="370.7" y="174.7" width="7.6" height="7.6" fill="#d5e21a"/>
<rect x="377.7" y="174.7" width="7.6" height="7.6" fill="#b0dd2f"/>
<rect x="384.7" y="174.7" width="7.6" height="7.6" fill="#60ca60"/>
<rect x="391.7" y="174.7" width="7.6" height="7.6" fill="#1f9e89"/>
<rect x="398.7" y="174.7" width="14.6" height="7.6" fill="#20928c"/>
<rect x="-14.3" y="181.7" width="14.6" height="7.6" fill="#20928c"/>
<rect x="-0.3" y="181.7" width="7.6" height="7.6" fill="#27ad81"/>
<rect x="6.7" y="181.7" width="7.6" height="7.6" fill="#7ad151"/>
<rect x="13.7" y="181.7" width="7.6" height="7.6" fill="#bddf26"/>
<rect x="20.7" y="181.7" width="7.6" height="7.6" fill="#d8e219"/>
<rect x="27.7" y="181.7" width="7.6" height="7.6" fill="#e5e419"/>
<rect x="34.7" y="181.7" width="7.6" height="7.6" fill="#efe51c"/>
<rect x="41.7" y="181.7" width="7.6" height="7.6" fill="#f6e620"/>
<rect x="48.7" y="181.7" width="14.6" height="7.6" fill="#f8e621"/>
<rect x="62.7" y="181.7" width="7.6" height="7.6" fill="#f4e61e"/>
<rect x="69.7" y="181.7" width="7.6" height="7.6" fill="#e5e419"/>
<rect x="76.7" y="181.7" width="7.6" height="7.6" fill="#cde11d"/>
<rect x="83.7" y="181.7" width="7.6" height="7.6" fill="#b2dd2d"/>
<rect x="90.7" y="181.7" width="28.6" height="7.6" fill="#addc30"/>
<rect x="118.7" y="181.7" width="21.6" height="7.6" fill="#aadc32"/>
<rect x="139.7" y="181.7" width="14.6" height="7.6" fill="#a8db34"/>
<rect x="153.7" y="181.7" width="91.6" height="7.6" fill="#addc30"/>
<rect x="244.7" y="181.7" width="14.6" height="7.6" fill="#a8db34"/>
<rect x="258.7" y="181.7" width="21.6" height="7.6" fill="#aadc32"/>
<rect x="279.7" y="181.7" width="21.6" height="7.6" fill="#addc30"/>
<rect x="300.7" y="181.7" width="7.6" height="7.6" fill="#b0dd2f"/>
<rect x="307.7" y="181.7" width="7.6" height="7.6" fill="#b8de29"/>
<rect x="314.7" y="181.7" width="7.6" height="7.6" fill="#d5e21a"/>
<rect x="321.7" y="181.7" width="7.6" height="7.6" fill="#eae51a"/>
<rect x="328.7" y="181.7" width="7.6" height="7.6" fill="#f6e620"/>
<rect x="335.7" y="181.7" width="14.6" height="7.6" fill="#f8e621"/>
<rect x="349.7" y="181.7" width="7.6" height="7.6" fill="#f4e61e"/>
<rect x="356.7" y="181.7" width="7.6" height="7.6" fill="#ece51b"/>
<rect x="363.7" y="181.7" width="7.6" height="7.6" fill="#e2e418"/>
<rect x="370.7" y="181.7" width="7.6" height="7.6" fill="#d2e21b"/>
<rect x="377.7" y="181.7" width="7.6" height="7.6" fill="#addc30"/>
<rect x="384.7" y="181.7" width="7.6" height="7.6" fill="#5ec962"/>
<rect x="391.7" y="181.7" width="7.6" height="7.6" fill="#1f9e89"/>
<rect x="398.7" y="181.7" width="14.6" height="7.6" fill="#20928c"/>
<rect x="-14.3" y="188.7" width="14.6" height="7.6" fill="#20928c"/>
<rect x="-0.3" y="188.7" width="7.6" height="7.6" fill="#26ad81"/>
<rect x="6.7" y="188.7" width="7.6" height="7.6" fill="#77d153"/>
<rect x="13.7" y="188.7" width="7.6" height="7.6" fill="#bddf26"/>
<rect x="20.7" y="188.7" width="7.6" height="7.6" fill="#d5e21a"/>
<rect x="27.7" y="188.7" width="7.6" height="7.6" fill="#e2e418"/>
<rect x="34.7" y="188.7" width="7.6" height="7.6" fill="#ece51b"/>
<rect x="41.7" y="188.7" width="7.6" height="7.6" fill="#f4e61e"/>
<rect x="48.7" y="188.7" width="14.6" height="7.6" fill="#f6e620"/>
<rect x="62.7" y="188.7" width="7.6" height="7.6" fill="#efe51c"/>
<rect x="69.7" y="188.7" width="7.6" height="7.6" fill="#e2e418"/>
<rect x="76.7" y="188.7" width="7.6" height="7.6" fill="#cae11f"/>
<rect x="83.7" y="188.7" width="7.6" height="7.6" fill="#b0dd2f"/>
<rect x="90.7" y="188.7" width="7.6" height="7.6" fill="#addc30"/>
<rect x="97.7" y="188.7" width="21.6" height="7.6" fill="#aadc32"/>
<rect x="118.7" y="188.7" width="21.6" height="7.6" fill="#a8db34"/>
<rect x="139.7" y="188.7" width="7.6" height="7.6" fill="#a5db36"/>
<rect x="146.7" y="188.7" width="7.6" height="7.6" fill="#a8db34"/>
<rect x="153.7" y="188.7" width="91.6" height="7.6" fill="#aadc32"/>
<rect x="244.7" y="188.7" width="7.6" height="7.6" fill="#a5db36"/>
<rect x="251.7" y="188.7" width="28.6" height="7.6" fill="#a8db34"/>
<rect x="279.7" y="188.7" width="21.6" height="7.6" fill="#aadc32"/>
<rect x="300.7" y="188.7" width="7.6" height="7.6" fill="#addc30"/>
<rect x="307.7" y="188.7" width="7.6" height="7.6" fill="#b5de2b"/>
<rect x="314.7" y="188.7" width="7.6" height="7.6" fill="#d2e21b"/>
<rect x="321.7" y="188.7" width="7.6" height="7.6" fill="#e7e419"/>
<rect x="328.7" y="188.7" width="7.6" height="7.6" fill="#f1e51d"/>
<rect x="335.7" y="188.7" width="14.6" height="7.6" fill="#f6e620"/>
<rect x="349.7" y="188.7" width="7.6" height="7.6" fill="#f1e51d"/>
<rect x="356.7" y="188.7" width="7.6" height="7.6" fill="#eae51a"/>
<rect x="363.7" y="188.7" width="7.6" height="7.6" fill="#dfe318"/>
<rect x="370.7" y="188.7" width="7.6" height="7.6" fill="#d0e11c"/>
<rect x="377.7" y="188.7" width="7.6" height="7.6" fill="#addc30"/>
<rect x="384.7" y="188.7" width="7.6" height="7.6" fill="#5ec962"/>
<rect x="391.7" y="188.7" width="7.6" height="7.6" fill="#1e9d89"/>
<rect x="398.7" y="188.7" width="14.6" height="7.6" fill="#20928c"/>
<rect x="-14.3" y="195.7" width="14.6" height="7.6" fill="#21908d"/>
<rect x="-0.3" y="195.7" width="7.6" height="7.6" fill="#25ac82"/>
<rect x="6.7" y="195.7" width="7.6" height="7.6" fill="#75d054"/>
<rect x="13.7" y="195.7" width="7.6" height="7.6" fill="#bade28"/>
<rect x="20.7" y="195.7" width="7.6" height="7.6" fill="#d2e21b"/>
<rect x="27.7" y="195.7" width="7.6" height="7.6" fill="#dfe318"/>
<rect x="34.7" y="195.7" width="7.6" height="7.6" fill="#eae51a"/>
<rect x="41.7" y="195.7" width="7.6" height="7.6" fill="#efe51c"/>
<rect x="48.7" y="195.7" width="7.6" height="7.6" fill="#f4e61e"/>
<rect x="55.7" y="195.7" width="7.6" height="7.6" fill="#f1e51d"/>
<rect x="62.7" y="195.7" width="7.6" height="7.6" fill="#ece51b"/>
<rect x="69.7" y="195.7" width="7.6" height="7.6" fill="#dfe318"/>
<rect x="76.7" y="195.7" width="7.6" height="7.6" fill="#c8e020"/>
<rect x="83.7" y="195.7" width="7.6" height="7.6" fill="#addc30"/>
<rect x="90.7" y="195.7" width="28.6" height="7.6" fill="#a8db34"/>
<rect x="118.7" y="195.7" width="21.6" height="7.6" fill="#a5db36"/>
<rect x="139.7" y="195.7" width="14.6" height="7.6" fill="#a2da37"/>
<rect x="153.7" y="195.7" width="91.6" height="7.6" fill="#a5db36"/>
<rect x="244.7" y="195.7" width="14.6" height="7.6" fill="#a2da37"/>
<rect x="258.7" y="195.7" width="21.6" height="7.6" fill="#a5db36"/>
<rect x="279.7" y="195.7" width="21.6" height="7.6" fill="#a8db34"/>
<rect x="300.7" y="195.7" width="7.6" height="7.6" fill="#aadc32"/>
<rect x="307.7" y="195.7" width="7.6" height="7.6" fill="#b5de2b"/>
<rect x="314.7" y="195.7" width="7.6" height="7.6" fill="#d0e11c"/>
<rect x="321.7" y="195.7" width="7.6" height="7.6" fill="#e5e419"/>
<rect x="328.7" y="195.7" width="7.6" height="7.6" fill="#efe51c"/>
<rect x="335.7" y="195.7" width="7.6" height="7.6" fill="#f4e61e"/>
<rect x="342.7" y="195.7" width="7.6" height="7.6" fill="#f1e51d"/>
<rect x="349.7" y="195.7" width="7.6" height="7.6" fill="#efe51c"/>
<rect x="356.7" y="195.7" width="7.6" height="7.6" fill="#e7e419"/>
<rect x="363.7" y="195.7" width="7.6" height="7.6" fill="#dde318"/>
<rect x="370.7" y="195.7" width="7.6" height="7.6" fill="#cde11d"/>
<rect x="377.7" y="195.7" width="7.6" height="7.6" fill="#aadc32"/>
<rect x="384.7" y="195.7" width="7.6" height="7.6" fill="#5cc863"/>
<rect x="391.7" y="195.7" width="7.6" height="7.6" fill="#1e9c89"/>
<rect x="398.7" y="195.7" width="14.6" height="7.6" fill="#21908d"/>
<rect x="-14.3" y="202.7" width="14.6" height="7.6" fill="#218e8d"/>
<rect x="-0.3" y="202.7" width="7.6" height="7.6" fill="#24aa83"/>
<rect x="6.7" y="202.7" width="7.6" height="7.6" fill="#73d056"/>
<rect x="13.7" y="202.7" width="7.6" height="7.6" fill="#b8de29"/>
<rect x="20.7" y="202.7" width="7.6" height="7.6" fill="#d0e11c"/>
<rect x="27.7" y="202.7" width="7.6" height="7.6" fill="#dae319"/>
<rect x="34.7" y="202.7" width="7.6" height="7.6" fill="#e5e419"/>
<rect x="41.7" y="202.7" width="7.6" height="7.6" fill="#eae51a"/>
<rect x="48.7" y="202.7" width="7.6" height="7.6" fill="#efe51c"/>
<rect x="55.7" y="202.7" width="7.6" height="7.6" fill="#ece51b"/>
<rect x="62.7" y="202.7" width="7.6" height="7.6" fill="#e7e419"/>
<rect x="69.7" y="202.7" width="7.6" height="7.6" fill="#dae319"/>
<rect x="76.7" y="202.7" width="7.6" height="7.6" fill="#c5e021"/>
<rect x="83.7" y="202.7" width="7.6" height="7.6" fill="#aadc32"/>
<rect x="90.7" y="202.7" width="21.6" height="7.6" fill="#a5db36"/>
<rect x="111.7" y="202.7" width="21.6" height="7.6" fill="#a2da37"/>
<rect x="132.7" y="202.7" width="42.6" height="7.6" fill="#a0da39"/>
<rect x="174.7" y="202.7" width="49.6" height="7.6" fill="#9dd93b"/>
<rect x="223.7" y="202.7" width="42.6" height="7.6" fill="#a0da39"/>
<rect x="265.7" y="202.7" width="21.6" height="7.6" fill="#a2da37"/>
<rect x="286.7" y="202.7" width="21.6" height="7.6" fill="#a5db36"/>
<rect x="307.7" y="202.7" width="7.6" height="7.6" fill="#b0dd2f"/>
<rect x="314.7" y="202.7" width="7.6" height="7.6" fill="#cde11d"/>
<rect x="321.7" y="202.7" width="7.6" height="7.6" fill="#dfe318"/>
<rect x="328.7" y="202.7" width="7.6" height="7.6" fill="#eae51a"/>
<rect x="335.7" y="202.7" width="7.6" height="7.6" fill="#efe51c"/>
<rect x="342.7" y="202.7" width="7.6" height="7.6" fill="#ece51b"/>
<rect x="349.7" y="202.7" width="7.6" height="7.6" fill="#eae51a"/>
<rect x="356.7" y="202.7" width="7.6" height="7.6" fill="#e2e418"/>
<rect x="363.7" y="202.7" width="7.6" height="7.6" fill="#d8e219"/>
<rect x="370.7" y="202.7" width="7.6" height="7.6" fill="#cae11f"/>
<rect x="377.7" y="202.7" width="7.6" height="7.6" fill="#a8db34"/>
<rect x="384.7" y="202.7" width="7.6" height="7.6" fill="#58c765"/>
<rect x="391.7" y="202.7" width="7.6" height="7.6" fill="#1f9a8a"/>
<rect x="398.7" y="202.7" width="14.6" height="7.6" fill="#218e8d"/>
<rect x="-14.3" y="209.7" width="14.6" height="7.6" fill="#228b8d"/>
<rect x="-0.3" y="209.7" width="7.6" height="7.6" fill="#22a884"/>
<rect x="6.7" y="209.7" width="7.6" height="7.6" fill="#6ece58"/>
<rect x="13.7" y="209.7" width="7.6" height="7.6" fill="#b2dd2d"/>
<rect x="20.7" y="209.7" width="7.6" height="7.6" fill="#cae11f"/>
<rect x="27.7" y="209.7" width="7.6" height="7.6" fill="#d5e21a"/>
<rect x="34.7" y="209.7" width="7.6" height="7.6" fill="#dfe318"/>
<rect x="41.7" y="209.7" width="7.6" height="7.6" fill="#e5e419"/>
<rect x="48.7" y="209.7" width="14.6" height="7.6" fill="#e7e419"/>
<rect x="62.7" y="209.7" width="7.6" height="7.6" fill="#e2e418"/>
<rect x="69.7" y="209.7" width="7.6" height="7.6" fill="#d5e21a"/>
<rect x="76.7" y="209.7" width="7.6" height="7.6" fill="#c0df25"/>
<rect x="83.7" y="209.7" width="7.6" height="7.6" fill="#a8db34"/>
<rect x="90.7" y="209.7" width="14.6" height="7.6" fill="#a2da37"/>
<rect x="104.7" y="209.7" width="14.6" height="7.6" fill="#a0da39"/>
<rect x="118.7" y="209.7" width="28.6" height="7.6" fill="#9dd93b"/>
<rect x="146.7" y="209.7" width="105.6" height="7.6" fill="#9bd93c"/>
<rect x="251.7" y="209.7" width="21.6" height="7.6" fill="#9dd93b"/>
<rect x="272.7" y="209.7" width="21.6" height="7.6" fill="#a0da39"/>
<rect x="293.7" y="209.7" width="14.6" height="7.6" fill="#a2da37"/>
<rect x="307.7" y="209.7" width="7.6" height="7.6" fill="#addc30"/>
<rect x="314.7" y="209.7" width="7.6" height="7.6" fill="#c8e020"/>
<rect x="321.7" y="209.7" width="7.6" height="7.6" fill="#dae319"/>
<rect x="328.7" y="209.7" width="7.6" height="7.6" fill="#e5e419"/>
<rect x="335.7" y="209.7" width="14.6" height="7.6" fill="#e7e419"/>
<rect x="349.7" y="209.7" width="7.6" height="7.6" fill="#e2e418"/>
<rect x="356.7" y="209.7" width="7.6" height="7.6" fill="#dde318"/>
<rect x="363.7" y="209.7" width="7.6" height="7.6" fill="#d2e21b"/>
<rect x="370.7" y="209.7" width="7.6" height="7.6" fill="#c5e021"/>
<rect x="377.7" y="209.7" width="7.6" height="7.6" fill="#a2da37"/>
<rect x="384.7" y="209.7" width="7.6" height="7.6" fill="#54c568"/>
<rect x="391.7" y="209.7" width="7.6" height="7.6" fill="#1f978b"/>
<rect x="398.7" y="209.7" width="14.6" height="7.6" fill="#228b8d"/>
<rect x="-14.3" y="216.7" width="14.6" height="7.6" fill="#23888e"/>
<rect x="-0.3" y="216.7" width="7.6" height="7.6" fill="#21a585"/>
<rect x="6.7" y="216.7" width="7.6" height="7.6" fill="#69cd5b"/>
<rect x="13.7" y="216.7" width="7.6" height="7.6" fill="#addc30"/>
<rect x="20.7" y="216.7" width="7.6" height="7.6" fill="#c2df23"/>
<rect x="27.7" y="216.7" width="7.6" height="7.6" fill="#d0e11c"/>
<rect x="34.7" y="216.7" width="7.6" height="7.6" fill="#d8e219"/>
<rect x="41.7" y="216.7" width="7.6" height="7.6" fill="#dde318"/>
<rect x="48.7" y="216.7" width="14.6" height="7.6" fill="#dfe318"/>
<rect x="62.7" y="216.7" width="7.6" height="7.6" fill="#dae319"/>
<rect x="69.7" y="216.7" width="7.6" height="7.6" fill="#d0e11c"/>
<rect x="76.7" y="216.7" width="7.6" height="7.6" fill="#bade28"/>
<rect x="83.7" y="216.7" width="7.6" height="7.6" fill="#a2da37"/>
<rect x="90.7" y="216.7" width="21.6" height="7.6" fill="#9dd93b"/>
<rect x="111.7" y="216.7" width="21.6" height="7.6" fill="#9bd93c"/>
<rect x="132.7" y="216.7" width="28.6" height="7.6" fill="#98d83e"/>
<rect x="160.7" y="216.7" width="77.6" height="7.6" fill="#95d840"/>
<rect x="237.7" y="216.7" width="28.6" height="7.6" fill="#98d83e"/>
<rect x="265.7" y="216.7" width="21.6" height="7.6" fill="#9bd93c"/>
<rect x="286.7" y="216.7" width="21.6" height="7.6" fill="#9dd93b"/>
<rect x="307.7" y="216.7" width="7.6" height="7.6" fill="#a8db34"/>
<rect x="314.7" y="216.7" width="7.6" height="7.6" fill="#c2df23"/>
<rect x="321.7" y="216.7" width="7.6" height="7.6" fill="#d2e21b"/>
<rect x="328.7" y="216.7" width="7.6" height="7.6" fill="#dde318"/>
<rect x="335.7" y="216.7" width="14.6" height="7.6" fill="#dfe318"/>
<rect x="349.7" y="216.7" width="7.6" height="7.6" fill="#dde318"/>
<rect x="356.7" y="216.7" width="7.6" height="7.6" fill="#d5e21a"/>
<rect x="363.7" y="216.7" width="7.6" height="7.6" fill="#cde11d"/>
<rect x="370.7" y="216.7" width="7.6" height="7.6" fill="#c0df25"/>
<rect x="377.7" y="216.7" width="7.6" height="7.6" fill="#9dd93b"/>
<rect x="384.7" y="216.7" width="7.6" height="7.6" fill="#50c46a"/>
<rect x="391.7" y="216.7" width="7.6" height="7.6" fill="#1f948c"/>
<rect x="398.7" y="216.7" width="14.6" height="7.6" fill="#23888e"/>
<rect x="-14.3" y="223.7" width="14.6" height="7.6" fill="#25848e"/>
<rect x="-0.3" y="223.7" width="7.6" height="7.6" fill="#1fa187"/>
<rect x="6.7" y="223.7" width="7.6" height="7.6" fill="#63cb5f"/>
<rect x="13.7" y="223.7" width="7.6" height="7.6" fill="#a5db36"/>
<rect x="20.7" y="223.7" width="7.6" height="7.6" fill="#bddf26"/>
<rect x="27.7" y="223.7" width="7.6" height="7.6" fill="#c8e020"/>
<rect x="34.7" y="223.7" width="7.6" height="7.6" fill="#d0e11c"/>
<rect x="41.7" y="223.7" width="7.6" height="7.6" fill="#d5e21a"/>
<rect x="48.7" y="223.7" width="7.6" height="7.6" fill="#d8e219"/>
<rect x="55.7" y="223.7" width="7.6" height="7.6" fill="#d5e21a"/>
<rect x="62.7" y="223.7" width="7.6" height="7.6" fill="#d0e11c"/>
<rect x="69.7" y="223.7" width="7.6" height="7.6" fill="#c5e021"/>
<rect x="76.7" y="223.7" width="7.6" height="7.6" fill="#b2dd2d"/>
<rect x="83.7" y="223.7" width="7.6" height="7.6" fill="#9dd93b"/>
<rect x="90.7" y="223.7" width="21.6" height="7.6" fill="#98d83e"/>
<rect x="111.7" y="223.7" width="21.6" height="7.6" fill="#95d840"/>
<rect x="132.7" y="223.7" width="35.6" height="7.6" fill="#93d741"/>
<rect x="167.7" y="223.7" width="63.6" height="7.6" fill="#90d743"/>
<rect x="230.7" y="223.7" width="35.6" height="7.6" fill="#93d741"/>
<rect x="265.7" y="223.7" width="21.6" height="7.6" fill="#95d840"/>
<rect x="286.7" y="223.7" width="21.6" height="7.6" fill="#98d83e"/>
<rect x="307.7" y="223.7" width="7.6" height="7.6" fill="#a2da37"/>
<rect x="314.7" y="223.7" width="7.6" height="7.6" fill="#bade28"/>
<rect x="321.7" y="223.7" width="7.6" height="7.6" fill="#cae11f"/>
<rect x="328.7" y="223.7" width="7.6" height="7.6" fill="#d2e21b"/>
<rect x="335.7" y="223.7" width="7.6" height="7.6" fill="#d8e219"/>
<rect x="342.7" y="223.7" width="7.6" height="7.6" fill="#d5e21a"/>
<rect x="349.7" y="223.7" width="7.6" height="7.6" fill="#d2e21b"/>
<rect x="356.7" y="223.7" width="7.6" height="7.6" fill="#cde11d"/>
<rect x="363.7" y="223.7" width="7.6" height="7.6" fill="#c2df23"/>
<rect x="370.7" y="223.7" width="7.6" height="7.6" fill="#b8de29"/>
<rect x="377.7" y="223.7" width="7.6" height="7.6" fill="#95d840"/>
<rect x="384.7" y="223.7" width="7.6" height="7.6" fill="#4ac16d"/>
<rect x="391.7" y="223.7" width="7.6" height="7.6" fill="#21918c"/>
<rect x="398.7" y="223.7" width="14.6" height="7.6" fill="#25848e"/>
<rect x="-14.3" y="230.7" width="14.6" height="7.6" fill="#277f8e"/>
<rect x="-0.3" y="230.7" width="7.6" height="7.6" fill="#1f9e89"/>
<rect x="6.7" y="230.7" width="7.6" height="7.6" fill="#5cc863"/>
<rect x="13.7" y="230.7" width="7.6" height="7.6" fill="#9dd93b"/>
<rect x="20.7" y="230.7" width="7.6" height="7.6" fill="#b2dd2d"/>
<rect x="27.7" y="230.7" width="7.6" height="7.6" fill="#bddf26"/>
<rect x="34.7" y="230.7" width="7.6" height="7.6" fill="#c5e021"/>
<rect x="41.7" y="230.7" width="21.6" height="7.6" fill="#cae11f"/>
<rect x="62.7" y="230.7" width="7.6" height="7.6" fill="#c5e021"/>
<rect x="69.7" y="230.7" width="7.6" height="7.6" fill="#bddf26"/>
<rect x="76.7" y="230.7" width="7.6" height="7.6" fill="#aadc32"/>
<rect x="83.7" y="230.7" width="7.6" height="7.6" fill="#98d83e"/>
<rect x="90.7" y="230.7" width="21.6" height="7.6" fill="#93d741"/>
<rect x="111.7" y="230.7" width="21.6" height="7.6" fill="#90d743"/>
<rect x="132.7" y="230.7" width="28.6" height="7.6" fill="#8ed645"/>
<rect x="160.7" y="230.7" width="70.6" height="7.6" fill="#8bd646"/>
<rect x="230.7" y="230.7" width="35.6" height="7.6" fill="#8ed645"/>
<rect x="265.7" y="230.7" width="21.6" height="7.6" fill="#90d743"/>
<rect x="286.7" y="230.7" width="21.6" height="7.6" fill="#93d741"/>
<rect x="307.7" y="230.7" width="7.6" height="7.6" fill="#9dd93b"/>
<rect x="314.7" y="230.7" width="7.6" height="7.6" fill="#b2dd2d"/>
<rect x="321.7" y="230.7" width="7.6" height="7.6" fill="#c0df25"/>
<rect x="328.7" y="230.7" width="7.6" height="7.6" fill="#c8e020"/>
<rect x="335.7" y="230.7" width="14.6" height="7.6" fill="#cae11f"/>
<rect x="349.7" y="230.7" width="7.6" height="7.6" fill="#c8e020"/>
<rect x="356.7" y="230.7" width="7.6" height="7.6" fill="#c2df23"/>
<rect x="363.7" y="230.7" width="7.6" height="7.6" fill="#bade28"/>
<rect x="370.7" y="230.7" width="7.6" height="7.6" fill="#b0dd2f"/>
<rect x="377.7" y="230.7" width="7.6" height="7.6" fill="#8ed645"/>
<rect x="384.7" y="230.7" width="7.6" height="7.6" fill="#42be71"/>
<rect x="391.7" y="230.7" width="7.6" height="7.6" fill="#228c8d"/>
<rect x="398.7" y="230.7" width="14.6" height="7.6" fill="#277f8e"/>
<rect x="-14.3" y="237.7" width="14.6" height="7.6" fill="#29798e"/>
<rect x="-0.3" y="237.7" width="7.6" height="7.6" fill="#1f988b"/>
<rect x="6.7" y="237.7" width="7.6" height="7.6" fill="#54c568"/>
<rect x="13.7" y="237.7" width="7.6" height="7.6" fill="#95d840"/>
<rect x="20.7" y="237.7" width="7.6" height="7.6" fill="#a8db34"/>
<rect x="27.7" y="237.7" width="7.6" height="7.6" fill="#b2dd2d"/>
<rect x="34.7" y="237.7" width="7.6" height="7.6" fill="#b8de29"/>
<rect x="41.7" y="237.7" width="7.6" height="7.6" fill="#bddf26"/>
<rect x="48.7" y="237.7" width="14.6" height="7.6" fill="#c0df25"/>
<rect x="62.7" y="237.7" width="7.6" height="7.6" fill="#bade28"/>
<rect x="69.7" y="237.7" width="7.6" height="7.6" fill="#b2dd2d"/>
<rect x="76.7" y="237.7" width="7.6" height="7.6" fill="#a2da37"/>
<rect x="83.7" y="237.7" width="7.6" height="7.6" fill="#90d743"/>
<rect x="90.7" y="237.7" width="14.6" height="7.6" fill="#8ed645"/>
<rect x="104.7" y="237.7" width="21.6" height="7.6" fill="#8bd646"/>
<rect x="125.7" y="237.7" width="28.6" height="7.6" fill="#89d548"/>
<rect x="153.7" y="237.7" width="91.6" height="7.6" fill="#86d549"/>
<rect x="244.7" y="237.7" width="28.6" height="7.6" fill="#89d548"/>
<rect x="272.7" y="237.7" width="21.6" height="7.6" fill="#8bd646"/>
<rect x="293.7" y="237.7" width="14.6" height="7.6" fill="#8ed645"/>
<rect x="307.7" y="237.7" width="7.6" height="7.6" fill="#95d840"/>
<rect x="314.7" y="237.7" width="7.6" height="7.6" fill="#a8db34"/>
<rect x="321.7" y="237.7" width="7.6" height="7.6" fill="#b5de2b"/>
<rect x="328.7" y="237.7" width="7.6" height="7.6" fill="#bddf26"/>
<rect x="335.7" y="237.7" width="7.6" height="7.6" fill="#c0df25"/>
<rect x="342.7" y="237.7" width="7.6" height="7.6" fill="#bddf26"/>
<rect x="349.7" y="237.7" width="7.6" height="7.6" fill="#bade28"/>
<rect x="356.7" y="237.7" width="7.6" height="7.6" fill="#b5de2b"/>
<rect x="363.7" y="237.7" width="7.6" height="7.6" fill="#b0dd2f"/>
<rect x="370.7" y="237.7" width="7.6" height="7.6" fill="#a5db36"/>
<rect x="377.7" y="237.7" width="7.6" height="7.6" fill="#84d44b"/>
<rect x="384.7" y="237.7" width="7.6" height="7.6" fill="#3bbb75"/>
<rect x="391.7" y="237.7" width="7.6" height="7.6" fill="#24868e"/>
<rect x="398.7" y="237.7" width="14.6" height="7.6" fill="#29798e"/>
<rect x="-14.3" y="244.7" width="14.6" height="7.6" fill="#2c718e"/>
<rect x="-0.3" y="244.7" width="7.6" height="7.6" fill="#20928c"/>
<rect x="6.7" y="244.7" width="7.6" height="7.6" fill="#4ac16d"/>
<rect x="13.7" y="244.7" width="7.6" height="7.6" fill="#89d548"/>
<rect x="20.7" y="244.7" width="7.6" height="7.6" fill="#9dd93b"/>
<rect x="27.7" y="244.7" width="7.6" height="7.6" fill="#a5db36"/>
<rect x="34.7" y="244.7" width="7.6" height="7.6" fill="#aadc32"/>
<rect x="41.7" y="244.7" width="7.6" height="7.6" fill="#addc30"/>
<rect x="48.7" y="244.7" width="14.6" height="7.6" fill="#b0dd2f"/>
<rect x="62.7" y="244.7" width="7.6" height="7.6" fill="#addc30"/>
<rect x="69.7" y="244.7" width="7.6" height="7.6" fill="#a5db36"/>
<rect x="76.7" y="244.7" width="7.6" height="7.6" fill="#98d83e"/>
<rect x="83.7" y="244.7" width="7.6" height="7.6" fill="#89d548"/>
<rect x="90.7" y="244.7" width="21.6" height="7.6" fill="#86d549"/>
<rect x="111.7" y="244.7" width="28.6" height="7.6" fill="#84d44b"/>
<rect x="139.7" y="244.7" width="35.6" height="7.6" fill="#81d34d"/>
<rect x="174.7" y="244.7" width="42.6" height="7.6" fill="#7fd34e"/>
<rect x="216.7" y="244.7" width="42.6" height="7.6" fill="#81d34d"/>
<rect x="258.7" y="244.7" width="21.6" height="7.6" fill="#84d44b"/>
<rect x="279.7" y="244.7" width="21.6" height="7.6" fill="#86d549"/>
<rect x="300.7" y="244.7" width="7.6" height="7.6" fill="#89d548"/>
<rect x="307.7" y="244.7" width="7.6" height="7.6" fill="#8ed645"/>
<rect x="314.7" y="244.7" width="7.6" height="7.6" fill="#9bd93c"/>
<rect x="321.7" y="244.7" width="7.6" height="7.6" fill="#a8db34"/>
<rect x="328.7" y="244.7" width="7.6" height="7.6" fill="#addc30"/>
<rect x="335.7" y="244.7" width="14.6" height="7.6" fill="#b0dd2f"/>
<rect x="349.7" y="244.7" width="7.6" height="7.6" fill="#addc30"/>
<rect x="356.7" y="244.7" width="7.6" height="7.6" fill="#a8db34"/>
<rect x="363.7" y="244.7" width="7.6" height="7.6" fill="#a2da37"/>
<rect x="370.7" y="244.7" width="7.6" height="7.6" fill="#9bd93c"/>
<rect x="377.7" y="244.7" width="7.6" height="7.6" fill="#7ad151"/>
<rect x="384.7" y="244.7" width="7.6" height="7.6" fill="#34b679"/>
<rect x="391.7" y="244.7" width="7.6" height="7.6" fill="#27808e"/>
<rect x="398.7" y="244.7" width="14.6" height="7.6" fill="#2c718e"/>
<rect x="-14.3" y="251.7" width="14.6" height="7.6" fill="#30698e"/>
<rect x="-0.3" y="251.7" width="7.6" height="7.6" fill="#228b8d"/>
<rect x="6.7" y="251.7" width="7.6" height="7.6" fill="#3fbc73"/>
<rect x="13.7" y="251.7" width="7.6" height="7.6" fill="#7cd250"/>
<rect x="20.7" y="251.7" width="7.6" height="7.6" fill="#90d743"/>
<rect x="27.7" y="251.7" width="7.6" height="7.6" fill="#95d840"/>
<rect x="34.7" y="251.7" width="7.6" height="7.6" fill="#9bd93c"/>
<rect x="41.7" y="251.7" width="7.6" height="7.6" fill="#9dd93b"/>
<rect x="48.7" y="251.7" width="14.6" height="7.6" fill="#a0da39"/>
<rect x="62.7" y="251.7" width="7.6" height="7.6" fill="#9dd93b"/>
<rect x="69.7" y="251.7" width="7.6" height="7.6" fill="#95d840"/>
<rect x="76.7" y="251.7" width="7.6" height="7.6" fill="#8bd646"/>
<rect x="83.7" y="251.7" width="14.6" height="7.6" fill="#81d34d"/>
<rect x="97.7" y="251.7" width="21.6" height="7.6" fill="#7fd34e"/>
<rect x="118.7" y="251.7" width="28.6" height="7.6" fill="#7cd250"/>
<rect x="146.7" y="251.7" width="105.6" height="7.6" fill="#7ad151"/>
<rect x="251.7" y="251.7" width="21.6" height="7.6" fill="#7cd250"/>
<rect x="272.7" y="251.7" width="21.6" height="7.6" fill="#7fd34e"/>
<rect x="293.7" y="251.7" width="14.6" height="7.6" fill="#81d34d"/>
<rect x="307.7" y="251.7" width="7.6" height="7.6" fill="#84d44b"/>
<rect x="314.7" y="251.7" width="7.6" height="7.6" fill="#8ed645"/>
<rect x="321.7" y="251.7" width="7.6" height="7.6" fill="#98d83e"/>
<rect x="328.7" y="251.7" width="7.6" height="7.6" fill="#9dd93b"/>
<rect x="335.7" y="251.7" width="14.6" height="7.6" fill="#a0da39"/>
<rect x="349.7" y="251.7" width="7.6" height="7.6" fill="#9dd93b"/>
<rect x="356.7" y="251.7" width="7.6" height="7.6" fill="#9bd93c"/>
<rect x="363.7" y="251.7" width="7.6" height="7.6" fill="#93d741"/>
<rect x="370.7" y="251.7" width="7.6" height="7.6" fill="#8ed645"/>
<rect x="377.7" y="251.7" width="7.6" height="7.6" fill="#6ece58"/>
<rect x="384.7" y="251.7" width="7.6" height="7.6" fill="#2ab07f"/>
<rect x="391.7" y="251.7" width="7.6" height="7.6" fill="#2a778e"/>
<rect x="398.7" y="251.7" width="14.6" height="7.6" fill="#30698e"/>
<rect x="-14.3" y="258.7" width="14.6" height="7.6" fill="#355f8d"/>
<rect x="-0.3" y="258.7" width="7.6" height="7.6" fill="#25838e"/>
<rect x="6.7" y="258.7" width="7.6" height="7.6" fill="#35b779"/>
<rect x="13.7" y="258.7" width="7.6" height="7.6" fill="#70cf57"/>
<rect x="20.7" y="258.7" width="7.6" height="7.6" fill="#81d34d"/>
<rect x="27.7" y="258.7" width="7.6" height="7.6" fill="#86d549"/>
<rect x="34.7" y="258.7" width="7.6" height="7.6" fill="#89d548"/>
<rect x="41.7" y="258.7" width="21.6" height="7.6" fill="#8ed645"/>
<rect x="62.7" y="258.7" width="7.6" height="7.6" fill="#8bd646"/>
<rect x="69.7" y="258.7" width="7.6" height="7.6" fill="#86d549"/>
<rect x="76.7" y="258.7" width="7.6" height="7.6" fill="#7fd34e"/>
<rect x="83.7" y="258.7" width="21.6" height="7.6" fill="#7ad151"/>
<rect x="104.7" y="258.7" width="21.6" height="7.6" fill="#77d153"/>
<rect x="125.7" y="258.7" width="21.6" height="7.6" fill="#75d054"/>
<rect x="146.7" y="258.7" width="98.6" height="7.6" fill="#73d056"/>
<rect x="244.7" y="258.7" width="28.6" height="7.6" fill="#75d054"/>
<rect x="272.7" y="258.7" width="21.6" height="7.6" fill="#77d153"/>
<rect x="293.7" y="258.7" width="21.6" height="7.6" fill="#7ad151"/>
<rect x="314.7" y="258.7" width="7.6" height="7.6" fill="#81d34d"/>
<rect x="321.7" y="258.7" width="7.6" height="7.6" fill="#89d548"/>
<rect x="328.7" y="258.7" width="7.6" height="7.6" fill="#8bd646"/>
<rect x="335.7" y="258.7" width="14.6" height="7.6" fill="#8ed645"/>
<rect x="349.7" y="258.7" width="7.6" height="7.6" fill="#8bd646"/>
<rect x="356.7" y="258.7" width="7.6" height="7.6" fill="#89d548"/>
<rect x="363.7" y="258.7" width="7.6" height="7.6" fill="#84d44b"/>
<rect x="370.7" y="258.7" width="7.6" height="7.6" fill="#7fd34e"/>
<rect x="377.7" y="258.7" width="7.6" height="7.6" fill="#60ca60"/>
<rect x="384.7" y="258.7" width="7.6" height="7.6" fill="#24aa83"/>
<rect x="391.7" y="258.7" width="7.6" height="7.6" fill="#2e6f8e"/>
<rect x="398.7" y="258.7" width="14.6" height="7.6" fill="#355f8d"/>
<rect x="-14.3" y="265.7" width="14.6" height="7.6" fill="#3b528b"/>
<rect x="-0.3" y="265.7" width="7.6" height="7.6" fill="#297a8e"/>
<rect x="6.7" y="265.7" width="7.6" height="7.6" fill="#2ab07f"/>
<rect x="13.7" y="265.7" width="7.6" height="7.6" fill="#60ca60"/>
<rect x="20.7" y="265.7" width="7.6" height="7.6" fill="#70cf57"/>
<rect x="27.7" y="265.7" width="7.6" height="7.6" fill="#75d054"/>
<rect x="34.7" y="265.7" width="7.6" height="7.6" fill="#77d153"/>
<rect x="41.7" y="265.7" width="21.6" height="7.6" fill="#7ad151"/>
<rect x="62.7" y="265.7" width="7.6" height="7.6" fill="#77d153"/>
<rect x="69.7" y="265.7" width="7.6" height="7.6" fill="#75d054"/>
<rect x="76.7" y="265.7" width="14.6" height="7.6" fill="#70cf57"/>
<rect x="90.7" y="265.7" width="7.6" height="7.6" fill="#73d056"/>
<rect x="97.7" y="265.7" width="21.6" height="7.6" fill="#70cf57"/>
<rect x="118.7" y="265.7" width="28.6" height="7.6" fill="#6ece58"/>
<rect x="146.7" y="265.7" width="105.6" height="7.6" fill="#6ccd5a"/>
<rect x="251.7" y="265.7" width="28.6" height="7.6" fill="#6ece58"/>
<rect x="279.7" y="265.7" width="14.6" height="7.6" fill="#70cf57"/>
<rect x="293.7" y="265.7" width="7.6" height="7.6" fill="#73d056"/>
<rect x="300.7" y="265.7" width="7.6" height="7.6" fill="#70cf57"/>
<rect x="307.7" y="265.7" width="7.6" height="7.6" fill="#6ece58"/>
<rect x="314.7" y="265.7" width="7.6" height="7.6" fill="#70cf57"/>
<rect x="321.7" y="265.7" width="7.6" height="7.6" fill="#75d054"/>
<rect x="328.7" y="265.7" width="28.6" height="7.6" fill="#7ad151"/>
<rect x="356.7" y="265.7" width="7.6" height="7.6" fill="#77d153"/>
<rect x="363.7" y="265.7" width="7.6" height="7.6" fill="#73d056"/>
<rect x="370.7" y="265.7" width="7.6" height="7.6" fill="#6ece58"/>
<rect x="377.7" y="265.7" width="7.6" height="7.6" fill="#54c568"/>
<rect x="384.7" y="265.7" width="7.6" height="7.6" fill="#1fa287"/>
<rect x="391.7" y="265.7" width="7.6" height="7.6" fill="#32648e"/>
<rect x="398.7" y="265.7" width="14.6" height="7.6" fill="#3b528b"/>
<rect x="-14.3" y="272.7" width="14.6" height="7.6" fill="#414487"/>
<rect x="-0.3" y="272.7" width="7.6" height="7.6" fill="#2d708e"/>
<rect x="6.7" y="272.7" width="7.6" height="7.6" fill="#23a983"/>
<rect x="13.7" y="272.7" width="7.6" height="7.6" fill="#52c569"/>
<rect x="20.7" y="272.7" width="7.6" height="7.6" fill="#60ca60"/>
<rect x="27.7" y="272.7" width="7.6" height="7.6" fill="#63cb5f"/>
<rect x="34.7" y="272.7" width="14.6" height="7.6" fill="#65cb5e"/>
<rect x="48.7" y="272.7" width="14.6" height="7.6" fill="#67cc5c"/>
<rect x="62.7" y="272.7" width="7.6" height="7.6" fill="#65cb5e"/>
<rect x="69.7" y="272.7" width="7.6" height="7.6" fill="#63cb5f"/>
<rect x="76.7" y="272.7" width="7.6" height="7.6" fill="#60ca60"/>
<rect x="83.7" y="272.7" width="7.6" height="7.6" fill="#67cc5c"/>
<rect x="90.7" y="272.7" width="21.6" height="7.6" fill="#69cd5b"/>
<rect x="111.7" y="272.7" width="21.6" height="7.6" fill="#67cc5c"/>
<rect x="132.7" y="272.7" width="35.6" height="7.6" fill="#65cb5e"/>
<rect x="167.7" y="272.7" width="56.6" height="7.6" fill="#63cb5f"/>
<rect x="223.7" y="272.7" width="35.6" height="7.6" fill="#65cb5e"/>
<rect x="258.7" y="272.7" width="28.6" height="7.6" fill="#67cc5c"/>
<rect x="286.7" y="272.7" width="21.6" height="7.6" fill="#69cd5b"/>
<rect x="307.7" y="272.7" width="7.6" height="7.6" fill="#65cb5e"/>
<rect x="314.7" y="272.7" width="7.6" height="7.6" fill="#60ca60"/>
<rect x="321.7" y="272.7" width="7.6" height="7.6" fill="#63cb5f"/>
<rect x="328.7" y="272.7" width="7.6" height="7.6" fill="#65cb5e"/>
<rect x="335.7" y="272.7" width="14.6" height="7.6" fill="#67cc5c"/>
<rect x="349.7" y="272.7" width="14.6" height="7.6" fill="#65cb5e"/>
<rect x="363.7" y="272.7" width="7.6" height="7.6" fill="#63cb5f"/>
<rect x="370.7" y="272.7" width="7.6" height="7.6" fill="#5ec962"/>
<rect x="377.7" y="272.7" width="7.6" height="7.6" fill="#46c06f"/>
<rect x="384.7" y="272.7" width="7.6" height="7.6" fill="#1e9b8a"/>
<rect x="391.7" y="272.7" width="7.6" height="7.6" fill="#38588c"/>
<rect x="398.7" y="272.7" width="14.6" height="7.6" fill="#414487"/>
<rect x="-14.3" y="279.7" width="14.6" height="7.6" fill="#472f7d"/>
<rect x="-0.3" y="279.7" width="7.6" height="7.6" fill="#34618d"/>
<rect x="6.7" y="279.7" width="7.6" height="7.6" fill="#1f9f88"/>
<rect x="13.7" y="279.7" width="7.6" height="7.6" fill="#40bd72"/>
<rect x="20.7" y="279.7" width="14.6" height="7.6" fill="#4cc26c"/>
<rect x="34.7" y="279.7" width="14.6" height="7.6" fill="#4ec36b"/>
<rect x="48.7" y="279.7" width="14.6" height="7.6" fill="#50c46a"/>
<rect x="62.7" y="279.7" width="21.6" height="7.6" fill="#4ec36b"/>
<rect x="83.7" y="279.7" width="7.6" height="7.6" fill="#5ac864"/>
<rect x="90.7" y="279.7" width="21.6" height="7.6" fill="#60ca60"/>
<rect x="111.7" y="279.7" width="21.6" height="7.6" fill="#5ec962"/>
<rect x="132.7" y="279.7" width="35.6" height="7.6" fill="#5cc863"/>
<rect x="167.7" y="279.7" width="63.6" height="7.6" fill="#5ac864"/>
<rect x="230.7" y="279.7" width="35.6" height="7.6" fill="#5cc863"/>
<rect x="265.7" y="279.7" width="21.6" height="7.6" fill="#5ec962"/>
<rect x="286.7" y="279.7" width="21.6" height="7.6" fill="#60ca60"/>
<rect x="307.7" y="279.7" width="7.6" height="7.6" fill="#56c667"/>
<rect x="314.7" y="279.7" width="21.6" height="7.6" fill="#4ec36b"/>
<rect x="335.7" y="279.7" width="14.6" height="7.6" fill="#50c46a"/>
<rect x="349.7" y="279.7" width="14.6" height="7.6" fill="#4ec36b"/>
<rect x="363.7" y="279.7" width="7.6" height="7.6" fill="#4cc26c"/>
<rect x="370.7" y="279.7" width="7.6" height="7.6" fill="#4ac16d"/>
<rect x="377.7" y="279.7" width="7.6" height="7.6" fill="#35b779"/>
<rect x="384.7" y="279.7" width="7.6" height="7.6" fill="#21908d"/>
<rect x="391.7" y="279.7" width="7.6" height="7.6" fill="#404688"/>
<rect x="398.7" y="279.7" width="14.6" height="7.6" fill="#472f7d"/>
<rect x="-14.3" y="286.7" width="14.6" height="7.6" fill="#450457"/>
<rect x="-0.3" y="286.7" width="7.6" height="7.6" fill="#414487"/>
<rect x="6.7" y="286.7" width="7.6" height="7.6" fill="#228c8d"/>
<rect x="13.7" y="286.7" width="7.6" height="7.6" fill="#27ad81"/>
<rect x="20.7" y="286.7" width="14.6" height="7.6" fill="#2db27d"/>
<rect x="34.7" y="286.7" width="42.6" height="7.6" fill="#2eb37c"/>
<rect x="76.7" y="286.7" width="7.6" height="7.6" fill="#32b67a"/>
<rect x="83.7" y="286.7" width="7.6" height="7.6" fill="#46c06f"/>
<rect x="90.7" y="286.7" width="28.6" height="7.6" fill="#52c569"/>
<rect x="118.7" y="286.7" width="28.6" height="7.6" fill="#50c46a"/>
<rect x="146.7" y="286.7" width="105.6" height="7.6" fill="#4ec36b"/>
<rect x="251.7" y="286.7" width="21.6" height="7.6" fill="#50c46a"/>
<rect x="272.7" y="286.7" width="28.6" height="7.6" fill="#52c569"/>
<rect x="300.7" y="286.7" width="7.6" height="7.6" fill="#50c46a"/>
<rect x="307.7" y="286.7" width="7.6" height="7.6" fill="#3fbc73"/>
<rect x="314.7" y="286.7" width="7.6" height="7.6" fill="#2fb47c"/>
<rect x="321.7" y="286.7" width="42.6" height="7.6" fill="#2eb37c"/>
<rect x="363.7" y="286.7" width="14.6" height="7.6" fill="#2db27d"/>
<rect x="377.7" y="286.7" width="7.6" height="7.6" fill="#21a685"/>
<rect x="384.7" y="286.7" width="7.6" height="7.6" fill="#297b8e"/>
<rect x="391.7" y="286.7" width="7.6" height="7.6" fill="#482173"/>
<rect x="398.7" y="286.7" width="14.6" height="7.6" fill="#450457"/>
<rect x="-14.3" y="293.7" width="14.6" height="7.6" fill="#440154"/>
<rect x="-0.3" y="293.7" width="7.6" height="7.6" fill="#46307e"/>
<rect x="6.7" y="293.7" width="7.6" height="7.6" fill="#26818e"/>
<rect x="13.7" y="293.7" width="7.6" height="7.6" fill="#20a386"/>
<rect x="20.7" y="293.7" width="49.6" height="7.6" fill="#22a884"/>
<rect x="69.7" y="293.7" width="7.6" height="7.6" fill="#23a983"/>
<rect x="76.7" y="293.7" width="7.6" height="7.6" fill="#26ad81"/>
<rect x="83.7" y="293.7" width="7.6" height="7.6" fill="#3bbb75"/>
<rect x="90.7" y="293.7" width="7.6" height="7.6" fill="#4ac16d"/>
<rect x="97.7" y="293.7" width="7.6" height="7.6" fill="#4cc26c"/>
<rect x="104.7" y="293.7" width="21.6" height="7.6" fill="#4ac16d"/>
<rect x="125.7" y="293.7" width="28.6" height="7.6" fill="#48c16e"/>
<rect x="153.7" y="293.7" width="84.6" height="7.6" fill="#46c06f"/>
<rect x="237.7" y="293.7" width="28.6" height="7.6" fill="#48c16e"/>
<rect x="265.7" y="293.7" width="21.6" height="7.6" fill="#4ac16d"/>
<rect x="286.7" y="293.7" width="14.6" height="7.6" fill="#4cc26c"/>
<rect x="300.7" y="293.7" width="7.6" height="7.6" fill="#48c16e"/>
<rect x="307.7" y="293.7" width="7.6" height="7.6" fill="#34b679"/>
<rect x="314.7" y="293.7" width="7.6" height="7.6" fill="#25ab82"/>
<rect x="321.7" y="293.7" width="56.6" height="7.6" fill="#22a884"/>
<rect x="377.7" y="293.7" width="7.6" height="7.6" fill="#1e9c89"/>
<rect x="384.7" y="293.7" width="7.6" height="7.6" fill="#2e6f8e"/>
<rect x="391.7" y="293.7" width="7.6" height="7.6" fill="#46075a"/>
<rect x="398.7" y="293.7" width="14.6" height="7.6" fill="#440154"/>
<rect x="-14.3" y="300.7" width="14.6" height="7.6" fill="#440154"/>
<rect x="-0.3" y="300.7" width="7.6" height="7.6" fill="#46307e"/>
<rect x="6.7" y="300.7" width="7.6" height="7.6" fill="#26818e"/>
<rect x="13.7" y="300.7" width="7.6" height="7.6" fill="#20a386"/>
<rect x="20.7" y="300.7" width="49.6" height="7.6" fill="#22a884"/>
<rect x="69.7" y="300.7" width="7.6" height="7.6" fill="#23a983"/>
<rect x="76.7" y="300.7" width="7.6" height="7.6" fill="#26ad81"/>
<rect x="83.7" y="300.7" width="7.6" height="7.6" fill="#3bbb75"/>
<rect x="90.7" y="300.7" width="7.6" height="7.6" fill="#4ac16d"/>
<rect x="97.7" y="300.7" width="7.6" height="7.6" fill="#4cc26c"/>
<rect x="104.7" y="300.7" width="21.6" height="7.6" fill="#4ac16d"/>
<rect x="125.7" y="300.7" width="28.6" height="7.6" fill="#48c16e"/>
<rect x="153.7" y="300.7" width="84.6" height="7.6" fill="#46c06f"/>
<rect x="237.7" y="300.7" width="28.6" height="7.6" fill="#48c16e"/>
<rect x="265.7" y="300.7" width="21.6" height="7.6" fill="#4ac16d"/>
<rect x="286.7" y="300.7" width="14.6" height="7.6" fill="#4cc26c"/>
<rect x="300.7" y="300.7" width="7.6" height="7.6" fill="#48c16e"/>
<rect x="307.7" y="300.7" width="7.6" height="7.6" fill="#34b679"/>
<rect x="314.7" y="300.7" width="7.6" height="7.6" fill="#25ab82"/>
<rect x="321.7" y="300.7" width="56.6" height="7.6" fill="#22a884"/>
<rect x="377.7" y="300.7" width="7.6" height="7.6" fill="#1e9c89"/>
<rect x="384.7" y="300.7" width="7.6" height="7.6" fill="#2e6f8e"/>
<rect x="391.7" y="300.7" width="7.6" height="7.6" fill="#46075a"/>
<rect x="398.7" y="300.7" width="14.6" height="7.6" fill="#440154"/>
</g></svg>
<div class="ax" style="left:747.95px;top:470.95px;width:398px;height:294.7px"></div>
<div class="ttl" style="left:746px;top:447.6px">Fusion Driven Normalized flux</div>
<div class="tk" style="left:743.7px;top:470.95px;width:4.8px;height:1.1px"></div>
<div class="tl" style="right:541.85px;top:463.1px">150</div>
<div class="tk" style="left:743.7px;top:519.95px;width:4.8px;height:1.1px"></div>
<div class="tl" style="right:541.85px;top:512.1px">100</div>
<div class="tk" style="left:743.7px;top:568.95px;width:4.8px;height:1.1px"></div>
<div class="tl" style="right:541.85px;top:561.1px">50</div>
<div class="tk" style="left:743.7px;top:617.95px;width:4.8px;height:1.1px"></div>
<div class="tl" style="right:540.15px;top:610.1px">0</div>
<div class="tk" style="left:743.7px;top:666.95px;width:4.8px;height:1.1px"></div>
<div class="tl" style="right:541.85px;top:659.1px">−50</div>
<div class="tk" style="left:743.7px;top:715.95px;width:4.8px;height:1.1px"></div>
<div class="tl" style="right:541.85px;top:708.1px">−100</div>
<div class="tk" style="left:743.7px;top:764.95px;width:4.8px;height:1.1px"></div>
<div class="tl" style="right:541.85px;top:757.1px">−150</div>
<div class="tk" style="left:750.75px;top:765.1px;width:1.1px;height:5px"></div>
<div class="tl c" style="left:711.3px;top:772.6px">−200</div>
<div class="tk" style="left:799.6px;top:765.1px;width:1.1px;height:5px"></div>
<div class="tl c" style="left:760.15px;top:772.6px">−150</div>
<div class="tk" style="left:848.45px;top:765.1px;width:1.1px;height:5px"></div>
<div class="tl c" style="left:809px;top:772.6px">−100</div>
<div class="tk" style="left:897.3px;top:765.1px;width:1.1px;height:5px"></div>
<div class="tl c" style="left:857.85px;top:772.6px">−50</div>
<div class="tk" style="left:946.15px;top:765.1px;width:1.1px;height:5px"></div>
<div class="tl c" style="left:906.7px;top:772.6px">0</div>
<div class="tk" style="left:995px;top:765.1px;width:1.1px;height:5px"></div>
<div class="tl c" style="left:955.55px;top:772.6px">50</div>
<div class="tk" style="left:1043.85px;top:765.1px;width:1.1px;height:5px"></div>
<div class="tl c" style="left:1004.4px;top:772.6px">100</div>
<div class="tk" style="left:1092.7px;top:765.1px;width:1.1px;height:5px"></div>
<div class="tl c" style="left:1053.25px;top:772.6px">150</div>
<div class="tk" style="left:1141.55px;top:765.1px;width:1.1px;height:5px"></div>
<div class="tl c" style="left:1102.1px;top:772.6px">200</div>
<div class="al" style="left:925px;top:792px">y [cm]</div>
<div class="al" style="left:686px;top:619px;transform:translate(-50%,-50%) rotate(-90deg)">z [cm]</div>
<div class="abs" style="left:1170.4px;top:434px;width:18.3px;height:369.6px;background:linear-gradient(to bottom,#fde725 0%, #dfe318 5%, #bddf26 10%, #9bd93c 15%, #7ad151 20%, #5ec962 25%, #44bf70 30%, #2fb47c 35%, #22a884 40%, #1e9c89 45%, #21918c 50%, #25848e 55%, #2a788e 60%, #2f6c8e 65%, #355f8d 70%, #3b528b 75%, #414487 80%, #463480 85%, #482475 90%, #471365 95%, #440154 100%)"></div>
<div class="ax" style="left:1169.9px;top:433.5px;width:19.3px;height:370.6px"></div>
<div class="tk" style="left:1189px;top:434.65px;width:5px;height:1.1px"></div>
<div class="tk" style="left:1189px;top:621.587px;width:5px;height:1.1px"></div>
<div class="tk" style="left:1189px;top:565.173px;width:2.8px;height:0.9px"></div>
<div class="tk" style="left:1189px;top:752.91px;width:2.8px;height:0.9px"></div>
<div class="tk" style="left:1189px;top:532.114px;width:2.8px;height:0.9px"></div>
<div class="tk" style="left:1189px;top:719.851px;width:2.8px;height:0.9px"></div>
<div class="tk" style="left:1189px;top:508.658px;width:2.8px;height:0.9px"></div>
<div class="tk" style="left:1189px;top:696.396px;width:2.8px;height:0.9px"></div>
<div class="tk" style="left:1189px;top:490.465px;width:2.8px;height:0.9px"></div>
<div class="tk" style="left:1189px;top:678.202px;width:2.8px;height:0.9px"></div>
<div class="tk" style="left:1189px;top:475.599px;width:2.8px;height:0.9px"></div>
<div class="tk" style="left:1189px;top:663.337px;width:2.8px;height:0.9px"></div>
<div class="tk" style="left:1189px;top:463.031px;width:2.8px;height:0.9px"></div>
<div class="tk" style="left:1189px;top:650.768px;width:2.8px;height:0.9px"></div>
<div class="tk" style="left:1189px;top:452.144px;width:2.8px;height:0.9px"></div>
<div class="tk" style="left:1189px;top:639.881px;width:2.8px;height:0.9px"></div>
<div class="tk" style="left:1189px;top:442.54px;width:2.8px;height:0.9px"></div>
<div class="tk" style="left:1189px;top:630.278px;width:2.8px;height:0.9px"></div>
<div class="cbl" style="left:1199px;top:428.2px">10<sup>0</sup></div>
<div class="cbl" style="left:1199px;top:615.137px">10<sup>−1</sup></div>
</body></html>
